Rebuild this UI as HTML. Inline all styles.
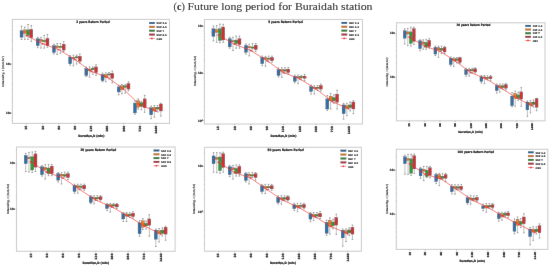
<!DOCTYPE html>
<html><head><meta charset="utf-8"><title>Future long period for Buraidah station</title>
<style>html,body{margin:0;padding:0;background:#fff;}svg{display:block;}.t{font-family:'DejaVu Sans','Liberation Sans',sans-serif;font-weight:bold;fill:#000;stroke:#000;stroke-width:0.2;}.h{font-family:"Liberation Serif","DejaVu Serif",serif;fill:#111;}</style></head><body>
<svg width="550" height="266" viewBox="0 0 550 266">
<defs><filter id="b" x="0" y="0" width="550" height="266" filterUnits="userSpaceOnUse"><feConvolveMatrix order="3" kernelMatrix="0.0035 0.0587 0.0035 0.0587 1.0000 0.0587 0.0035 0.0587 0.0035" edgeMode="duplicate" preserveAlpha="true"/></filter></defs>
<g filter="url(#b)">
<rect width="550" height="266" fill="#fff"/>
<text class="h" x="173.6" y="10.1" font-size="10.6" textLength="11.2" lengthAdjust="spacingAndGlyphs" stroke="#111" stroke-width="0.06">(<tspan font-weight="bold">c</tspan>)</text>
<text class="h" x="187.5" y="10.1" font-size="10.6" textLength="185" lengthAdjust="spacingAndGlyphs" stroke="#111" stroke-width="0.06">Future long period for Buraidah station</text>
<rect x="12.4" y="19.4" width="157.1" height="104" fill="none" stroke="#cecece" stroke-width="1.1"/>
<line x1="26.4" y1="123.4" x2="26.4" y2="124.6" stroke="#777" stroke-width="0.4"/>
<line x1="42.6" y1="123.4" x2="42.6" y2="124.6" stroke="#777" stroke-width="0.4"/>
<line x1="58.8" y1="123.4" x2="58.8" y2="124.6" stroke="#777" stroke-width="0.4"/>
<line x1="75" y1="123.4" x2="75" y2="124.6" stroke="#777" stroke-width="0.4"/>
<line x1="91.2" y1="123.4" x2="91.2" y2="124.6" stroke="#777" stroke-width="0.4"/>
<line x1="107.4" y1="123.4" x2="107.4" y2="124.6" stroke="#777" stroke-width="0.4"/>
<line x1="123.6" y1="123.4" x2="123.6" y2="124.6" stroke="#777" stroke-width="0.4"/>
<line x1="139.8" y1="123.4" x2="139.8" y2="124.6" stroke="#777" stroke-width="0.4"/>
<line x1="156" y1="123.4" x2="156" y2="124.6" stroke="#777" stroke-width="0.4"/>
<line x1="21.54" y1="26.1" x2="21.54" y2="30.7" stroke="#707070" stroke-width="0.45"/>
<line x1="21.54" y1="37.3" x2="21.54" y2="39.5" stroke="#707070" stroke-width="0.45"/>
<line x1="20.73" y1="26.1" x2="22.35" y2="26.1" stroke="#555" stroke-width="0.55"/>
<line x1="20.73" y1="39.5" x2="22.35" y2="39.5" stroke="#555" stroke-width="0.55"/>
<rect x="20.02" y="30.7" width="3.04" height="6.6" fill="#2771ad" stroke="#4a4a4a" stroke-width="0.3"/>
<line x1="20.02" y1="34" x2="23.06" y2="34" stroke="#b8402c" stroke-opacity="0.75" stroke-width="0.45"/>
<line x1="24.78" y1="27.1" x2="24.78" y2="29.9" stroke="#707070" stroke-width="0.45"/>
<line x1="24.78" y1="33.6" x2="24.78" y2="39.4" stroke="#707070" stroke-width="0.45"/>
<line x1="23.97" y1="27.1" x2="25.59" y2="27.1" stroke="#555" stroke-width="0.55"/>
<line x1="23.97" y1="39.4" x2="25.59" y2="39.4" stroke="#555" stroke-width="0.55"/>
<rect x="23.26" y="29.9" width="3.04" height="3.7" fill="#ef7d1c" stroke="#4a4a4a" stroke-width="0.3"/>
<line x1="23.26" y1="31.75" x2="26.3" y2="31.75" stroke="#b8402c" stroke-opacity="0.75" stroke-width="0.45"/>
<line x1="28.02" y1="24.5" x2="28.02" y2="29.9" stroke="#707070" stroke-width="0.45"/>
<line x1="28.02" y1="35.6" x2="28.02" y2="39.4" stroke="#707070" stroke-width="0.45"/>
<line x1="27.21" y1="24.5" x2="28.83" y2="24.5" stroke="#555" stroke-width="0.55"/>
<line x1="27.21" y1="39.4" x2="28.83" y2="39.4" stroke="#555" stroke-width="0.55"/>
<rect x="26.5" y="29.9" width="3.04" height="5.7" fill="#2b9b35" stroke="#4a4a4a" stroke-width="0.3"/>
<line x1="26.5" y1="32.75" x2="29.54" y2="32.75" stroke="#b8402c" stroke-opacity="0.75" stroke-width="0.45"/>
<line x1="31.26" y1="25.5" x2="31.26" y2="29.4" stroke="#707070" stroke-width="0.45"/>
<line x1="31.26" y1="37.7" x2="31.26" y2="41.4" stroke="#707070" stroke-width="0.45"/>
<line x1="30.45" y1="25.5" x2="32.07" y2="25.5" stroke="#555" stroke-width="0.55"/>
<line x1="30.45" y1="41.4" x2="32.07" y2="41.4" stroke="#555" stroke-width="0.55"/>
<rect x="29.74" y="29.4" width="3.04" height="8.3" fill="#cf2f34" stroke="#4a4a4a" stroke-width="0.3"/>
<line x1="29.74" y1="33.55" x2="32.78" y2="33.55" stroke="#b8402c" stroke-opacity="0.75" stroke-width="0.45"/>
<line x1="37.74" y1="37.4" x2="37.74" y2="38.8" stroke="#707070" stroke-width="0.45"/>
<line x1="37.74" y1="45.7" x2="37.74" y2="47.7" stroke="#707070" stroke-width="0.45"/>
<line x1="36.93" y1="37.4" x2="38.55" y2="37.4" stroke="#555" stroke-width="0.55"/>
<line x1="36.93" y1="47.7" x2="38.55" y2="47.7" stroke="#555" stroke-width="0.55"/>
<rect x="36.22" y="38.8" width="3.04" height="6.9" fill="#2771ad" stroke="#4a4a4a" stroke-width="0.3"/>
<line x1="36.22" y1="42.25" x2="39.26" y2="42.25" stroke="#b8402c" stroke-opacity="0.75" stroke-width="0.45"/>
<line x1="40.98" y1="37.4" x2="40.98" y2="39.3" stroke="#707070" stroke-width="0.45"/>
<line x1="40.98" y1="41.3" x2="40.98" y2="48.1" stroke="#707070" stroke-width="0.45"/>
<line x1="40.17" y1="37.4" x2="41.79" y2="37.4" stroke="#555" stroke-width="0.55"/>
<line x1="40.17" y1="48.1" x2="41.79" y2="48.1" stroke="#555" stroke-width="0.55"/>
<rect x="39.46" y="39.3" width="3.04" height="2" fill="#ef7d1c" stroke="#4a4a4a" stroke-width="0.3"/>
<line x1="39.46" y1="40.3" x2="42.5" y2="40.3" stroke="#b8402c" stroke-opacity="0.75" stroke-width="0.45"/>
<line x1="44.22" y1="35.4" x2="44.22" y2="40.3" stroke="#707070" stroke-width="0.45"/>
<line x1="44.22" y1="41.8" x2="44.22" y2="48.1" stroke="#707070" stroke-width="0.45"/>
<line x1="43.41" y1="35.4" x2="45.03" y2="35.4" stroke="#555" stroke-width="0.55"/>
<line x1="43.41" y1="48.1" x2="45.03" y2="48.1" stroke="#555" stroke-width="0.55"/>
<rect x="42.7" y="40.3" width="3.04" height="1.5" fill="#2b9b35" stroke="#4a4a4a" stroke-width="0.3"/>
<line x1="42.7" y1="41.05" x2="45.74" y2="41.05" stroke="#b8402c" stroke-opacity="0.75" stroke-width="0.45"/>
<line x1="47.46" y1="34.4" x2="47.46" y2="38.4" stroke="#707070" stroke-width="0.45"/>
<line x1="47.46" y1="45.7" x2="47.46" y2="47.2" stroke="#707070" stroke-width="0.45"/>
<line x1="46.65" y1="34.4" x2="48.27" y2="34.4" stroke="#555" stroke-width="0.55"/>
<line x1="46.65" y1="47.2" x2="48.27" y2="47.2" stroke="#555" stroke-width="0.55"/>
<rect x="45.94" y="38.4" width="3.04" height="7.3" fill="#cf2f34" stroke="#4a4a4a" stroke-width="0.3"/>
<line x1="45.94" y1="42.05" x2="48.98" y2="42.05" stroke="#b8402c" stroke-opacity="0.75" stroke-width="0.45"/>
<line x1="53.94" y1="44.2" x2="53.94" y2="45.7" stroke="#707070" stroke-width="0.45"/>
<line x1="53.94" y1="52.5" x2="53.94" y2="54" stroke="#707070" stroke-width="0.45"/>
<line x1="53.13" y1="44.2" x2="54.75" y2="44.2" stroke="#555" stroke-width="0.55"/>
<line x1="53.13" y1="54" x2="54.75" y2="54" stroke="#555" stroke-width="0.55"/>
<rect x="52.42" y="45.7" width="3.04" height="6.8" fill="#2771ad" stroke="#4a4a4a" stroke-width="0.3"/>
<line x1="52.42" y1="49.1" x2="55.46" y2="49.1" stroke="#b8402c" stroke-opacity="0.75" stroke-width="0.45"/>
<line x1="57.18" y1="43.5" x2="57.18" y2="45.9" stroke="#707070" stroke-width="0.45"/>
<line x1="57.18" y1="47.7" x2="57.18" y2="54.5" stroke="#707070" stroke-width="0.45"/>
<line x1="56.37" y1="43.5" x2="57.99" y2="43.5" stroke="#555" stroke-width="0.55"/>
<line x1="56.37" y1="54.5" x2="57.99" y2="54.5" stroke="#555" stroke-width="0.55"/>
<rect x="55.66" y="45.9" width="3.04" height="1.8" fill="#ef7d1c" stroke="#4a4a4a" stroke-width="0.3"/>
<line x1="55.66" y1="46.8" x2="58.7" y2="46.8" stroke="#b8402c" stroke-opacity="0.75" stroke-width="0.45"/>
<line x1="60.42" y1="43.5" x2="60.42" y2="46.2" stroke="#707070" stroke-width="0.45"/>
<line x1="60.42" y1="47.5" x2="60.42" y2="53.3" stroke="#707070" stroke-width="0.45"/>
<line x1="59.61" y1="43.5" x2="61.23" y2="43.5" stroke="#555" stroke-width="0.55"/>
<line x1="59.61" y1="53.3" x2="61.23" y2="53.3" stroke="#555" stroke-width="0.55"/>
<rect x="58.9" y="46.2" width="3.04" height="1.3" fill="#2b9b35" stroke="#4a4a4a" stroke-width="0.3"/>
<line x1="58.9" y1="46.85" x2="61.94" y2="46.85" stroke="#b8402c" stroke-opacity="0.75" stroke-width="0.45"/>
<line x1="63.66" y1="41.6" x2="63.66" y2="44.2" stroke="#707070" stroke-width="0.45"/>
<line x1="63.66" y1="50.1" x2="63.66" y2="51.6" stroke="#707070" stroke-width="0.45"/>
<line x1="62.85" y1="41.6" x2="64.47" y2="41.6" stroke="#555" stroke-width="0.55"/>
<line x1="62.85" y1="51.6" x2="64.47" y2="51.6" stroke="#555" stroke-width="0.55"/>
<rect x="62.14" y="44.2" width="3.04" height="5.9" fill="#cf2f34" stroke="#4a4a4a" stroke-width="0.3"/>
<line x1="62.14" y1="47.15" x2="65.18" y2="47.15" stroke="#b8402c" stroke-opacity="0.75" stroke-width="0.45"/>
<line x1="70.14" y1="55.6" x2="70.14" y2="57" stroke="#707070" stroke-width="0.45"/>
<line x1="70.14" y1="63.8" x2="70.14" y2="65.2" stroke="#707070" stroke-width="0.45"/>
<line x1="69.33" y1="55.6" x2="70.95" y2="55.6" stroke="#555" stroke-width="0.55"/>
<line x1="69.33" y1="65.2" x2="70.95" y2="65.2" stroke="#555" stroke-width="0.55"/>
<rect x="68.62" y="57" width="3.04" height="6.8" fill="#2771ad" stroke="#4a4a4a" stroke-width="0.3"/>
<line x1="68.62" y1="60.4" x2="71.66" y2="60.4" stroke="#b8402c" stroke-opacity="0.75" stroke-width="0.45"/>
<line x1="73.38" y1="55.1" x2="73.38" y2="57.3" stroke="#707070" stroke-width="0.45"/>
<line x1="73.38" y1="59" x2="73.38" y2="65.8" stroke="#707070" stroke-width="0.45"/>
<line x1="72.57" y1="55.1" x2="74.19" y2="55.1" stroke="#555" stroke-width="0.55"/>
<line x1="72.57" y1="65.8" x2="74.19" y2="65.8" stroke="#555" stroke-width="0.55"/>
<rect x="71.86" y="57.3" width="3.04" height="1.7" fill="#ef7d1c" stroke="#4a4a4a" stroke-width="0.3"/>
<line x1="71.86" y1="58.15" x2="74.9" y2="58.15" stroke="#b8402c" stroke-opacity="0.75" stroke-width="0.45"/>
<line x1="76.62" y1="55.1" x2="76.62" y2="56.8" stroke="#707070" stroke-width="0.45"/>
<line x1="76.62" y1="57.9" x2="76.62" y2="64.1" stroke="#707070" stroke-width="0.45"/>
<line x1="75.81" y1="55.1" x2="77.43" y2="55.1" stroke="#555" stroke-width="0.55"/>
<line x1="75.81" y1="64.1" x2="77.43" y2="64.1" stroke="#555" stroke-width="0.55"/>
<rect x="75.1" y="56.8" width="3.04" height="1.1" fill="#2b9b35" stroke="#4a4a4a" stroke-width="0.3"/>
<line x1="75.1" y1="57.35" x2="78.14" y2="57.35" stroke="#b8402c" stroke-opacity="0.75" stroke-width="0.45"/>
<line x1="79.86" y1="54" x2="79.86" y2="56.2" stroke="#707070" stroke-width="0.45"/>
<line x1="79.86" y1="61.3" x2="79.86" y2="63" stroke="#707070" stroke-width="0.45"/>
<line x1="79.05" y1="54" x2="80.67" y2="54" stroke="#555" stroke-width="0.55"/>
<line x1="79.05" y1="63" x2="80.67" y2="63" stroke="#555" stroke-width="0.55"/>
<rect x="78.34" y="56.2" width="3.04" height="5.1" fill="#cf2f34" stroke="#4a4a4a" stroke-width="0.3"/>
<line x1="78.34" y1="58.75" x2="81.38" y2="58.75" stroke="#b8402c" stroke-opacity="0.75" stroke-width="0.45"/>
<line x1="86.34" y1="67" x2="86.34" y2="68.6" stroke="#707070" stroke-width="0.45"/>
<line x1="86.34" y1="75.4" x2="86.34" y2="76.5" stroke="#707070" stroke-width="0.45"/>
<line x1="85.53" y1="67" x2="87.15" y2="67" stroke="#555" stroke-width="0.55"/>
<line x1="85.53" y1="76.5" x2="87.15" y2="76.5" stroke="#555" stroke-width="0.55"/>
<rect x="84.82" y="68.6" width="3.04" height="6.8" fill="#2771ad" stroke="#4a4a4a" stroke-width="0.3"/>
<line x1="84.82" y1="72" x2="87.86" y2="72" stroke="#b8402c" stroke-opacity="0.75" stroke-width="0.45"/>
<line x1="89.58" y1="66.9" x2="89.58" y2="69" stroke="#707070" stroke-width="0.45"/>
<line x1="89.58" y1="70.9" x2="89.58" y2="77.1" stroke="#707070" stroke-width="0.45"/>
<line x1="88.77" y1="66.9" x2="90.39" y2="66.9" stroke="#555" stroke-width="0.55"/>
<line x1="88.77" y1="77.1" x2="90.39" y2="77.1" stroke="#555" stroke-width="0.55"/>
<rect x="88.06" y="69" width="3.04" height="1.9" fill="#ef7d1c" stroke="#4a4a4a" stroke-width="0.3"/>
<line x1="88.06" y1="69.95" x2="91.1" y2="69.95" stroke="#b8402c" stroke-opacity="0.75" stroke-width="0.45"/>
<line x1="92.82" y1="66.9" x2="92.82" y2="68.1" stroke="#707070" stroke-width="0.45"/>
<line x1="92.82" y1="69.8" x2="92.82" y2="74.3" stroke="#707070" stroke-width="0.45"/>
<line x1="92.01" y1="66.9" x2="93.63" y2="66.9" stroke="#555" stroke-width="0.55"/>
<line x1="92.01" y1="74.3" x2="93.63" y2="74.3" stroke="#555" stroke-width="0.55"/>
<rect x="91.3" y="68.1" width="3.04" height="1.7" fill="#2b9b35" stroke="#4a4a4a" stroke-width="0.3"/>
<line x1="91.3" y1="68.95" x2="94.34" y2="68.95" stroke="#b8402c" stroke-opacity="0.75" stroke-width="0.45"/>
<line x1="96.06" y1="64.7" x2="96.06" y2="66.9" stroke="#707070" stroke-width="0.45"/>
<line x1="96.06" y1="72.6" x2="96.06" y2="75.4" stroke="#707070" stroke-width="0.45"/>
<line x1="95.25" y1="64.7" x2="96.87" y2="64.7" stroke="#555" stroke-width="0.55"/>
<line x1="95.25" y1="75.4" x2="96.87" y2="75.4" stroke="#555" stroke-width="0.55"/>
<rect x="94.54" y="66.9" width="3.04" height="5.7" fill="#cf2f34" stroke="#4a4a4a" stroke-width="0.3"/>
<line x1="94.54" y1="69.75" x2="97.58" y2="69.75" stroke="#b8402c" stroke-opacity="0.75" stroke-width="0.45"/>
<line x1="102.54" y1="73" x2="102.54" y2="74.5" stroke="#707070" stroke-width="0.45"/>
<line x1="102.54" y1="80.7" x2="102.54" y2="81.8" stroke="#707070" stroke-width="0.45"/>
<line x1="101.73" y1="73" x2="103.35" y2="73" stroke="#555" stroke-width="0.55"/>
<line x1="101.73" y1="81.8" x2="103.35" y2="81.8" stroke="#555" stroke-width="0.55"/>
<rect x="101.02" y="74.5" width="3.04" height="6.2" fill="#2771ad" stroke="#4a4a4a" stroke-width="0.3"/>
<line x1="101.02" y1="77.6" x2="104.06" y2="77.6" stroke="#b8402c" stroke-opacity="0.75" stroke-width="0.45"/>
<line x1="105.78" y1="72.8" x2="105.78" y2="74.5" stroke="#707070" stroke-width="0.45"/>
<line x1="105.78" y1="77.5" x2="105.78" y2="81.8" stroke="#707070" stroke-width="0.45"/>
<line x1="104.97" y1="72.8" x2="106.59" y2="72.8" stroke="#555" stroke-width="0.55"/>
<line x1="104.97" y1="81.8" x2="106.59" y2="81.8" stroke="#555" stroke-width="0.55"/>
<rect x="104.26" y="74.5" width="3.04" height="3" fill="#ef7d1c" stroke="#4a4a4a" stroke-width="0.3"/>
<line x1="104.26" y1="76" x2="107.3" y2="76" stroke="#b8402c" stroke-opacity="0.75" stroke-width="0.45"/>
<line x1="109.02" y1="72.5" x2="109.02" y2="73.9" stroke="#707070" stroke-width="0.45"/>
<line x1="109.02" y1="75" x2="109.02" y2="79" stroke="#707070" stroke-width="0.45"/>
<line x1="108.21" y1="72.5" x2="109.83" y2="72.5" stroke="#555" stroke-width="0.55"/>
<line x1="108.21" y1="79" x2="109.83" y2="79" stroke="#555" stroke-width="0.55"/>
<rect x="107.5" y="73.9" width="3.04" height="1.1" fill="#2b9b35" stroke="#4a4a4a" stroke-width="0.3"/>
<line x1="107.5" y1="74.45" x2="110.54" y2="74.45" stroke="#b8402c" stroke-opacity="0.75" stroke-width="0.45"/>
<line x1="112.26" y1="71.1" x2="112.26" y2="73.3" stroke="#707070" stroke-width="0.45"/>
<line x1="112.26" y1="78.4" x2="112.26" y2="82.9" stroke="#707070" stroke-width="0.45"/>
<line x1="111.45" y1="71.1" x2="113.07" y2="71.1" stroke="#555" stroke-width="0.55"/>
<line x1="111.45" y1="82.9" x2="113.07" y2="82.9" stroke="#555" stroke-width="0.55"/>
<rect x="110.74" y="73.3" width="3.04" height="5.1" fill="#cf2f34" stroke="#4a4a4a" stroke-width="0.3"/>
<line x1="110.74" y1="75.85" x2="113.78" y2="75.85" stroke="#b8402c" stroke-opacity="0.75" stroke-width="0.45"/>
<line x1="118.74" y1="85.3" x2="118.74" y2="86.9" stroke="#707070" stroke-width="0.45"/>
<line x1="118.74" y1="92" x2="118.74" y2="94.8" stroke="#707070" stroke-width="0.45"/>
<line x1="117.93" y1="85.3" x2="119.55" y2="85.3" stroke="#555" stroke-width="0.55"/>
<line x1="117.93" y1="94.8" x2="119.55" y2="94.8" stroke="#555" stroke-width="0.55"/>
<rect x="117.22" y="86.9" width="3.04" height="5.1" fill="#2771ad" stroke="#4a4a4a" stroke-width="0.3"/>
<line x1="117.22" y1="89.45" x2="120.26" y2="89.45" stroke="#b8402c" stroke-opacity="0.75" stroke-width="0.45"/>
<line x1="121.98" y1="84.6" x2="121.98" y2="85.8" stroke="#707070" stroke-width="0.45"/>
<line x1="121.98" y1="89.7" x2="121.98" y2="93.7" stroke="#707070" stroke-width="0.45"/>
<line x1="121.17" y1="84.6" x2="122.79" y2="84.6" stroke="#555" stroke-width="0.55"/>
<line x1="121.17" y1="93.7" x2="122.79" y2="93.7" stroke="#555" stroke-width="0.55"/>
<rect x="120.46" y="85.8" width="3.04" height="3.9" fill="#ef7d1c" stroke="#4a4a4a" stroke-width="0.3"/>
<line x1="120.46" y1="87.75" x2="123.5" y2="87.75" stroke="#b8402c" stroke-opacity="0.75" stroke-width="0.45"/>
<line x1="125.22" y1="84.6" x2="125.22" y2="85.8" stroke="#707070" stroke-width="0.45"/>
<line x1="125.22" y1="87.4" x2="125.22" y2="93.1" stroke="#707070" stroke-width="0.45"/>
<line x1="124.41" y1="84.6" x2="126.03" y2="84.6" stroke="#555" stroke-width="0.55"/>
<line x1="124.41" y1="93.1" x2="126.03" y2="93.1" stroke="#555" stroke-width="0.55"/>
<rect x="123.7" y="85.8" width="3.04" height="1.6" fill="#2b9b35" stroke="#4a4a4a" stroke-width="0.3"/>
<line x1="123.7" y1="86.6" x2="126.74" y2="86.6" stroke="#b8402c" stroke-opacity="0.75" stroke-width="0.45"/>
<line x1="128.46" y1="81.8" x2="128.46" y2="83.5" stroke="#707070" stroke-width="0.45"/>
<line x1="128.46" y1="89.1" x2="128.46" y2="90.8" stroke="#707070" stroke-width="0.45"/>
<line x1="127.65" y1="81.8" x2="129.27" y2="81.8" stroke="#555" stroke-width="0.55"/>
<line x1="127.65" y1="90.8" x2="129.27" y2="90.8" stroke="#555" stroke-width="0.55"/>
<rect x="126.94" y="83.5" width="3.04" height="5.6" fill="#cf2f34" stroke="#4a4a4a" stroke-width="0.3"/>
<line x1="126.94" y1="86.3" x2="129.98" y2="86.3" stroke="#b8402c" stroke-opacity="0.75" stroke-width="0.45"/>
<line x1="134.94" y1="101" x2="134.94" y2="103.1" stroke="#707070" stroke-width="0.45"/>
<line x1="134.94" y1="112.9" x2="134.94" y2="114.2" stroke="#707070" stroke-width="0.45"/>
<line x1="134.13" y1="101" x2="135.75" y2="101" stroke="#555" stroke-width="0.55"/>
<line x1="134.13" y1="114.2" x2="135.75" y2="114.2" stroke="#555" stroke-width="0.55"/>
<rect x="133.42" y="103.1" width="3.04" height="9.8" fill="#2771ad" stroke="#4a4a4a" stroke-width="0.3"/>
<line x1="133.42" y1="108" x2="136.46" y2="108" stroke="#b8402c" stroke-opacity="0.75" stroke-width="0.45"/>
<line x1="138.18" y1="98.9" x2="138.18" y2="100.8" stroke="#707070" stroke-width="0.45"/>
<line x1="138.18" y1="107.2" x2="138.18" y2="109.1" stroke="#707070" stroke-width="0.45"/>
<line x1="137.37" y1="98.9" x2="138.99" y2="98.9" stroke="#555" stroke-width="0.55"/>
<line x1="137.37" y1="109.1" x2="138.99" y2="109.1" stroke="#555" stroke-width="0.55"/>
<rect x="136.66" y="100.8" width="3.04" height="6.4" fill="#ef7d1c" stroke="#4a4a4a" stroke-width="0.3"/>
<line x1="136.66" y1="104" x2="139.7" y2="104" stroke="#b8402c" stroke-opacity="0.75" stroke-width="0.45"/>
<line x1="141.42" y1="101.4" x2="141.42" y2="102.7" stroke="#707070" stroke-width="0.45"/>
<line x1="141.42" y1="106.5" x2="141.42" y2="109.7" stroke="#707070" stroke-width="0.45"/>
<line x1="140.61" y1="101.4" x2="142.23" y2="101.4" stroke="#555" stroke-width="0.55"/>
<line x1="140.61" y1="109.7" x2="142.23" y2="109.7" stroke="#555" stroke-width="0.55"/>
<rect x="139.9" y="102.7" width="3.04" height="3.8" fill="#2b9b35" stroke="#4a4a4a" stroke-width="0.3"/>
<line x1="139.9" y1="104.6" x2="142.94" y2="104.6" stroke="#b8402c" stroke-opacity="0.75" stroke-width="0.45"/>
<line x1="144.66" y1="95.4" x2="144.66" y2="98.9" stroke="#707070" stroke-width="0.45"/>
<line x1="144.66" y1="107.8" x2="144.66" y2="112.3" stroke="#707070" stroke-width="0.45"/>
<line x1="143.85" y1="95.4" x2="145.47" y2="95.4" stroke="#555" stroke-width="0.55"/>
<line x1="143.85" y1="112.3" x2="145.47" y2="112.3" stroke="#555" stroke-width="0.55"/>
<rect x="143.14" y="98.9" width="3.04" height="8.9" fill="#cf2f34" stroke="#4a4a4a" stroke-width="0.3"/>
<line x1="143.14" y1="103.35" x2="146.18" y2="103.35" stroke="#b8402c" stroke-opacity="0.75" stroke-width="0.45"/>
<line x1="151.14" y1="106" x2="151.14" y2="107.8" stroke="#707070" stroke-width="0.45"/>
<line x1="151.14" y1="114.8" x2="151.14" y2="118.7" stroke="#707070" stroke-width="0.45"/>
<line x1="150.33" y1="106" x2="151.95" y2="106" stroke="#555" stroke-width="0.55"/>
<line x1="150.33" y1="118.7" x2="151.95" y2="118.7" stroke="#555" stroke-width="0.55"/>
<rect x="149.62" y="107.8" width="3.04" height="7" fill="#2771ad" stroke="#4a4a4a" stroke-width="0.3"/>
<line x1="149.62" y1="111.3" x2="152.66" y2="111.3" stroke="#b8402c" stroke-opacity="0.75" stroke-width="0.45"/>
<line x1="154.38" y1="105.5" x2="154.38" y2="107.2" stroke="#707070" stroke-width="0.45"/>
<line x1="154.38" y1="111" x2="154.38" y2="117.1" stroke="#707070" stroke-width="0.45"/>
<line x1="153.57" y1="105.5" x2="155.19" y2="105.5" stroke="#555" stroke-width="0.55"/>
<line x1="153.57" y1="117.1" x2="155.19" y2="117.1" stroke="#555" stroke-width="0.55"/>
<rect x="152.86" y="107.2" width="3.04" height="3.8" fill="#ef7d1c" stroke="#4a4a4a" stroke-width="0.3"/>
<line x1="152.86" y1="109.1" x2="155.9" y2="109.1" stroke="#b8402c" stroke-opacity="0.75" stroke-width="0.45"/>
<line x1="157.62" y1="105.5" x2="157.62" y2="107.2" stroke="#707070" stroke-width="0.45"/>
<line x1="157.62" y1="109.1" x2="157.62" y2="112" stroke="#707070" stroke-width="0.45"/>
<line x1="156.81" y1="105.5" x2="158.43" y2="105.5" stroke="#555" stroke-width="0.55"/>
<line x1="156.81" y1="112" x2="158.43" y2="112" stroke="#555" stroke-width="0.55"/>
<rect x="156.1" y="107.2" width="3.04" height="1.9" fill="#2b9b35" stroke="#4a4a4a" stroke-width="0.3"/>
<line x1="156.1" y1="108.15" x2="159.14" y2="108.15" stroke="#b8402c" stroke-opacity="0.75" stroke-width="0.45"/>
<line x1="160.86" y1="103.3" x2="160.86" y2="104" stroke="#707070" stroke-width="0.45"/>
<line x1="160.86" y1="111" x2="160.86" y2="116.1" stroke="#707070" stroke-width="0.45"/>
<line x1="160.05" y1="103.3" x2="161.67" y2="103.3" stroke="#555" stroke-width="0.55"/>
<line x1="160.05" y1="116.1" x2="161.67" y2="116.1" stroke="#555" stroke-width="0.55"/>
<rect x="159.34" y="104" width="3.04" height="7" fill="#cf2f34" stroke="#4a4a4a" stroke-width="0.3"/>
<line x1="159.34" y1="107.5" x2="162.38" y2="107.5" stroke="#b8402c" stroke-opacity="0.75" stroke-width="0.45"/>
<polyline points="26.4,35.6 42.6,43.7 58.8,49.6 75,59.6 91.2,71.4 107.4,77.3 123.6,89.1 139.8,105 156,111.2" fill="none" stroke="#f02a2a" stroke-width="0.7" stroke-opacity="0.9"/>
<circle cx="26.4" cy="35.6" r="0.9" fill="#f02a2a"/>
<circle cx="42.6" cy="43.7" r="0.9" fill="#f02a2a"/>
<circle cx="58.8" cy="49.6" r="0.9" fill="#f02a2a"/>
<circle cx="75" cy="59.6" r="0.9" fill="#f02a2a"/>
<circle cx="91.2" cy="71.4" r="0.9" fill="#f02a2a"/>
<circle cx="107.4" cy="77.3" r="0.9" fill="#f02a2a"/>
<circle cx="123.6" cy="89.1" r="0.9" fill="#f02a2a"/>
<circle cx="139.8" cy="105" r="0.9" fill="#f02a2a"/>
<circle cx="156" cy="111.2" r="0.9" fill="#f02a2a"/>
<text class="t" x="92.9" y="21.8" font-size="3.15" text-anchor="middle" dominant-baseline="middle" textLength="33.4" lengthAdjust="spacingAndGlyphs">2 years Return Period</text>
<line x1="11.2" y1="64.2" x2="12.4" y2="64.2" stroke="#777" stroke-width="0.4"/>
<text class="t" x="11" y="64.25" font-size="2.9" text-anchor="end" dominant-baseline="middle" style="stroke-width:0.16;fill:#111;stroke:#111">10<tspan font-size="1.9" dy="-0.55">1</tspan></text>
<line x1="11.2" y1="113" x2="12.4" y2="113" stroke="#777" stroke-width="0.4"/>
<text class="t" x="11" y="113.05" font-size="2.9" text-anchor="end" dominant-baseline="middle" style="stroke-width:0.16;fill:#111;stroke:#111">10<tspan font-size="1.9" dy="-0.55">0</tspan></text>
<line x1="11.6" y1="120.56" x2="12.4" y2="120.56" stroke="#999" stroke-width="0.3"/>
<line x1="11.6" y1="117.73" x2="12.4" y2="117.73" stroke="#999" stroke-width="0.3"/>
<line x1="11.6" y1="115.23" x2="12.4" y2="115.23" stroke="#999" stroke-width="0.3"/>
<line x1="11.6" y1="98.31" x2="12.4" y2="98.31" stroke="#999" stroke-width="0.3"/>
<line x1="11.6" y1="89.72" x2="12.4" y2="89.72" stroke="#999" stroke-width="0.3"/>
<line x1="11.6" y1="83.62" x2="12.4" y2="83.62" stroke="#999" stroke-width="0.3"/>
<line x1="11.6" y1="78.89" x2="12.4" y2="78.89" stroke="#999" stroke-width="0.3"/>
<line x1="11.6" y1="75.03" x2="12.4" y2="75.03" stroke="#999" stroke-width="0.3"/>
<line x1="11.6" y1="71.76" x2="12.4" y2="71.76" stroke="#999" stroke-width="0.3"/>
<line x1="11.6" y1="68.93" x2="12.4" y2="68.93" stroke="#999" stroke-width="0.3"/>
<line x1="11.6" y1="66.43" x2="12.4" y2="66.43" stroke="#999" stroke-width="0.3"/>
<line x1="11.6" y1="49.51" x2="12.4" y2="49.51" stroke="#999" stroke-width="0.3"/>
<line x1="11.6" y1="40.92" x2="12.4" y2="40.92" stroke="#999" stroke-width="0.3"/>
<line x1="11.6" y1="34.82" x2="12.4" y2="34.82" stroke="#999" stroke-width="0.3"/>
<line x1="11.6" y1="30.09" x2="12.4" y2="30.09" stroke="#999" stroke-width="0.3"/>
<line x1="11.6" y1="26.23" x2="12.4" y2="26.23" stroke="#999" stroke-width="0.3"/>
<line x1="11.6" y1="22.96" x2="12.4" y2="22.96" stroke="#999" stroke-width="0.3"/>
<line x1="11.6" y1="20.13" x2="12.4" y2="20.13" stroke="#999" stroke-width="0.3"/>
<text class="t" font-size="2.8" text-anchor="middle" dominant-baseline="middle" style="stroke-width:0.1;fill:#1a1a1a;stroke:#1a1a1a" transform="translate(2.9,71.5) rotate(-90)">Intensity, I (mm/hr)</text>
<text class="t" x="91.4" y="135.9" font-size="3" text-anchor="middle" dominant-baseline="middle" textLength="26.2" lengthAdjust="spacingAndGlyphs">Duration,D (min)</text>
<text class="t" font-size="2.9" text-anchor="end" dominant-baseline="middle" style="stroke-width:0.2" transform="translate(26.65,125.7) rotate(-90)">15</text>
<text class="t" font-size="2.9" text-anchor="end" dominant-baseline="middle" style="stroke-width:0.2" transform="translate(42.85,125.7) rotate(-90)">30</text>
<text class="t" font-size="2.9" text-anchor="end" dominant-baseline="middle" style="stroke-width:0.2" transform="translate(59.05,125.7) rotate(-90)">60</text>
<text class="t" font-size="2.9" text-anchor="end" dominant-baseline="middle" style="stroke-width:0.2" transform="translate(75.25,125.7) rotate(-90)">90</text>
<text class="t" font-size="2.9" text-anchor="end" dominant-baseline="middle" style="stroke-width:0.2" transform="translate(91.45,125.7) rotate(-90)">120</text>
<text class="t" font-size="2.9" text-anchor="end" dominant-baseline="middle" style="stroke-width:0.2" transform="translate(107.65,125.7) rotate(-90)">180</text>
<text class="t" font-size="2.9" text-anchor="end" dominant-baseline="middle" style="stroke-width:0.2" transform="translate(123.85,125.7) rotate(-90)">360</text>
<text class="t" font-size="2.9" text-anchor="end" dominant-baseline="middle" style="stroke-width:0.2" transform="translate(140.05,125.7) rotate(-90)">720</text>
<text class="t" font-size="2.9" text-anchor="end" dominant-baseline="middle" style="stroke-width:0.2" transform="translate(156.25,125.7) rotate(-90)">1440</text>
<rect x="149.2" y="22.1" width="5.6" height="1.8" fill="#1f5e98" stroke="#333" stroke-opacity="0.5" stroke-width="0.25"/>
<text class="t" x="156.6" y="23.6" font-size="2.4" dominant-baseline="middle" style="stroke-width:0.12;fill:#111;stroke:#111">SSP 2.6</text>
<rect x="149.2" y="25.97" width="5.6" height="1.8" fill="#cf711b" stroke="#333" stroke-opacity="0.5" stroke-width="0.25"/>
<text class="t" x="156.6" y="27.47" font-size="2.4" dominant-baseline="middle" style="stroke-width:0.12;fill:#111;stroke:#111">SSP 4.5</text>
<rect x="149.2" y="29.84" width="5.6" height="1.8" fill="#207d2b" stroke="#333" stroke-opacity="0.5" stroke-width="0.25"/>
<text class="t" x="156.6" y="31.34" font-size="2.4" dominant-baseline="middle" style="stroke-width:0.12;fill:#111;stroke:#111">SSP 7</text>
<rect x="149.2" y="33.71" width="5.6" height="1.8" fill="#a92a30" stroke="#333" stroke-opacity="0.5" stroke-width="0.25"/>
<text class="t" x="156.6" y="35.21" font-size="2.4" dominant-baseline="middle" style="stroke-width:0.12;fill:#111;stroke:#111">SSP 8.5</text>
<line x1="149.1" y1="38.48" x2="154.7" y2="38.48" stroke="#f02a2a" stroke-width="0.6"/>
<circle cx="151.9" cy="38.48" r="0.9" fill="#f02a2a"/>
<text class="t" x="156.6" y="39.08" font-size="2.4" dominant-baseline="middle" style="stroke-width:0.12;fill:#111;stroke:#111">OBS</text>
<rect x="204.4" y="19.5" width="158.1" height="104.5" fill="none" stroke="#cecece" stroke-width="1.1"/>
<line x1="218.3" y1="124" x2="218.3" y2="125.2" stroke="#777" stroke-width="0.4"/>
<line x1="234.58" y1="124" x2="234.58" y2="125.2" stroke="#777" stroke-width="0.4"/>
<line x1="250.85" y1="124" x2="250.85" y2="125.2" stroke="#777" stroke-width="0.4"/>
<line x1="267.12" y1="124" x2="267.12" y2="125.2" stroke="#777" stroke-width="0.4"/>
<line x1="283.4" y1="124" x2="283.4" y2="125.2" stroke="#777" stroke-width="0.4"/>
<line x1="299.68" y1="124" x2="299.68" y2="125.2" stroke="#777" stroke-width="0.4"/>
<line x1="315.95" y1="124" x2="315.95" y2="125.2" stroke="#777" stroke-width="0.4"/>
<line x1="332.23" y1="124" x2="332.23" y2="125.2" stroke="#777" stroke-width="0.4"/>
<line x1="348.5" y1="124" x2="348.5" y2="125.2" stroke="#777" stroke-width="0.4"/>
<line x1="213.42" y1="26.1" x2="213.42" y2="28.8" stroke="#707070" stroke-width="0.45"/>
<line x1="213.42" y1="36.4" x2="213.42" y2="40.9" stroke="#707070" stroke-width="0.45"/>
<line x1="212.6" y1="26.1" x2="214.23" y2="26.1" stroke="#555" stroke-width="0.55"/>
<line x1="212.6" y1="40.9" x2="214.23" y2="40.9" stroke="#555" stroke-width="0.55"/>
<rect x="211.89" y="28.8" width="3.06" height="7.6" fill="#2771ad" stroke="#4a4a4a" stroke-width="0.3"/>
<line x1="211.89" y1="32.6" x2="214.95" y2="32.6" stroke="#b8402c" stroke-opacity="0.75" stroke-width="0.45"/>
<line x1="216.67" y1="25.6" x2="216.67" y2="29.7" stroke="#707070" stroke-width="0.45"/>
<line x1="216.67" y1="32.4" x2="216.67" y2="42.3" stroke="#707070" stroke-width="0.45"/>
<line x1="215.86" y1="25.6" x2="217.49" y2="25.6" stroke="#555" stroke-width="0.55"/>
<line x1="215.86" y1="42.3" x2="217.49" y2="42.3" stroke="#555" stroke-width="0.55"/>
<rect x="215.15" y="29.7" width="3.06" height="2.7" fill="#ef7d1c" stroke="#4a4a4a" stroke-width="0.3"/>
<line x1="215.15" y1="31.05" x2="218.2" y2="31.05" stroke="#b8402c" stroke-opacity="0.75" stroke-width="0.45"/>
<line x1="219.93" y1="24.1" x2="219.93" y2="28.8" stroke="#707070" stroke-width="0.45"/>
<line x1="219.93" y1="40.5" x2="219.93" y2="42.7" stroke="#707070" stroke-width="0.45"/>
<line x1="219.11" y1="24.1" x2="220.74" y2="24.1" stroke="#555" stroke-width="0.55"/>
<line x1="219.11" y1="42.7" x2="220.74" y2="42.7" stroke="#555" stroke-width="0.55"/>
<rect x="218.4" y="28.8" width="3.06" height="11.7" fill="#2b9b35" stroke="#4a4a4a" stroke-width="0.3"/>
<line x1="218.4" y1="34.65" x2="221.46" y2="34.65" stroke="#b8402c" stroke-opacity="0.75" stroke-width="0.45"/>
<line x1="223.18" y1="24.3" x2="223.18" y2="27" stroke="#707070" stroke-width="0.45"/>
<line x1="223.18" y1="40" x2="223.18" y2="42.3" stroke="#707070" stroke-width="0.45"/>
<line x1="222.37" y1="24.3" x2="224" y2="24.3" stroke="#555" stroke-width="0.55"/>
<line x1="222.37" y1="42.3" x2="224" y2="42.3" stroke="#555" stroke-width="0.55"/>
<rect x="221.66" y="27" width="3.06" height="13" fill="#cf2f34" stroke="#4a4a4a" stroke-width="0.3"/>
<line x1="221.66" y1="33.5" x2="224.71" y2="33.5" stroke="#b8402c" stroke-opacity="0.75" stroke-width="0.45"/>
<line x1="229.7" y1="37.2" x2="229.7" y2="38.8" stroke="#707070" stroke-width="0.45"/>
<line x1="229.7" y1="46.9" x2="229.7" y2="48.2" stroke="#707070" stroke-width="0.45"/>
<line x1="228.88" y1="37.2" x2="230.51" y2="37.2" stroke="#555" stroke-width="0.55"/>
<line x1="228.88" y1="48.2" x2="230.51" y2="48.2" stroke="#555" stroke-width="0.55"/>
<rect x="228.17" y="38.8" width="3.06" height="8.1" fill="#2771ad" stroke="#4a4a4a" stroke-width="0.3"/>
<line x1="228.17" y1="42.85" x2="231.23" y2="42.85" stroke="#b8402c" stroke-opacity="0.75" stroke-width="0.45"/>
<line x1="232.95" y1="37.2" x2="232.95" y2="40.6" stroke="#707070" stroke-width="0.45"/>
<line x1="232.95" y1="41.9" x2="232.95" y2="50.5" stroke="#707070" stroke-width="0.45"/>
<line x1="232.14" y1="37.2" x2="233.77" y2="37.2" stroke="#555" stroke-width="0.55"/>
<line x1="232.14" y1="50.5" x2="233.77" y2="50.5" stroke="#555" stroke-width="0.55"/>
<rect x="231.43" y="40.6" width="3.06" height="1.3" fill="#ef7d1c" stroke="#4a4a4a" stroke-width="0.3"/>
<line x1="231.43" y1="41.25" x2="234.48" y2="41.25" stroke="#b8402c" stroke-opacity="0.75" stroke-width="0.45"/>
<line x1="236.21" y1="36.1" x2="236.21" y2="40.1" stroke="#707070" stroke-width="0.45"/>
<line x1="236.21" y1="43.7" x2="236.21" y2="48.2" stroke="#707070" stroke-width="0.45"/>
<line x1="235.39" y1="36.1" x2="237.02" y2="36.1" stroke="#555" stroke-width="0.55"/>
<line x1="235.39" y1="48.2" x2="237.02" y2="48.2" stroke="#555" stroke-width="0.55"/>
<rect x="234.68" y="40.1" width="3.06" height="3.6" fill="#2b9b35" stroke="#4a4a4a" stroke-width="0.3"/>
<line x1="234.68" y1="41.9" x2="237.74" y2="41.9" stroke="#b8402c" stroke-opacity="0.75" stroke-width="0.45"/>
<line x1="239.46" y1="36.1" x2="239.46" y2="38.8" stroke="#707070" stroke-width="0.45"/>
<line x1="239.46" y1="44.6" x2="239.46" y2="48.2" stroke="#707070" stroke-width="0.45"/>
<line x1="238.65" y1="36.1" x2="240.28" y2="36.1" stroke="#555" stroke-width="0.55"/>
<line x1="238.65" y1="48.2" x2="240.28" y2="48.2" stroke="#555" stroke-width="0.55"/>
<rect x="237.94" y="38.8" width="3.06" height="5.8" fill="#cf2f34" stroke="#4a4a4a" stroke-width="0.3"/>
<line x1="237.94" y1="41.7" x2="240.99" y2="41.7" stroke="#b8402c" stroke-opacity="0.75" stroke-width="0.45"/>
<line x1="245.97" y1="44" x2="245.97" y2="45.5" stroke="#707070" stroke-width="0.45"/>
<line x1="245.97" y1="52.3" x2="245.97" y2="54.1" stroke="#707070" stroke-width="0.45"/>
<line x1="245.15" y1="44" x2="246.78" y2="44" stroke="#555" stroke-width="0.55"/>
<line x1="245.15" y1="54.1" x2="246.78" y2="54.1" stroke="#555" stroke-width="0.55"/>
<rect x="244.44" y="45.5" width="3.06" height="6.8" fill="#2771ad" stroke="#4a4a4a" stroke-width="0.3"/>
<line x1="244.44" y1="48.9" x2="247.5" y2="48.9" stroke="#b8402c" stroke-opacity="0.75" stroke-width="0.45"/>
<line x1="249.22" y1="44.2" x2="249.22" y2="46.4" stroke="#707070" stroke-width="0.45"/>
<line x1="249.22" y1="47.8" x2="249.22" y2="55.9" stroke="#707070" stroke-width="0.45"/>
<line x1="248.41" y1="44.2" x2="250.04" y2="44.2" stroke="#555" stroke-width="0.55"/>
<line x1="248.41" y1="55.9" x2="250.04" y2="55.9" stroke="#555" stroke-width="0.55"/>
<rect x="247.69" y="46.4" width="3.06" height="1.4" fill="#ef7d1c" stroke="#4a4a4a" stroke-width="0.3"/>
<line x1="247.69" y1="47.1" x2="250.75" y2="47.1" stroke="#b8402c" stroke-opacity="0.75" stroke-width="0.45"/>
<line x1="252.48" y1="43.6" x2="252.48" y2="46.9" stroke="#707070" stroke-width="0.45"/>
<line x1="252.48" y1="48.2" x2="252.48" y2="51.5" stroke="#707070" stroke-width="0.45"/>
<line x1="251.66" y1="43.6" x2="253.29" y2="43.6" stroke="#555" stroke-width="0.55"/>
<line x1="251.66" y1="51.5" x2="253.29" y2="51.5" stroke="#555" stroke-width="0.55"/>
<rect x="250.95" y="46.9" width="3.06" height="1.3" fill="#2b9b35" stroke="#4a4a4a" stroke-width="0.3"/>
<line x1="250.95" y1="47.55" x2="254" y2="47.55" stroke="#b8402c" stroke-opacity="0.75" stroke-width="0.45"/>
<line x1="255.73" y1="43.6" x2="255.73" y2="45.1" stroke="#707070" stroke-width="0.45"/>
<line x1="255.73" y1="49.6" x2="255.73" y2="51.4" stroke="#707070" stroke-width="0.45"/>
<line x1="254.92" y1="43.6" x2="256.55" y2="43.6" stroke="#555" stroke-width="0.55"/>
<line x1="254.92" y1="51.4" x2="256.55" y2="51.4" stroke="#555" stroke-width="0.55"/>
<rect x="254.21" y="45.1" width="3.06" height="4.5" fill="#cf2f34" stroke="#4a4a4a" stroke-width="0.3"/>
<line x1="254.21" y1="47.35" x2="257.26" y2="47.35" stroke="#b8402c" stroke-opacity="0.75" stroke-width="0.45"/>
<line x1="262.24" y1="56" x2="262.24" y2="57.4" stroke="#707070" stroke-width="0.45"/>
<line x1="262.24" y1="63.7" x2="262.24" y2="65.7" stroke="#707070" stroke-width="0.45"/>
<line x1="261.42" y1="56" x2="263.05" y2="56" stroke="#555" stroke-width="0.55"/>
<line x1="261.42" y1="65.7" x2="263.05" y2="65.7" stroke="#555" stroke-width="0.55"/>
<rect x="260.71" y="57.4" width="3.06" height="6.3" fill="#2771ad" stroke="#4a4a4a" stroke-width="0.3"/>
<line x1="260.71" y1="60.55" x2="263.77" y2="60.55" stroke="#b8402c" stroke-opacity="0.75" stroke-width="0.45"/>
<line x1="265.49" y1="56.4" x2="265.49" y2="57.7" stroke="#707070" stroke-width="0.45"/>
<line x1="265.49" y1="59.3" x2="265.49" y2="66.2" stroke="#707070" stroke-width="0.45"/>
<line x1="264.68" y1="56.4" x2="266.31" y2="56.4" stroke="#555" stroke-width="0.55"/>
<line x1="264.68" y1="66.2" x2="266.31" y2="66.2" stroke="#555" stroke-width="0.55"/>
<rect x="263.97" y="57.7" width="3.06" height="1.6" fill="#ef7d1c" stroke="#4a4a4a" stroke-width="0.3"/>
<line x1="263.97" y1="58.5" x2="267.02" y2="58.5" stroke="#b8402c" stroke-opacity="0.75" stroke-width="0.45"/>
<line x1="268.75" y1="56.1" x2="268.75" y2="58.1" stroke="#707070" stroke-width="0.45"/>
<line x1="268.75" y1="59.3" x2="268.75" y2="62" stroke="#707070" stroke-width="0.45"/>
<line x1="267.93" y1="56.1" x2="269.56" y2="56.1" stroke="#555" stroke-width="0.55"/>
<line x1="267.93" y1="62" x2="269.56" y2="62" stroke="#555" stroke-width="0.55"/>
<rect x="267.22" y="58.1" width="3.06" height="1.2" fill="#2b9b35" stroke="#4a4a4a" stroke-width="0.3"/>
<line x1="267.22" y1="58.7" x2="270.28" y2="58.7" stroke="#b8402c" stroke-opacity="0.75" stroke-width="0.45"/>
<line x1="272" y1="56.1" x2="272" y2="57.4" stroke="#707070" stroke-width="0.45"/>
<line x1="272" y1="60.8" x2="272" y2="62.3" stroke="#707070" stroke-width="0.45"/>
<line x1="271.19" y1="56.1" x2="272.82" y2="56.1" stroke="#555" stroke-width="0.55"/>
<line x1="271.19" y1="62.3" x2="272.82" y2="62.3" stroke="#555" stroke-width="0.55"/>
<rect x="270.48" y="57.4" width="3.06" height="3.4" fill="#cf2f34" stroke="#4a4a4a" stroke-width="0.3"/>
<line x1="270.48" y1="59.1" x2="273.53" y2="59.1" stroke="#b8402c" stroke-opacity="0.75" stroke-width="0.45"/>
<line x1="278.52" y1="68" x2="278.52" y2="69.6" stroke="#707070" stroke-width="0.45"/>
<line x1="278.52" y1="75.5" x2="278.52" y2="77" stroke="#707070" stroke-width="0.45"/>
<line x1="277.7" y1="68" x2="279.33" y2="68" stroke="#555" stroke-width="0.55"/>
<line x1="277.7" y1="77" x2="279.33" y2="77" stroke="#555" stroke-width="0.55"/>
<rect x="276.99" y="69.6" width="3.06" height="5.9" fill="#2771ad" stroke="#4a4a4a" stroke-width="0.3"/>
<line x1="276.99" y1="72.55" x2="280.05" y2="72.55" stroke="#b8402c" stroke-opacity="0.75" stroke-width="0.45"/>
<line x1="281.77" y1="67.7" x2="281.77" y2="69.6" stroke="#707070" stroke-width="0.45"/>
<line x1="281.77" y1="71.1" x2="281.77" y2="77.4" stroke="#707070" stroke-width="0.45"/>
<line x1="280.96" y1="67.7" x2="282.59" y2="67.7" stroke="#555" stroke-width="0.55"/>
<line x1="280.96" y1="77.4" x2="282.59" y2="77.4" stroke="#555" stroke-width="0.55"/>
<rect x="280.25" y="69.6" width="3.06" height="1.5" fill="#ef7d1c" stroke="#4a4a4a" stroke-width="0.3"/>
<line x1="280.25" y1="70.35" x2="283.3" y2="70.35" stroke="#b8402c" stroke-opacity="0.75" stroke-width="0.45"/>
<line x1="285.03" y1="67.7" x2="285.03" y2="69.8" stroke="#707070" stroke-width="0.45"/>
<line x1="285.03" y1="71.1" x2="285.03" y2="73.5" stroke="#707070" stroke-width="0.45"/>
<line x1="284.21" y1="67.7" x2="285.84" y2="67.7" stroke="#555" stroke-width="0.55"/>
<line x1="284.21" y1="73.5" x2="285.84" y2="73.5" stroke="#555" stroke-width="0.55"/>
<rect x="283.5" y="69.8" width="3.06" height="1.3" fill="#2b9b35" stroke="#4a4a4a" stroke-width="0.3"/>
<line x1="283.5" y1="70.45" x2="286.56" y2="70.45" stroke="#b8402c" stroke-opacity="0.75" stroke-width="0.45"/>
<line x1="288.28" y1="67.5" x2="288.28" y2="69.1" stroke="#707070" stroke-width="0.45"/>
<line x1="288.28" y1="72.5" x2="288.28" y2="74" stroke="#707070" stroke-width="0.45"/>
<line x1="287.47" y1="67.5" x2="289.1" y2="67.5" stroke="#555" stroke-width="0.55"/>
<line x1="287.47" y1="74" x2="289.1" y2="74" stroke="#555" stroke-width="0.55"/>
<rect x="286.75" y="69.1" width="3.06" height="3.4" fill="#cf2f34" stroke="#4a4a4a" stroke-width="0.3"/>
<line x1="286.75" y1="70.8" x2="289.81" y2="70.8" stroke="#b8402c" stroke-opacity="0.75" stroke-width="0.45"/>
<line x1="294.8" y1="75" x2="294.8" y2="76.4" stroke="#707070" stroke-width="0.45"/>
<line x1="294.8" y1="81.3" x2="294.8" y2="82.7" stroke="#707070" stroke-width="0.45"/>
<line x1="293.98" y1="75" x2="295.61" y2="75" stroke="#555" stroke-width="0.55"/>
<line x1="293.98" y1="82.7" x2="295.61" y2="82.7" stroke="#555" stroke-width="0.55"/>
<rect x="293.27" y="76.4" width="3.06" height="4.9" fill="#2771ad" stroke="#4a4a4a" stroke-width="0.3"/>
<line x1="293.27" y1="78.85" x2="296.33" y2="78.85" stroke="#b8402c" stroke-opacity="0.75" stroke-width="0.45"/>
<line x1="298.05" y1="75" x2="298.05" y2="76.7" stroke="#707070" stroke-width="0.45"/>
<line x1="298.05" y1="77.8" x2="298.05" y2="83.7" stroke="#707070" stroke-width="0.45"/>
<line x1="297.24" y1="75" x2="298.87" y2="75" stroke="#555" stroke-width="0.55"/>
<line x1="297.24" y1="83.7" x2="298.87" y2="83.7" stroke="#555" stroke-width="0.55"/>
<rect x="296.53" y="76.7" width="3.06" height="1.1" fill="#ef7d1c" stroke="#4a4a4a" stroke-width="0.3"/>
<line x1="296.53" y1="77.25" x2="299.58" y2="77.25" stroke="#b8402c" stroke-opacity="0.75" stroke-width="0.45"/>
<line x1="301.31" y1="75.4" x2="301.31" y2="76.4" stroke="#707070" stroke-width="0.45"/>
<line x1="301.31" y1="77.8" x2="301.31" y2="80" stroke="#707070" stroke-width="0.45"/>
<line x1="300.49" y1="75.4" x2="302.12" y2="75.4" stroke="#555" stroke-width="0.55"/>
<line x1="300.49" y1="80" x2="302.12" y2="80" stroke="#555" stroke-width="0.55"/>
<rect x="299.78" y="76.4" width="3.06" height="1.4" fill="#2b9b35" stroke="#4a4a4a" stroke-width="0.3"/>
<line x1="299.78" y1="77.1" x2="302.84" y2="77.1" stroke="#b8402c" stroke-opacity="0.75" stroke-width="0.45"/>
<line x1="304.56" y1="74.4" x2="304.56" y2="76.1" stroke="#707070" stroke-width="0.45"/>
<line x1="304.56" y1="78.3" x2="304.56" y2="80.8" stroke="#707070" stroke-width="0.45"/>
<line x1="303.75" y1="74.4" x2="305.38" y2="74.4" stroke="#555" stroke-width="0.55"/>
<line x1="303.75" y1="80.8" x2="305.38" y2="80.8" stroke="#555" stroke-width="0.55"/>
<rect x="303.04" y="76.1" width="3.06" height="2.2" fill="#cf2f34" stroke="#4a4a4a" stroke-width="0.3"/>
<line x1="303.04" y1="77.2" x2="306.09" y2="77.2" stroke="#b8402c" stroke-opacity="0.75" stroke-width="0.45"/>
<line x1="311.07" y1="85" x2="311.07" y2="86.6" stroke="#707070" stroke-width="0.45"/>
<line x1="311.07" y1="91.5" x2="311.07" y2="94" stroke="#707070" stroke-width="0.45"/>
<line x1="310.25" y1="85" x2="311.88" y2="85" stroke="#555" stroke-width="0.55"/>
<line x1="310.25" y1="94" x2="311.88" y2="94" stroke="#555" stroke-width="0.55"/>
<rect x="309.54" y="86.6" width="3.06" height="4.9" fill="#2771ad" stroke="#4a4a4a" stroke-width="0.3"/>
<line x1="309.54" y1="89.05" x2="312.6" y2="89.05" stroke="#b8402c" stroke-opacity="0.75" stroke-width="0.45"/>
<line x1="314.32" y1="85.7" x2="314.32" y2="87.1" stroke="#707070" stroke-width="0.45"/>
<line x1="314.32" y1="88.6" x2="314.32" y2="94" stroke="#707070" stroke-width="0.45"/>
<line x1="313.51" y1="85.7" x2="315.14" y2="85.7" stroke="#555" stroke-width="0.55"/>
<line x1="313.51" y1="94" x2="315.14" y2="94" stroke="#555" stroke-width="0.55"/>
<rect x="312.8" y="87.1" width="3.06" height="1.5" fill="#ef7d1c" stroke="#4a4a4a" stroke-width="0.3"/>
<line x1="312.8" y1="87.85" x2="315.85" y2="87.85" stroke="#b8402c" stroke-opacity="0.75" stroke-width="0.45"/>
<line x1="317.58" y1="85.5" x2="317.58" y2="87.1" stroke="#707070" stroke-width="0.45"/>
<line x1="317.58" y1="88.4" x2="317.58" y2="90.5" stroke="#707070" stroke-width="0.45"/>
<line x1="316.76" y1="85.5" x2="318.39" y2="85.5" stroke="#555" stroke-width="0.55"/>
<line x1="316.76" y1="90.5" x2="318.39" y2="90.5" stroke="#555" stroke-width="0.55"/>
<rect x="316.05" y="87.1" width="3.06" height="1.3" fill="#2b9b35" stroke="#4a4a4a" stroke-width="0.3"/>
<line x1="316.05" y1="87.75" x2="319.11" y2="87.75" stroke="#b8402c" stroke-opacity="0.75" stroke-width="0.45"/>
<line x1="320.83" y1="84" x2="320.83" y2="85.5" stroke="#707070" stroke-width="0.45"/>
<line x1="320.83" y1="89.1" x2="320.83" y2="91" stroke="#707070" stroke-width="0.45"/>
<line x1="320.02" y1="84" x2="321.65" y2="84" stroke="#555" stroke-width="0.55"/>
<line x1="320.02" y1="91" x2="321.65" y2="91" stroke="#555" stroke-width="0.55"/>
<rect x="319.31" y="85.5" width="3.06" height="3.6" fill="#cf2f34" stroke="#4a4a4a" stroke-width="0.3"/>
<line x1="319.31" y1="87.3" x2="322.36" y2="87.3" stroke="#b8402c" stroke-opacity="0.75" stroke-width="0.45"/>
<line x1="327.35" y1="95.5" x2="327.35" y2="98.9" stroke="#707070" stroke-width="0.45"/>
<line x1="327.35" y1="109" x2="327.35" y2="110.4" stroke="#707070" stroke-width="0.45"/>
<line x1="326.53" y1="95.5" x2="328.16" y2="95.5" stroke="#555" stroke-width="0.55"/>
<line x1="326.53" y1="110.4" x2="328.16" y2="110.4" stroke="#555" stroke-width="0.55"/>
<rect x="325.82" y="98.9" width="3.06" height="10.1" fill="#2771ad" stroke="#4a4a4a" stroke-width="0.3"/>
<line x1="325.82" y1="103.95" x2="328.88" y2="103.95" stroke="#b8402c" stroke-opacity="0.75" stroke-width="0.45"/>
<line x1="330.6" y1="93.4" x2="330.6" y2="96.1" stroke="#707070" stroke-width="0.45"/>
<line x1="330.6" y1="100.9" x2="330.6" y2="109" stroke="#707070" stroke-width="0.45"/>
<line x1="329.79" y1="93.4" x2="331.42" y2="93.4" stroke="#555" stroke-width="0.55"/>
<line x1="329.79" y1="109" x2="331.42" y2="109" stroke="#555" stroke-width="0.55"/>
<rect x="329.08" y="96.1" width="3.06" height="4.8" fill="#ef7d1c" stroke="#4a4a4a" stroke-width="0.3"/>
<line x1="329.08" y1="98.5" x2="332.13" y2="98.5" stroke="#b8402c" stroke-opacity="0.75" stroke-width="0.45"/>
<line x1="333.86" y1="94.8" x2="333.86" y2="97.5" stroke="#707070" stroke-width="0.45"/>
<line x1="333.86" y1="100.9" x2="333.86" y2="103.3" stroke="#707070" stroke-width="0.45"/>
<line x1="333.04" y1="94.8" x2="334.67" y2="94.8" stroke="#555" stroke-width="0.55"/>
<line x1="333.04" y1="103.3" x2="334.67" y2="103.3" stroke="#555" stroke-width="0.55"/>
<rect x="332.33" y="97.5" width="3.06" height="3.4" fill="#2b9b35" stroke="#4a4a4a" stroke-width="0.3"/>
<line x1="332.33" y1="99.2" x2="335.39" y2="99.2" stroke="#b8402c" stroke-opacity="0.75" stroke-width="0.45"/>
<line x1="337.11" y1="90.3" x2="337.11" y2="94.1" stroke="#707070" stroke-width="0.45"/>
<line x1="337.11" y1="102.2" x2="337.11" y2="109" stroke="#707070" stroke-width="0.45"/>
<line x1="336.3" y1="90.3" x2="337.93" y2="90.3" stroke="#555" stroke-width="0.55"/>
<line x1="336.3" y1="109" x2="337.93" y2="109" stroke="#555" stroke-width="0.55"/>
<rect x="335.59" y="94.1" width="3.06" height="8.1" fill="#cf2f34" stroke="#4a4a4a" stroke-width="0.3"/>
<line x1="335.59" y1="98.15" x2="338.64" y2="98.15" stroke="#b8402c" stroke-opacity="0.75" stroke-width="0.45"/>
<line x1="343.62" y1="103.3" x2="343.62" y2="104.9" stroke="#707070" stroke-width="0.45"/>
<line x1="343.62" y1="113.7" x2="343.62" y2="119.2" stroke="#707070" stroke-width="0.45"/>
<line x1="342.8" y1="103.3" x2="344.43" y2="103.3" stroke="#555" stroke-width="0.55"/>
<line x1="342.8" y1="119.2" x2="344.43" y2="119.2" stroke="#555" stroke-width="0.55"/>
<rect x="342.09" y="104.9" width="3.06" height="8.8" fill="#2771ad" stroke="#4a4a4a" stroke-width="0.3"/>
<line x1="342.09" y1="109.3" x2="345.15" y2="109.3" stroke="#b8402c" stroke-opacity="0.75" stroke-width="0.45"/>
<line x1="346.87" y1="103.3" x2="346.87" y2="105.6" stroke="#707070" stroke-width="0.45"/>
<line x1="346.87" y1="108.3" x2="346.87" y2="115.8" stroke="#707070" stroke-width="0.45"/>
<line x1="346.06" y1="103.3" x2="347.69" y2="103.3" stroke="#555" stroke-width="0.55"/>
<line x1="346.06" y1="115.8" x2="347.69" y2="115.8" stroke="#555" stroke-width="0.55"/>
<rect x="345.35" y="105.6" width="3.06" height="2.7" fill="#ef7d1c" stroke="#4a4a4a" stroke-width="0.3"/>
<line x1="345.35" y1="106.95" x2="348.4" y2="106.95" stroke="#b8402c" stroke-opacity="0.75" stroke-width="0.45"/>
<line x1="350.13" y1="102" x2="350.13" y2="104.9" stroke="#707070" stroke-width="0.45"/>
<line x1="350.13" y1="107.6" x2="350.13" y2="111" stroke="#707070" stroke-width="0.45"/>
<line x1="349.31" y1="102" x2="350.94" y2="102" stroke="#555" stroke-width="0.55"/>
<line x1="349.31" y1="111" x2="350.94" y2="111" stroke="#555" stroke-width="0.55"/>
<rect x="348.6" y="104.9" width="3.06" height="2.7" fill="#2b9b35" stroke="#4a4a4a" stroke-width="0.3"/>
<line x1="348.6" y1="106.25" x2="351.66" y2="106.25" stroke="#b8402c" stroke-opacity="0.75" stroke-width="0.45"/>
<line x1="353.38" y1="100.6" x2="353.38" y2="102" stroke="#707070" stroke-width="0.45"/>
<line x1="353.38" y1="109" x2="353.38" y2="113.7" stroke="#707070" stroke-width="0.45"/>
<line x1="352.57" y1="100.6" x2="354.2" y2="100.6" stroke="#555" stroke-width="0.55"/>
<line x1="352.57" y1="113.7" x2="354.2" y2="113.7" stroke="#555" stroke-width="0.55"/>
<rect x="351.86" y="102" width="3.06" height="7" fill="#cf2f34" stroke="#4a4a4a" stroke-width="0.3"/>
<line x1="351.86" y1="105.5" x2="354.91" y2="105.5" stroke="#b8402c" stroke-opacity="0.75" stroke-width="0.45"/>
<polyline points="218.3,35.1 234.58,44.2 250.85,50.5 267.12,60.8 283.4,72.5 299.68,78.8 315.95,88.8 332.23,101.6 348.5,108.7" fill="none" stroke="#f02a2a" stroke-width="0.7" stroke-opacity="0.9"/>
<circle cx="218.3" cy="35.1" r="0.9" fill="#f02a2a"/>
<circle cx="234.58" cy="44.2" r="0.9" fill="#f02a2a"/>
<circle cx="250.85" cy="50.5" r="0.9" fill="#f02a2a"/>
<circle cx="267.12" cy="60.8" r="0.9" fill="#f02a2a"/>
<circle cx="283.4" cy="72.5" r="0.9" fill="#f02a2a"/>
<circle cx="299.68" cy="78.8" r="0.9" fill="#f02a2a"/>
<circle cx="315.95" cy="88.8" r="0.9" fill="#f02a2a"/>
<circle cx="332.23" cy="101.6" r="0.9" fill="#f02a2a"/>
<circle cx="348.5" cy="108.7" r="0.9" fill="#f02a2a"/>
<text class="t" x="285.4" y="22" font-size="3.15" text-anchor="middle" dominant-baseline="middle" textLength="34.5" lengthAdjust="spacingAndGlyphs">5 years Return Period</text>
<line x1="203.2" y1="26.3" x2="204.4" y2="26.3" stroke="#777" stroke-width="0.4"/>
<text class="t" x="203" y="26.35" font-size="2.9" text-anchor="end" dominant-baseline="middle" style="stroke-width:0.16;fill:#111;stroke:#111">10<tspan font-size="1.9" dy="-0.55">2</tspan></text>
<line x1="203.2" y1="73.5" x2="204.4" y2="73.5" stroke="#777" stroke-width="0.4"/>
<text class="t" x="203" y="73.55" font-size="2.9" text-anchor="end" dominant-baseline="middle" style="stroke-width:0.16;fill:#111;stroke:#111">10<tspan font-size="1.9" dy="-0.55">1</tspan></text>
<line x1="203.2" y1="120.8" x2="204.4" y2="120.8" stroke="#777" stroke-width="0.4"/>
<text class="t" x="203" y="120.85" font-size="2.9" text-anchor="end" dominant-baseline="middle" style="stroke-width:0.16;fill:#111;stroke:#111">10<tspan font-size="1.9" dy="-0.55">0</tspan></text>
<line x1="203.6" y1="122.86" x2="204.4" y2="122.86" stroke="#999" stroke-width="0.3"/>
<line x1="203.6" y1="106.49" x2="204.4" y2="106.49" stroke="#999" stroke-width="0.3"/>
<line x1="203.6" y1="98.18" x2="204.4" y2="98.18" stroke="#999" stroke-width="0.3"/>
<line x1="203.6" y1="92.28" x2="204.4" y2="92.28" stroke="#999" stroke-width="0.3"/>
<line x1="203.6" y1="87.71" x2="204.4" y2="87.71" stroke="#999" stroke-width="0.3"/>
<line x1="203.6" y1="83.97" x2="204.4" y2="83.97" stroke="#999" stroke-width="0.3"/>
<line x1="203.6" y1="80.81" x2="204.4" y2="80.81" stroke="#999" stroke-width="0.3"/>
<line x1="203.6" y1="78.07" x2="204.4" y2="78.07" stroke="#999" stroke-width="0.3"/>
<line x1="203.6" y1="75.66" x2="204.4" y2="75.66" stroke="#999" stroke-width="0.3"/>
<line x1="203.6" y1="59.29" x2="204.4" y2="59.29" stroke="#999" stroke-width="0.3"/>
<line x1="203.6" y1="50.98" x2="204.4" y2="50.98" stroke="#999" stroke-width="0.3"/>
<line x1="203.6" y1="45.08" x2="204.4" y2="45.08" stroke="#999" stroke-width="0.3"/>
<line x1="203.6" y1="40.51" x2="204.4" y2="40.51" stroke="#999" stroke-width="0.3"/>
<line x1="203.6" y1="36.77" x2="204.4" y2="36.77" stroke="#999" stroke-width="0.3"/>
<line x1="203.6" y1="33.61" x2="204.4" y2="33.61" stroke="#999" stroke-width="0.3"/>
<line x1="203.6" y1="30.87" x2="204.4" y2="30.87" stroke="#999" stroke-width="0.3"/>
<line x1="203.6" y1="28.46" x2="204.4" y2="28.46" stroke="#999" stroke-width="0.3"/>
<text class="t" font-size="2.8" text-anchor="middle" dominant-baseline="middle" style="stroke-width:0.1;fill:#1a1a1a;stroke:#1a1a1a" transform="translate(195,71) rotate(-90)">Intensity, I (mm/hr)</text>
<text class="t" x="283.5" y="135.7" font-size="3" text-anchor="middle" dominant-baseline="middle" textLength="26.1" lengthAdjust="spacingAndGlyphs">Duration,D (min)</text>
<text class="t" font-size="2.9" text-anchor="end" dominant-baseline="middle" style="stroke-width:0.2" transform="translate(218.55,126.3) rotate(-90)">15</text>
<text class="t" font-size="2.9" text-anchor="end" dominant-baseline="middle" style="stroke-width:0.2" transform="translate(234.83,126.3) rotate(-90)">30</text>
<text class="t" font-size="2.9" text-anchor="end" dominant-baseline="middle" style="stroke-width:0.2" transform="translate(251.1,126.3) rotate(-90)">60</text>
<text class="t" font-size="2.9" text-anchor="end" dominant-baseline="middle" style="stroke-width:0.2" transform="translate(267.37,126.3) rotate(-90)">90</text>
<text class="t" font-size="2.9" text-anchor="end" dominant-baseline="middle" style="stroke-width:0.2" transform="translate(283.65,126.3) rotate(-90)">120</text>
<text class="t" font-size="2.9" text-anchor="end" dominant-baseline="middle" style="stroke-width:0.2" transform="translate(299.93,126.3) rotate(-90)">180</text>
<text class="t" font-size="2.9" text-anchor="end" dominant-baseline="middle" style="stroke-width:0.2" transform="translate(316.2,126.3) rotate(-90)">360</text>
<text class="t" font-size="2.9" text-anchor="end" dominant-baseline="middle" style="stroke-width:0.2" transform="translate(332.48,126.3) rotate(-90)">720</text>
<text class="t" font-size="2.9" text-anchor="end" dominant-baseline="middle" style="stroke-width:0.2" transform="translate(348.75,126.3) rotate(-90)">1440</text>
<rect x="341.5" y="22" width="5.6" height="1.8" fill="#1f5e98" stroke="#333" stroke-opacity="0.5" stroke-width="0.25"/>
<text class="t" x="348.9" y="23.5" font-size="2.4" dominant-baseline="middle" style="stroke-width:0.12;fill:#111;stroke:#111">SSP 2.6</text>
<rect x="341.5" y="25.88" width="5.6" height="1.8" fill="#cf711b" stroke="#333" stroke-opacity="0.5" stroke-width="0.25"/>
<text class="t" x="348.9" y="27.38" font-size="2.4" dominant-baseline="middle" style="stroke-width:0.12;fill:#111;stroke:#111">SSP 4.5</text>
<rect x="341.5" y="29.76" width="5.6" height="1.8" fill="#207d2b" stroke="#333" stroke-opacity="0.5" stroke-width="0.25"/>
<text class="t" x="348.9" y="31.26" font-size="2.4" dominant-baseline="middle" style="stroke-width:0.12;fill:#111;stroke:#111">SSP 7</text>
<rect x="341.5" y="33.64" width="5.6" height="1.8" fill="#a92a30" stroke="#333" stroke-opacity="0.5" stroke-width="0.25"/>
<text class="t" x="348.9" y="35.14" font-size="2.4" dominant-baseline="middle" style="stroke-width:0.12;fill:#111;stroke:#111">SSP 8.5</text>
<line x1="341.4" y1="38.42" x2="347" y2="38.42" stroke="#f02a2a" stroke-width="0.6"/>
<circle cx="344.2" cy="38.42" r="0.9" fill="#f02a2a"/>
<text class="t" x="348.9" y="39.02" font-size="2.4" dominant-baseline="middle" style="stroke-width:0.12;fill:#111;stroke:#111">OBS</text>
<rect x="396.5" y="22.8" width="148.5" height="98" fill="none" stroke="#cecece" stroke-width="1.1"/>
<line x1="409.3" y1="120.8" x2="409.3" y2="122" stroke="#777" stroke-width="0.4"/>
<line x1="424.64" y1="120.8" x2="424.64" y2="122" stroke="#777" stroke-width="0.4"/>
<line x1="439.98" y1="120.8" x2="439.98" y2="122" stroke="#777" stroke-width="0.4"/>
<line x1="455.31" y1="120.8" x2="455.31" y2="122" stroke="#777" stroke-width="0.4"/>
<line x1="470.65" y1="120.8" x2="470.65" y2="122" stroke="#777" stroke-width="0.4"/>
<line x1="485.99" y1="120.8" x2="485.99" y2="122" stroke="#777" stroke-width="0.4"/>
<line x1="501.32" y1="120.8" x2="501.32" y2="122" stroke="#777" stroke-width="0.4"/>
<line x1="516.66" y1="120.8" x2="516.66" y2="122" stroke="#777" stroke-width="0.4"/>
<line x1="532" y1="120.8" x2="532" y2="122" stroke="#777" stroke-width="0.4"/>
<line x1="404.7" y1="28.7" x2="404.7" y2="30.8" stroke="#707070" stroke-width="0.45"/>
<line x1="404.7" y1="38.2" x2="404.7" y2="44" stroke="#707070" stroke-width="0.45"/>
<line x1="403.93" y1="28.7" x2="405.47" y2="28.7" stroke="#555" stroke-width="0.55"/>
<line x1="403.93" y1="44" x2="405.47" y2="44" stroke="#555" stroke-width="0.55"/>
<rect x="403.27" y="30.8" width="2.87" height="7.4" fill="#2771ad" stroke="#4a4a4a" stroke-width="0.3"/>
<line x1="403.27" y1="34.5" x2="406.13" y2="34.5" stroke="#b8402c" stroke-opacity="0.75" stroke-width="0.45"/>
<line x1="407.77" y1="28.4" x2="407.77" y2="31.9" stroke="#707070" stroke-width="0.45"/>
<line x1="407.77" y1="34" x2="407.77" y2="45.6" stroke="#707070" stroke-width="0.45"/>
<line x1="407" y1="28.4" x2="408.53" y2="28.4" stroke="#555" stroke-width="0.55"/>
<line x1="407" y1="45.6" x2="408.53" y2="45.6" stroke="#555" stroke-width="0.55"/>
<rect x="406.33" y="31.9" width="2.87" height="2.1" fill="#ef7d1c" stroke="#4a4a4a" stroke-width="0.3"/>
<line x1="406.33" y1="32.95" x2="409.2" y2="32.95" stroke="#b8402c" stroke-opacity="0.75" stroke-width="0.45"/>
<line x1="410.83" y1="27.2" x2="410.83" y2="31.9" stroke="#707070" stroke-width="0.45"/>
<line x1="410.83" y1="43.5" x2="410.83" y2="46.1" stroke="#707070" stroke-width="0.45"/>
<line x1="410.07" y1="27.2" x2="411.6" y2="27.2" stroke="#555" stroke-width="0.55"/>
<line x1="410.07" y1="46.1" x2="411.6" y2="46.1" stroke="#555" stroke-width="0.55"/>
<rect x="409.4" y="31.9" width="2.87" height="11.6" fill="#2b9b35" stroke="#4a4a4a" stroke-width="0.3"/>
<line x1="409.4" y1="37.7" x2="412.27" y2="37.7" stroke="#b8402c" stroke-opacity="0.75" stroke-width="0.45"/>
<line x1="413.9" y1="27.2" x2="413.9" y2="28.7" stroke="#707070" stroke-width="0.45"/>
<line x1="413.9" y1="41.4" x2="413.9" y2="44.5" stroke="#707070" stroke-width="0.45"/>
<line x1="413.13" y1="27.2" x2="414.67" y2="27.2" stroke="#555" stroke-width="0.55"/>
<line x1="413.13" y1="44.5" x2="414.67" y2="44.5" stroke="#555" stroke-width="0.55"/>
<rect x="412.47" y="28.7" width="2.87" height="12.7" fill="#cf2f34" stroke="#4a4a4a" stroke-width="0.3"/>
<line x1="412.47" y1="35.05" x2="415.34" y2="35.05" stroke="#b8402c" stroke-opacity="0.75" stroke-width="0.45"/>
<line x1="420.04" y1="39.8" x2="420.04" y2="40.8" stroke="#707070" stroke-width="0.45"/>
<line x1="420.04" y1="48.7" x2="420.04" y2="50.8" stroke="#707070" stroke-width="0.45"/>
<line x1="419.27" y1="39.8" x2="420.81" y2="39.8" stroke="#555" stroke-width="0.55"/>
<line x1="419.27" y1="50.8" x2="420.81" y2="50.8" stroke="#555" stroke-width="0.55"/>
<rect x="418.61" y="40.8" width="2.87" height="7.9" fill="#2771ad" stroke="#4a4a4a" stroke-width="0.3"/>
<line x1="418.61" y1="44.75" x2="421.47" y2="44.75" stroke="#b8402c" stroke-opacity="0.75" stroke-width="0.45"/>
<line x1="423.11" y1="39.8" x2="423.11" y2="41.9" stroke="#707070" stroke-width="0.45"/>
<line x1="423.11" y1="44" x2="423.11" y2="49.3" stroke="#707070" stroke-width="0.45"/>
<line x1="422.34" y1="39.8" x2="423.87" y2="39.8" stroke="#555" stroke-width="0.55"/>
<line x1="422.34" y1="49.3" x2="423.87" y2="49.3" stroke="#555" stroke-width="0.55"/>
<rect x="421.67" y="41.9" width="2.87" height="2.1" fill="#ef7d1c" stroke="#4a4a4a" stroke-width="0.3"/>
<line x1="421.67" y1="42.95" x2="424.54" y2="42.95" stroke="#b8402c" stroke-opacity="0.75" stroke-width="0.45"/>
<line x1="426.17" y1="39.3" x2="426.17" y2="42.4" stroke="#707070" stroke-width="0.45"/>
<line x1="426.17" y1="47.2" x2="426.17" y2="49.3" stroke="#707070" stroke-width="0.45"/>
<line x1="425.41" y1="39.3" x2="426.94" y2="39.3" stroke="#555" stroke-width="0.55"/>
<line x1="425.41" y1="49.3" x2="426.94" y2="49.3" stroke="#555" stroke-width="0.55"/>
<rect x="424.74" y="42.4" width="2.87" height="4.8" fill="#2b9b35" stroke="#4a4a4a" stroke-width="0.3"/>
<line x1="424.74" y1="44.8" x2="427.61" y2="44.8" stroke="#b8402c" stroke-opacity="0.75" stroke-width="0.45"/>
<line x1="429.24" y1="38.7" x2="429.24" y2="40.3" stroke="#707070" stroke-width="0.45"/>
<line x1="429.24" y1="46.6" x2="429.24" y2="48.2" stroke="#707070" stroke-width="0.45"/>
<line x1="428.47" y1="38.7" x2="430.01" y2="38.7" stroke="#555" stroke-width="0.55"/>
<line x1="428.47" y1="48.2" x2="430.01" y2="48.2" stroke="#555" stroke-width="0.55"/>
<rect x="427.81" y="40.3" width="2.87" height="6.3" fill="#cf2f34" stroke="#4a4a4a" stroke-width="0.3"/>
<line x1="427.81" y1="43.45" x2="430.68" y2="43.45" stroke="#b8402c" stroke-opacity="0.75" stroke-width="0.45"/>
<line x1="435.38" y1="46" x2="435.38" y2="47.3" stroke="#707070" stroke-width="0.45"/>
<line x1="435.38" y1="54.1" x2="435.38" y2="55.5" stroke="#707070" stroke-width="0.45"/>
<line x1="434.61" y1="46" x2="436.15" y2="46" stroke="#555" stroke-width="0.55"/>
<line x1="434.61" y1="55.5" x2="436.15" y2="55.5" stroke="#555" stroke-width="0.55"/>
<rect x="433.95" y="47.3" width="2.87" height="6.8" fill="#2771ad" stroke="#4a4a4a" stroke-width="0.3"/>
<line x1="433.95" y1="50.7" x2="436.81" y2="50.7" stroke="#b8402c" stroke-opacity="0.75" stroke-width="0.45"/>
<line x1="438.45" y1="46.2" x2="438.45" y2="47.8" stroke="#707070" stroke-width="0.45"/>
<line x1="438.45" y1="49.9" x2="438.45" y2="57.3" stroke="#707070" stroke-width="0.45"/>
<line x1="437.68" y1="46.2" x2="439.21" y2="46.2" stroke="#555" stroke-width="0.55"/>
<line x1="437.68" y1="57.3" x2="439.21" y2="57.3" stroke="#555" stroke-width="0.55"/>
<rect x="437.01" y="47.8" width="2.87" height="2.1" fill="#ef7d1c" stroke="#4a4a4a" stroke-width="0.3"/>
<line x1="437.01" y1="48.85" x2="439.88" y2="48.85" stroke="#b8402c" stroke-opacity="0.75" stroke-width="0.45"/>
<line x1="441.51" y1="46.2" x2="441.51" y2="48.3" stroke="#707070" stroke-width="0.45"/>
<line x1="441.51" y1="50.4" x2="441.51" y2="53.6" stroke="#707070" stroke-width="0.45"/>
<line x1="440.75" y1="46.2" x2="442.28" y2="46.2" stroke="#555" stroke-width="0.55"/>
<line x1="440.75" y1="53.6" x2="442.28" y2="53.6" stroke="#555" stroke-width="0.55"/>
<rect x="440.08" y="48.3" width="2.87" height="2.1" fill="#2b9b35" stroke="#4a4a4a" stroke-width="0.3"/>
<line x1="440.08" y1="49.35" x2="442.95" y2="49.35" stroke="#b8402c" stroke-opacity="0.75" stroke-width="0.45"/>
<line x1="444.58" y1="46.2" x2="444.58" y2="47.3" stroke="#707070" stroke-width="0.45"/>
<line x1="444.58" y1="52" x2="444.58" y2="53.6" stroke="#707070" stroke-width="0.45"/>
<line x1="443.81" y1="46.2" x2="445.35" y2="46.2" stroke="#555" stroke-width="0.55"/>
<line x1="443.81" y1="53.6" x2="445.35" y2="53.6" stroke="#555" stroke-width="0.55"/>
<rect x="443.15" y="47.3" width="2.87" height="4.7" fill="#cf2f34" stroke="#4a4a4a" stroke-width="0.3"/>
<line x1="443.15" y1="49.65" x2="446.02" y2="49.65" stroke="#b8402c" stroke-opacity="0.75" stroke-width="0.45"/>
<line x1="450.71" y1="57" x2="450.71" y2="58.3" stroke="#707070" stroke-width="0.45"/>
<line x1="450.71" y1="64.6" x2="450.71" y2="66" stroke="#707070" stroke-width="0.45"/>
<line x1="449.94" y1="57" x2="451.48" y2="57" stroke="#555" stroke-width="0.55"/>
<line x1="449.94" y1="66" x2="451.48" y2="66" stroke="#555" stroke-width="0.55"/>
<rect x="449.28" y="58.3" width="2.87" height="6.3" fill="#2771ad" stroke="#4a4a4a" stroke-width="0.3"/>
<line x1="449.28" y1="61.45" x2="452.14" y2="61.45" stroke="#b8402c" stroke-opacity="0.75" stroke-width="0.45"/>
<line x1="453.78" y1="57.6" x2="453.78" y2="58.8" stroke="#707070" stroke-width="0.45"/>
<line x1="453.78" y1="60.7" x2="453.78" y2="66.4" stroke="#707070" stroke-width="0.45"/>
<line x1="453.01" y1="57.6" x2="454.54" y2="57.6" stroke="#555" stroke-width="0.55"/>
<line x1="453.01" y1="66.4" x2="454.54" y2="66.4" stroke="#555" stroke-width="0.55"/>
<rect x="452.34" y="58.8" width="2.87" height="1.9" fill="#ef7d1c" stroke="#4a4a4a" stroke-width="0.3"/>
<line x1="452.34" y1="59.75" x2="455.21" y2="59.75" stroke="#b8402c" stroke-opacity="0.75" stroke-width="0.45"/>
<line x1="456.84" y1="57.6" x2="456.84" y2="58.8" stroke="#707070" stroke-width="0.45"/>
<line x1="456.84" y1="60.4" x2="456.84" y2="63" stroke="#707070" stroke-width="0.45"/>
<line x1="456.08" y1="57.6" x2="457.61" y2="57.6" stroke="#555" stroke-width="0.55"/>
<line x1="456.08" y1="63" x2="457.61" y2="63" stroke="#555" stroke-width="0.55"/>
<rect x="455.41" y="58.8" width="2.87" height="1.6" fill="#2b9b35" stroke="#4a4a4a" stroke-width="0.3"/>
<line x1="455.41" y1="59.6" x2="458.28" y2="59.6" stroke="#b8402c" stroke-opacity="0.75" stroke-width="0.45"/>
<line x1="459.91" y1="57.3" x2="459.91" y2="57.8" stroke="#707070" stroke-width="0.45"/>
<line x1="459.91" y1="62.5" x2="459.91" y2="63.6" stroke="#707070" stroke-width="0.45"/>
<line x1="459.14" y1="57.3" x2="460.68" y2="57.3" stroke="#555" stroke-width="0.55"/>
<line x1="459.14" y1="63.6" x2="460.68" y2="63.6" stroke="#555" stroke-width="0.55"/>
<rect x="458.48" y="57.8" width="2.87" height="4.7" fill="#cf2f34" stroke="#4a4a4a" stroke-width="0.3"/>
<line x1="458.48" y1="60.15" x2="461.35" y2="60.15" stroke="#b8402c" stroke-opacity="0.75" stroke-width="0.45"/>
<line x1="466.05" y1="68.3" x2="466.05" y2="69.6" stroke="#707070" stroke-width="0.45"/>
<line x1="466.05" y1="74.6" x2="466.05" y2="76.2" stroke="#707070" stroke-width="0.45"/>
<line x1="465.28" y1="68.3" x2="466.82" y2="68.3" stroke="#555" stroke-width="0.55"/>
<line x1="465.28" y1="76.2" x2="466.82" y2="76.2" stroke="#555" stroke-width="0.55"/>
<rect x="464.62" y="69.6" width="2.87" height="5" fill="#2771ad" stroke="#4a4a4a" stroke-width="0.3"/>
<line x1="464.62" y1="72.1" x2="467.48" y2="72.1" stroke="#b8402c" stroke-opacity="0.75" stroke-width="0.45"/>
<line x1="469.12" y1="68.3" x2="469.12" y2="69.6" stroke="#707070" stroke-width="0.45"/>
<line x1="469.12" y1="70.9" x2="469.12" y2="76.2" stroke="#707070" stroke-width="0.45"/>
<line x1="468.35" y1="68.3" x2="469.88" y2="68.3" stroke="#555" stroke-width="0.55"/>
<line x1="468.35" y1="76.2" x2="469.88" y2="76.2" stroke="#555" stroke-width="0.55"/>
<rect x="467.68" y="69.6" width="2.87" height="1.3" fill="#ef7d1c" stroke="#4a4a4a" stroke-width="0.3"/>
<line x1="467.68" y1="70.25" x2="470.55" y2="70.25" stroke="#b8402c" stroke-opacity="0.75" stroke-width="0.45"/>
<line x1="472.18" y1="68.3" x2="472.18" y2="69.6" stroke="#707070" stroke-width="0.45"/>
<line x1="472.18" y1="70.9" x2="472.18" y2="73" stroke="#707070" stroke-width="0.45"/>
<line x1="471.42" y1="68.3" x2="472.95" y2="68.3" stroke="#555" stroke-width="0.55"/>
<line x1="471.42" y1="73" x2="472.95" y2="73" stroke="#555" stroke-width="0.55"/>
<rect x="470.75" y="69.6" width="2.87" height="1.3" fill="#2b9b35" stroke="#4a4a4a" stroke-width="0.3"/>
<line x1="470.75" y1="70.25" x2="473.62" y2="70.25" stroke="#b8402c" stroke-opacity="0.75" stroke-width="0.45"/>
<line x1="475.25" y1="67.8" x2="475.25" y2="68.8" stroke="#707070" stroke-width="0.45"/>
<line x1="475.25" y1="72" x2="475.25" y2="73" stroke="#707070" stroke-width="0.45"/>
<line x1="474.48" y1="67.8" x2="476.02" y2="67.8" stroke="#555" stroke-width="0.55"/>
<line x1="474.48" y1="73" x2="476.02" y2="73" stroke="#555" stroke-width="0.55"/>
<rect x="473.82" y="68.8" width="2.87" height="3.2" fill="#cf2f34" stroke="#4a4a4a" stroke-width="0.3"/>
<line x1="473.82" y1="70.4" x2="476.69" y2="70.4" stroke="#b8402c" stroke-opacity="0.75" stroke-width="0.45"/>
<line x1="481.39" y1="75.5" x2="481.39" y2="76.7" stroke="#707070" stroke-width="0.45"/>
<line x1="481.39" y1="81.5" x2="481.39" y2="83.1" stroke="#707070" stroke-width="0.45"/>
<line x1="480.62" y1="75.5" x2="482.16" y2="75.5" stroke="#555" stroke-width="0.55"/>
<line x1="480.62" y1="83.1" x2="482.16" y2="83.1" stroke="#555" stroke-width="0.55"/>
<rect x="479.96" y="76.7" width="2.87" height="4.8" fill="#2771ad" stroke="#4a4a4a" stroke-width="0.3"/>
<line x1="479.96" y1="79.1" x2="482.82" y2="79.1" stroke="#b8402c" stroke-opacity="0.75" stroke-width="0.45"/>
<line x1="484.46" y1="75.5" x2="484.46" y2="76.9" stroke="#707070" stroke-width="0.45"/>
<line x1="484.46" y1="78.3" x2="484.46" y2="83.6" stroke="#707070" stroke-width="0.45"/>
<line x1="483.69" y1="75.5" x2="485.22" y2="75.5" stroke="#555" stroke-width="0.55"/>
<line x1="483.69" y1="83.6" x2="485.22" y2="83.6" stroke="#555" stroke-width="0.55"/>
<rect x="483.02" y="76.9" width="2.87" height="1.4" fill="#ef7d1c" stroke="#4a4a4a" stroke-width="0.3"/>
<line x1="483.02" y1="77.6" x2="485.89" y2="77.6" stroke="#b8402c" stroke-opacity="0.75" stroke-width="0.45"/>
<line x1="487.52" y1="75.7" x2="487.52" y2="77.3" stroke="#707070" stroke-width="0.45"/>
<line x1="487.52" y1="78.3" x2="487.52" y2="80" stroke="#707070" stroke-width="0.45"/>
<line x1="486.76" y1="75.7" x2="488.29" y2="75.7" stroke="#555" stroke-width="0.55"/>
<line x1="486.76" y1="80" x2="488.29" y2="80" stroke="#555" stroke-width="0.55"/>
<rect x="486.09" y="77.3" width="2.87" height="1" fill="#2b9b35" stroke="#4a4a4a" stroke-width="0.3"/>
<line x1="486.09" y1="77.8" x2="488.96" y2="77.8" stroke="#b8402c" stroke-opacity="0.75" stroke-width="0.45"/>
<line x1="490.59" y1="75.5" x2="490.59" y2="76.7" stroke="#707070" stroke-width="0.45"/>
<line x1="490.59" y1="78.8" x2="490.59" y2="80.4" stroke="#707070" stroke-width="0.45"/>
<line x1="489.82" y1="75.5" x2="491.36" y2="75.5" stroke="#555" stroke-width="0.55"/>
<line x1="489.82" y1="80.4" x2="491.36" y2="80.4" stroke="#555" stroke-width="0.55"/>
<rect x="489.16" y="76.7" width="2.87" height="2.1" fill="#cf2f34" stroke="#4a4a4a" stroke-width="0.3"/>
<line x1="489.16" y1="77.75" x2="492.03" y2="77.75" stroke="#b8402c" stroke-opacity="0.75" stroke-width="0.45"/>
<line x1="496.72" y1="84" x2="496.72" y2="85.5" stroke="#707070" stroke-width="0.45"/>
<line x1="496.72" y1="90.7" x2="496.72" y2="93.1" stroke="#707070" stroke-width="0.45"/>
<line x1="495.95" y1="84" x2="497.49" y2="84" stroke="#555" stroke-width="0.55"/>
<line x1="495.95" y1="93.1" x2="497.49" y2="93.1" stroke="#555" stroke-width="0.55"/>
<rect x="495.29" y="85.5" width="2.87" height="5.2" fill="#2771ad" stroke="#4a4a4a" stroke-width="0.3"/>
<line x1="495.29" y1="88.1" x2="498.15" y2="88.1" stroke="#b8402c" stroke-opacity="0.75" stroke-width="0.45"/>
<line x1="499.79" y1="84" x2="499.79" y2="85.8" stroke="#707070" stroke-width="0.45"/>
<line x1="499.79" y1="87.6" x2="499.79" y2="92.2" stroke="#707070" stroke-width="0.45"/>
<line x1="499.02" y1="84" x2="500.55" y2="84" stroke="#555" stroke-width="0.55"/>
<line x1="499.02" y1="92.2" x2="500.55" y2="92.2" stroke="#555" stroke-width="0.55"/>
<rect x="498.35" y="85.8" width="2.87" height="1.8" fill="#ef7d1c" stroke="#4a4a4a" stroke-width="0.3"/>
<line x1="498.35" y1="86.7" x2="501.22" y2="86.7" stroke="#b8402c" stroke-opacity="0.75" stroke-width="0.45"/>
<line x1="502.85" y1="84" x2="502.85" y2="85.8" stroke="#707070" stroke-width="0.45"/>
<line x1="502.85" y1="87.6" x2="502.85" y2="89.5" stroke="#707070" stroke-width="0.45"/>
<line x1="502.09" y1="84" x2="503.62" y2="84" stroke="#555" stroke-width="0.55"/>
<line x1="502.09" y1="89.5" x2="503.62" y2="89.5" stroke="#555" stroke-width="0.55"/>
<rect x="501.42" y="85.8" width="2.87" height="1.8" fill="#2b9b35" stroke="#4a4a4a" stroke-width="0.3"/>
<line x1="501.42" y1="86.7" x2="504.29" y2="86.7" stroke="#b8402c" stroke-opacity="0.75" stroke-width="0.45"/>
<line x1="505.92" y1="83.4" x2="505.92" y2="84.6" stroke="#707070" stroke-width="0.45"/>
<line x1="505.92" y1="88.2" x2="505.92" y2="90" stroke="#707070" stroke-width="0.45"/>
<line x1="505.15" y1="83.4" x2="506.69" y2="83.4" stroke="#555" stroke-width="0.55"/>
<line x1="505.15" y1="90" x2="506.69" y2="90" stroke="#555" stroke-width="0.55"/>
<rect x="504.49" y="84.6" width="2.87" height="3.6" fill="#cf2f34" stroke="#4a4a4a" stroke-width="0.3"/>
<line x1="504.49" y1="86.4" x2="507.36" y2="86.4" stroke="#b8402c" stroke-opacity="0.75" stroke-width="0.45"/>
<line x1="512.06" y1="92.5" x2="512.06" y2="96.1" stroke="#707070" stroke-width="0.45"/>
<line x1="512.06" y1="105.7" x2="512.06" y2="106.9" stroke="#707070" stroke-width="0.45"/>
<line x1="511.29" y1="92.5" x2="512.83" y2="92.5" stroke="#555" stroke-width="0.55"/>
<line x1="511.29" y1="106.9" x2="512.83" y2="106.9" stroke="#555" stroke-width="0.55"/>
<rect x="510.62" y="96.1" width="2.87" height="9.6" fill="#2771ad" stroke="#4a4a4a" stroke-width="0.3"/>
<line x1="510.62" y1="100.9" x2="513.49" y2="100.9" stroke="#b8402c" stroke-opacity="0.75" stroke-width="0.45"/>
<line x1="515.13" y1="91" x2="515.13" y2="93.4" stroke="#707070" stroke-width="0.45"/>
<line x1="515.13" y1="98.5" x2="515.13" y2="106.3" stroke="#707070" stroke-width="0.45"/>
<line x1="514.36" y1="91" x2="515.89" y2="91" stroke="#555" stroke-width="0.55"/>
<line x1="514.36" y1="106.3" x2="515.89" y2="106.3" stroke="#555" stroke-width="0.55"/>
<rect x="513.69" y="93.4" width="2.87" height="5.1" fill="#ef7d1c" stroke="#4a4a4a" stroke-width="0.3"/>
<line x1="513.69" y1="95.95" x2="516.56" y2="95.95" stroke="#b8402c" stroke-opacity="0.75" stroke-width="0.45"/>
<line x1="518.19" y1="92.2" x2="518.19" y2="94.9" stroke="#707070" stroke-width="0.45"/>
<line x1="518.19" y1="98.5" x2="518.19" y2="100.3" stroke="#707070" stroke-width="0.45"/>
<line x1="517.43" y1="92.2" x2="518.96" y2="92.2" stroke="#555" stroke-width="0.55"/>
<line x1="517.43" y1="100.3" x2="518.96" y2="100.3" stroke="#555" stroke-width="0.55"/>
<rect x="516.76" y="94.9" width="2.87" height="3.6" fill="#2b9b35" stroke="#4a4a4a" stroke-width="0.3"/>
<line x1="516.76" y1="96.7" x2="519.63" y2="96.7" stroke="#b8402c" stroke-opacity="0.75" stroke-width="0.45"/>
<line x1="521.26" y1="87.6" x2="521.26" y2="91.9" stroke="#707070" stroke-width="0.45"/>
<line x1="521.26" y1="99.1" x2="521.26" y2="106.3" stroke="#707070" stroke-width="0.45"/>
<line x1="520.49" y1="87.6" x2="522.03" y2="87.6" stroke="#555" stroke-width="0.55"/>
<line x1="520.49" y1="106.3" x2="522.03" y2="106.3" stroke="#555" stroke-width="0.55"/>
<rect x="519.83" y="91.9" width="2.87" height="7.2" fill="#cf2f34" stroke="#4a4a4a" stroke-width="0.3"/>
<line x1="519.83" y1="95.5" x2="522.69" y2="95.5" stroke="#b8402c" stroke-opacity="0.75" stroke-width="0.45"/>
<line x1="527.4" y1="101" x2="527.4" y2="102" stroke="#707070" stroke-width="0.45"/>
<line x1="527.4" y1="109.9" x2="527.4" y2="116.4" stroke="#707070" stroke-width="0.45"/>
<line x1="526.63" y1="101" x2="528.17" y2="101" stroke="#555" stroke-width="0.55"/>
<line x1="526.63" y1="116.4" x2="528.17" y2="116.4" stroke="#555" stroke-width="0.55"/>
<rect x="525.97" y="102" width="2.87" height="7.9" fill="#2771ad" stroke="#4a4a4a" stroke-width="0.3"/>
<line x1="525.97" y1="105.95" x2="528.83" y2="105.95" stroke="#b8402c" stroke-opacity="0.75" stroke-width="0.45"/>
<line x1="530.47" y1="100.4" x2="530.47" y2="102.5" stroke="#707070" stroke-width="0.45"/>
<line x1="530.47" y1="105.2" x2="530.47" y2="113" stroke="#707070" stroke-width="0.45"/>
<line x1="529.7" y1="100.4" x2="531.23" y2="100.4" stroke="#555" stroke-width="0.55"/>
<line x1="529.7" y1="113" x2="531.23" y2="113" stroke="#555" stroke-width="0.55"/>
<rect x="529.03" y="102.5" width="2.87" height="2.7" fill="#ef7d1c" stroke="#4a4a4a" stroke-width="0.3"/>
<line x1="529.03" y1="103.85" x2="531.9" y2="103.85" stroke="#b8402c" stroke-opacity="0.75" stroke-width="0.45"/>
<line x1="533.53" y1="99.9" x2="533.53" y2="102" stroke="#707070" stroke-width="0.45"/>
<line x1="533.53" y1="104.6" x2="533.53" y2="107" stroke="#707070" stroke-width="0.45"/>
<line x1="532.77" y1="99.9" x2="534.3" y2="99.9" stroke="#555" stroke-width="0.55"/>
<line x1="532.77" y1="107" x2="534.3" y2="107" stroke="#555" stroke-width="0.55"/>
<rect x="532.1" y="102" width="2.87" height="2.6" fill="#2b9b35" stroke="#4a4a4a" stroke-width="0.3"/>
<line x1="532.1" y1="103.3" x2="534.97" y2="103.3" stroke="#b8402c" stroke-opacity="0.75" stroke-width="0.45"/>
<line x1="536.6" y1="98.3" x2="536.6" y2="98.8" stroke="#707070" stroke-width="0.45"/>
<line x1="536.6" y1="107.3" x2="536.6" y2="110.7" stroke="#707070" stroke-width="0.45"/>
<line x1="535.83" y1="98.3" x2="537.37" y2="98.3" stroke="#555" stroke-width="0.55"/>
<line x1="535.83" y1="110.7" x2="537.37" y2="110.7" stroke="#555" stroke-width="0.55"/>
<rect x="535.17" y="98.8" width="2.87" height="8.5" fill="#cf2f34" stroke="#4a4a4a" stroke-width="0.3"/>
<line x1="535.17" y1="103.05" x2="538.03" y2="103.05" stroke="#b8402c" stroke-opacity="0.75" stroke-width="0.45"/>
<polyline points="409.3,37.2 424.64,46.1 439.98,51.3 455.31,61 470.65,72.5 485.99,78.8 501.32,88.2 516.66,97.9 532,105.7" fill="none" stroke="#f02a2a" stroke-width="0.7" stroke-opacity="0.9"/>
<circle cx="409.3" cy="37.2" r="0.9" fill="#f02a2a"/>
<circle cx="424.64" cy="46.1" r="0.9" fill="#f02a2a"/>
<circle cx="439.98" cy="51.3" r="0.9" fill="#f02a2a"/>
<circle cx="455.31" cy="61" r="0.9" fill="#f02a2a"/>
<circle cx="470.65" cy="72.5" r="0.9" fill="#f02a2a"/>
<circle cx="485.99" cy="78.8" r="0.9" fill="#f02a2a"/>
<circle cx="501.32" cy="88.2" r="0.9" fill="#f02a2a"/>
<circle cx="516.66" cy="97.9" r="0.9" fill="#f02a2a"/>
<circle cx="532" cy="105.7" r="0.9" fill="#f02a2a"/>
<text class="t" x="473.4" y="24.9" font-size="2.99" text-anchor="middle" dominant-baseline="middle" textLength="34" lengthAdjust="spacingAndGlyphs">10 years Return Period</text>
<line x1="395.3" y1="33.5" x2="396.5" y2="33.5" stroke="#777" stroke-width="0.4"/>
<text class="t" x="395.1" y="33.55" font-size="2.9" text-anchor="end" dominant-baseline="middle" style="stroke-width:0.16;fill:#111;stroke:#111">10<tspan font-size="1.9" dy="-0.55">2</tspan></text>
<line x1="395.3" y1="77" x2="396.5" y2="77" stroke="#777" stroke-width="0.4"/>
<text class="t" x="395.1" y="77.05" font-size="2.9" text-anchor="end" dominant-baseline="middle" style="stroke-width:0.16;fill:#111;stroke:#111">10<tspan font-size="1.9" dy="-0.55">1</tspan></text>
<line x1="395.7" y1="107.41" x2="396.5" y2="107.41" stroke="#999" stroke-width="0.3"/>
<line x1="395.7" y1="99.75" x2="396.5" y2="99.75" stroke="#999" stroke-width="0.3"/>
<line x1="395.7" y1="94.31" x2="396.5" y2="94.31" stroke="#999" stroke-width="0.3"/>
<line x1="395.7" y1="90.09" x2="396.5" y2="90.09" stroke="#999" stroke-width="0.3"/>
<line x1="395.7" y1="86.65" x2="396.5" y2="86.65" stroke="#999" stroke-width="0.3"/>
<line x1="395.7" y1="83.74" x2="396.5" y2="83.74" stroke="#999" stroke-width="0.3"/>
<line x1="395.7" y1="81.22" x2="396.5" y2="81.22" stroke="#999" stroke-width="0.3"/>
<line x1="395.7" y1="78.99" x2="396.5" y2="78.99" stroke="#999" stroke-width="0.3"/>
<line x1="395.7" y1="63.91" x2="396.5" y2="63.91" stroke="#999" stroke-width="0.3"/>
<line x1="395.7" y1="56.25" x2="396.5" y2="56.25" stroke="#999" stroke-width="0.3"/>
<line x1="395.7" y1="50.81" x2="396.5" y2="50.81" stroke="#999" stroke-width="0.3"/>
<line x1="395.7" y1="46.59" x2="396.5" y2="46.59" stroke="#999" stroke-width="0.3"/>
<line x1="395.7" y1="43.15" x2="396.5" y2="43.15" stroke="#999" stroke-width="0.3"/>
<line x1="395.7" y1="40.24" x2="396.5" y2="40.24" stroke="#999" stroke-width="0.3"/>
<line x1="395.7" y1="37.72" x2="396.5" y2="37.72" stroke="#999" stroke-width="0.3"/>
<line x1="395.7" y1="35.49" x2="396.5" y2="35.49" stroke="#999" stroke-width="0.3"/>
<text class="t" font-size="2.66" text-anchor="middle" dominant-baseline="middle" style="stroke-width:0.1;fill:#1a1a1a;stroke:#1a1a1a" transform="translate(387,72) rotate(-90)">Intensity, I (mm/hr)</text>
<text class="t" x="470.5" y="132.2" font-size="2.85" text-anchor="middle" dominant-baseline="middle" textLength="24.6" lengthAdjust="spacingAndGlyphs">Duration,D (min)</text>
<text class="t" font-size="2.61" text-anchor="end" dominant-baseline="middle" style="stroke-width:0.2" transform="translate(409.55,123.1) rotate(-90)">15</text>
<text class="t" font-size="2.61" text-anchor="end" dominant-baseline="middle" style="stroke-width:0.2" transform="translate(424.89,123.1) rotate(-90)">30</text>
<text class="t" font-size="2.61" text-anchor="end" dominant-baseline="middle" style="stroke-width:0.2" transform="translate(440.23,123.1) rotate(-90)">60</text>
<text class="t" font-size="2.61" text-anchor="end" dominant-baseline="middle" style="stroke-width:0.2" transform="translate(455.56,123.1) rotate(-90)">90</text>
<text class="t" font-size="2.61" text-anchor="end" dominant-baseline="middle" style="stroke-width:0.2" transform="translate(470.9,123.1) rotate(-90)">120</text>
<text class="t" font-size="2.61" text-anchor="end" dominant-baseline="middle" style="stroke-width:0.2" transform="translate(486.24,123.1) rotate(-90)">180</text>
<text class="t" font-size="2.61" text-anchor="end" dominant-baseline="middle" style="stroke-width:0.2" transform="translate(501.57,123.1) rotate(-90)">360</text>
<text class="t" font-size="2.61" text-anchor="end" dominant-baseline="middle" style="stroke-width:0.2" transform="translate(516.91,123.1) rotate(-90)">720</text>
<text class="t" font-size="2.61" text-anchor="end" dominant-baseline="middle" style="stroke-width:0.2" transform="translate(532.25,123.1) rotate(-90)">1440</text>
<rect x="525.3" y="25" width="5.6" height="1.8" fill="#1f5e98" stroke="#333" stroke-opacity="0.5" stroke-width="0.25"/>
<text class="t" x="532.7" y="26.5" font-size="2.28" dominant-baseline="middle" style="stroke-width:0.1;fill:#111;stroke:#111">SSP 2.6</text>
<rect x="525.3" y="28.65" width="5.6" height="1.8" fill="#cf711b" stroke="#333" stroke-opacity="0.5" stroke-width="0.25"/>
<text class="t" x="532.7" y="30.15" font-size="2.28" dominant-baseline="middle" style="stroke-width:0.1;fill:#111;stroke:#111">SSP 4.5</text>
<rect x="525.3" y="32.3" width="5.6" height="1.8" fill="#207d2b" stroke="#333" stroke-opacity="0.5" stroke-width="0.25"/>
<text class="t" x="532.7" y="33.8" font-size="2.28" dominant-baseline="middle" style="stroke-width:0.1;fill:#111;stroke:#111">SSP 7</text>
<rect x="525.3" y="35.95" width="5.6" height="1.8" fill="#a92a30" stroke="#333" stroke-opacity="0.5" stroke-width="0.25"/>
<text class="t" x="532.7" y="37.45" font-size="2.28" dominant-baseline="middle" style="stroke-width:0.1;fill:#111;stroke:#111">SSP 8.5</text>
<line x1="525.2" y1="40.5" x2="530.8" y2="40.5" stroke="#f02a2a" stroke-width="0.6"/>
<circle cx="528" cy="40.5" r="0.9" fill="#f02a2a"/>
<text class="t" x="532.7" y="41.1" font-size="2.28" dominant-baseline="middle" style="stroke-width:0.1;fill:#111;stroke:#111">OBS</text>
<rect x="16.5" y="147" width="158.6" height="104.3" fill="none" stroke="#cecece" stroke-width="1.1"/>
<line x1="30.6" y1="251.3" x2="30.6" y2="252.5" stroke="#777" stroke-width="0.4"/>
<line x1="46.86" y1="251.3" x2="46.86" y2="252.5" stroke="#777" stroke-width="0.4"/>
<line x1="63.12" y1="251.3" x2="63.12" y2="252.5" stroke="#777" stroke-width="0.4"/>
<line x1="79.39" y1="251.3" x2="79.39" y2="252.5" stroke="#777" stroke-width="0.4"/>
<line x1="95.65" y1="251.3" x2="95.65" y2="252.5" stroke="#777" stroke-width="0.4"/>
<line x1="111.91" y1="251.3" x2="111.91" y2="252.5" stroke="#777" stroke-width="0.4"/>
<line x1="128.17" y1="251.3" x2="128.17" y2="252.5" stroke="#777" stroke-width="0.4"/>
<line x1="144.44" y1="251.3" x2="144.44" y2="252.5" stroke="#777" stroke-width="0.4"/>
<line x1="160.7" y1="251.3" x2="160.7" y2="252.5" stroke="#777" stroke-width="0.4"/>
<line x1="25.72" y1="153.4" x2="25.72" y2="155.4" stroke="#707070" stroke-width="0.45"/>
<line x1="25.72" y1="163.7" x2="25.72" y2="171.5" stroke="#707070" stroke-width="0.45"/>
<line x1="24.91" y1="153.4" x2="26.53" y2="153.4" stroke="#555" stroke-width="0.55"/>
<line x1="24.91" y1="171.5" x2="26.53" y2="171.5" stroke="#555" stroke-width="0.55"/>
<rect x="24.2" y="155.4" width="3.05" height="8.3" fill="#2771ad" stroke="#4a4a4a" stroke-width="0.3"/>
<line x1="24.2" y1="159.55" x2="27.25" y2="159.55" stroke="#b8402c" stroke-opacity="0.75" stroke-width="0.45"/>
<line x1="28.97" y1="152.4" x2="28.97" y2="157.3" stroke="#707070" stroke-width="0.45"/>
<line x1="28.97" y1="158.8" x2="28.97" y2="172" stroke="#707070" stroke-width="0.45"/>
<line x1="28.16" y1="152.4" x2="29.79" y2="152.4" stroke="#555" stroke-width="0.55"/>
<line x1="28.16" y1="172" x2="29.79" y2="172" stroke="#555" stroke-width="0.55"/>
<rect x="27.45" y="157.3" width="3.05" height="1.5" fill="#ef7d1c" stroke="#4a4a4a" stroke-width="0.3"/>
<line x1="27.45" y1="158.05" x2="30.5" y2="158.05" stroke="#b8402c" stroke-opacity="0.75" stroke-width="0.45"/>
<line x1="32.23" y1="151.9" x2="32.23" y2="156.8" stroke="#707070" stroke-width="0.45"/>
<line x1="32.23" y1="170" x2="32.23" y2="172.5" stroke="#707070" stroke-width="0.45"/>
<line x1="31.41" y1="151.9" x2="33.04" y2="151.9" stroke="#555" stroke-width="0.55"/>
<line x1="31.41" y1="172.5" x2="33.04" y2="172.5" stroke="#555" stroke-width="0.55"/>
<rect x="30.7" y="156.8" width="3.05" height="13.2" fill="#2b9b35" stroke="#4a4a4a" stroke-width="0.3"/>
<line x1="30.7" y1="163.4" x2="33.75" y2="163.4" stroke="#b8402c" stroke-opacity="0.75" stroke-width="0.45"/>
<line x1="35.48" y1="151.4" x2="35.48" y2="153.9" stroke="#707070" stroke-width="0.45"/>
<line x1="35.48" y1="167.1" x2="35.48" y2="171.5" stroke="#707070" stroke-width="0.45"/>
<line x1="34.67" y1="151.4" x2="36.29" y2="151.4" stroke="#555" stroke-width="0.55"/>
<line x1="34.67" y1="171.5" x2="36.29" y2="171.5" stroke="#555" stroke-width="0.55"/>
<rect x="33.95" y="153.9" width="3.05" height="13.2" fill="#cf2f34" stroke="#4a4a4a" stroke-width="0.3"/>
<line x1="33.95" y1="160.5" x2="37.01" y2="160.5" stroke="#b8402c" stroke-opacity="0.75" stroke-width="0.45"/>
<line x1="41.98" y1="165.4" x2="41.98" y2="166.8" stroke="#707070" stroke-width="0.45"/>
<line x1="41.98" y1="174.7" x2="41.98" y2="176.1" stroke="#707070" stroke-width="0.45"/>
<line x1="41.17" y1="165.4" x2="42.79" y2="165.4" stroke="#555" stroke-width="0.55"/>
<line x1="41.17" y1="176.1" x2="42.79" y2="176.1" stroke="#555" stroke-width="0.55"/>
<rect x="40.45" y="166.8" width="3.05" height="7.9" fill="#2771ad" stroke="#4a4a4a" stroke-width="0.3"/>
<line x1="40.45" y1="170.75" x2="43.51" y2="170.75" stroke="#b8402c" stroke-opacity="0.75" stroke-width="0.45"/>
<line x1="45.23" y1="164.7" x2="45.23" y2="167.3" stroke="#707070" stroke-width="0.45"/>
<line x1="45.23" y1="169.8" x2="45.23" y2="179.1" stroke="#707070" stroke-width="0.45"/>
<line x1="44.42" y1="164.7" x2="46.05" y2="164.7" stroke="#555" stroke-width="0.55"/>
<line x1="44.42" y1="179.1" x2="46.05" y2="179.1" stroke="#555" stroke-width="0.55"/>
<rect x="43.71" y="167.3" width="3.05" height="2.5" fill="#ef7d1c" stroke="#4a4a4a" stroke-width="0.3"/>
<line x1="43.71" y1="168.55" x2="46.76" y2="168.55" stroke="#b8402c" stroke-opacity="0.75" stroke-width="0.45"/>
<line x1="48.49" y1="164.4" x2="48.49" y2="168" stroke="#707070" stroke-width="0.45"/>
<line x1="48.49" y1="173.7" x2="48.49" y2="175.7" stroke="#707070" stroke-width="0.45"/>
<line x1="47.67" y1="164.4" x2="49.3" y2="164.4" stroke="#555" stroke-width="0.55"/>
<line x1="47.67" y1="175.7" x2="49.3" y2="175.7" stroke="#555" stroke-width="0.55"/>
<rect x="46.96" y="168" width="3.05" height="5.7" fill="#2b9b35" stroke="#4a4a4a" stroke-width="0.3"/>
<line x1="46.96" y1="170.85" x2="50.01" y2="170.85" stroke="#b8402c" stroke-opacity="0.75" stroke-width="0.45"/>
<line x1="51.74" y1="164.4" x2="51.74" y2="166.1" stroke="#707070" stroke-width="0.45"/>
<line x1="51.74" y1="173.7" x2="51.74" y2="175.7" stroke="#707070" stroke-width="0.45"/>
<line x1="50.93" y1="164.4" x2="52.55" y2="164.4" stroke="#555" stroke-width="0.55"/>
<line x1="50.93" y1="175.7" x2="52.55" y2="175.7" stroke="#555" stroke-width="0.55"/>
<rect x="50.21" y="166.1" width="3.05" height="7.6" fill="#cf2f34" stroke="#4a4a4a" stroke-width="0.3"/>
<line x1="50.21" y1="169.9" x2="53.26" y2="169.9" stroke="#b8402c" stroke-opacity="0.75" stroke-width="0.45"/>
<line x1="58.24" y1="172.5" x2="58.24" y2="173.7" stroke="#707070" stroke-width="0.45"/>
<line x1="58.24" y1="180.1" x2="58.24" y2="182" stroke="#707070" stroke-width="0.45"/>
<line x1="57.43" y1="172.5" x2="59.05" y2="172.5" stroke="#555" stroke-width="0.55"/>
<line x1="57.43" y1="182" x2="59.05" y2="182" stroke="#555" stroke-width="0.55"/>
<rect x="56.71" y="173.7" width="3.05" height="6.4" fill="#2771ad" stroke="#4a4a4a" stroke-width="0.3"/>
<line x1="56.71" y1="176.9" x2="59.77" y2="176.9" stroke="#b8402c" stroke-opacity="0.75" stroke-width="0.45"/>
<line x1="61.49" y1="172.7" x2="61.49" y2="174.2" stroke="#707070" stroke-width="0.45"/>
<line x1="61.49" y1="176.1" x2="61.49" y2="184" stroke="#707070" stroke-width="0.45"/>
<line x1="60.68" y1="172.7" x2="62.31" y2="172.7" stroke="#555" stroke-width="0.55"/>
<line x1="60.68" y1="184" x2="62.31" y2="184" stroke="#555" stroke-width="0.55"/>
<rect x="59.97" y="174.2" width="3.05" height="1.9" fill="#ef7d1c" stroke="#4a4a4a" stroke-width="0.3"/>
<line x1="59.97" y1="175.15" x2="63.02" y2="175.15" stroke="#b8402c" stroke-opacity="0.75" stroke-width="0.45"/>
<line x1="64.75" y1="172.2" x2="64.75" y2="174.5" stroke="#707070" stroke-width="0.45"/>
<line x1="64.75" y1="176.1" x2="64.75" y2="177.1" stroke="#707070" stroke-width="0.45"/>
<line x1="63.93" y1="172.2" x2="65.56" y2="172.2" stroke="#555" stroke-width="0.55"/>
<line x1="63.93" y1="177.1" x2="65.56" y2="177.1" stroke="#555" stroke-width="0.55"/>
<rect x="63.22" y="174.5" width="3.05" height="1.6" fill="#2b9b35" stroke="#4a4a4a" stroke-width="0.3"/>
<line x1="63.22" y1="175.3" x2="66.27" y2="175.3" stroke="#b8402c" stroke-opacity="0.75" stroke-width="0.45"/>
<line x1="68" y1="172.2" x2="68" y2="173.7" stroke="#707070" stroke-width="0.45"/>
<line x1="68" y1="177.6" x2="68" y2="179.6" stroke="#707070" stroke-width="0.45"/>
<line x1="67.19" y1="172.2" x2="68.81" y2="172.2" stroke="#555" stroke-width="0.55"/>
<line x1="67.19" y1="179.6" x2="68.81" y2="179.6" stroke="#555" stroke-width="0.55"/>
<rect x="66.47" y="173.7" width="3.05" height="3.9" fill="#cf2f34" stroke="#4a4a4a" stroke-width="0.3"/>
<line x1="66.47" y1="175.65" x2="69.52" y2="175.65" stroke="#b8402c" stroke-opacity="0.75" stroke-width="0.45"/>
<line x1="74.51" y1="184.2" x2="74.51" y2="185.5" stroke="#707070" stroke-width="0.45"/>
<line x1="74.51" y1="191.6" x2="74.51" y2="193.2" stroke="#707070" stroke-width="0.45"/>
<line x1="73.7" y1="184.2" x2="75.32" y2="184.2" stroke="#555" stroke-width="0.55"/>
<line x1="73.7" y1="193.2" x2="75.32" y2="193.2" stroke="#555" stroke-width="0.55"/>
<rect x="72.98" y="185.5" width="3.05" height="6.1" fill="#2771ad" stroke="#4a4a4a" stroke-width="0.3"/>
<line x1="72.98" y1="188.55" x2="76.04" y2="188.55" stroke="#b8402c" stroke-opacity="0.75" stroke-width="0.45"/>
<line x1="77.76" y1="184.2" x2="77.76" y2="185.8" stroke="#707070" stroke-width="0.45"/>
<line x1="77.76" y1="187.6" x2="77.76" y2="193.2" stroke="#707070" stroke-width="0.45"/>
<line x1="76.95" y1="184.2" x2="78.58" y2="184.2" stroke="#555" stroke-width="0.55"/>
<line x1="76.95" y1="193.2" x2="78.58" y2="193.2" stroke="#555" stroke-width="0.55"/>
<rect x="76.24" y="185.8" width="3.05" height="1.8" fill="#ef7d1c" stroke="#4a4a4a" stroke-width="0.3"/>
<line x1="76.24" y1="186.7" x2="79.29" y2="186.7" stroke="#b8402c" stroke-opacity="0.75" stroke-width="0.45"/>
<line x1="81.02" y1="184.2" x2="81.02" y2="186.1" stroke="#707070" stroke-width="0.45"/>
<line x1="81.02" y1="187.4" x2="81.02" y2="189" stroke="#707070" stroke-width="0.45"/>
<line x1="80.2" y1="184.2" x2="81.83" y2="184.2" stroke="#555" stroke-width="0.55"/>
<line x1="80.2" y1="189" x2="81.83" y2="189" stroke="#555" stroke-width="0.55"/>
<rect x="79.49" y="186.1" width="3.05" height="1.3" fill="#2b9b35" stroke="#4a4a4a" stroke-width="0.3"/>
<line x1="79.49" y1="186.75" x2="82.54" y2="186.75" stroke="#b8402c" stroke-opacity="0.75" stroke-width="0.45"/>
<line x1="84.27" y1="184.2" x2="84.27" y2="185.3" stroke="#707070" stroke-width="0.45"/>
<line x1="84.27" y1="188.9" x2="84.27" y2="190.3" stroke="#707070" stroke-width="0.45"/>
<line x1="83.46" y1="184.2" x2="85.08" y2="184.2" stroke="#555" stroke-width="0.55"/>
<line x1="83.46" y1="190.3" x2="85.08" y2="190.3" stroke="#555" stroke-width="0.55"/>
<rect x="82.74" y="185.3" width="3.05" height="3.6" fill="#cf2f34" stroke="#4a4a4a" stroke-width="0.3"/>
<line x1="82.74" y1="187.1" x2="85.8" y2="187.1" stroke="#b8402c" stroke-opacity="0.75" stroke-width="0.45"/>
<line x1="90.77" y1="195.6" x2="90.77" y2="196.8" stroke="#707070" stroke-width="0.45"/>
<line x1="90.77" y1="202.6" x2="90.77" y2="203.7" stroke="#707070" stroke-width="0.45"/>
<line x1="89.96" y1="195.6" x2="91.58" y2="195.6" stroke="#555" stroke-width="0.55"/>
<line x1="89.96" y1="203.7" x2="91.58" y2="203.7" stroke="#555" stroke-width="0.55"/>
<rect x="89.25" y="196.8" width="3.05" height="5.8" fill="#2771ad" stroke="#4a4a4a" stroke-width="0.3"/>
<line x1="89.25" y1="199.7" x2="92.3" y2="199.7" stroke="#b8402c" stroke-opacity="0.75" stroke-width="0.45"/>
<line x1="94.02" y1="195.6" x2="94.02" y2="197.4" stroke="#707070" stroke-width="0.45"/>
<line x1="94.02" y1="198.9" x2="94.02" y2="204" stroke="#707070" stroke-width="0.45"/>
<line x1="93.21" y1="195.6" x2="94.84" y2="195.6" stroke="#555" stroke-width="0.55"/>
<line x1="93.21" y1="204" x2="94.84" y2="204" stroke="#555" stroke-width="0.55"/>
<rect x="92.5" y="197.4" width="3.05" height="1.5" fill="#ef7d1c" stroke="#4a4a4a" stroke-width="0.3"/>
<line x1="92.5" y1="198.15" x2="95.55" y2="198.15" stroke="#b8402c" stroke-opacity="0.75" stroke-width="0.45"/>
<line x1="97.28" y1="195.6" x2="97.28" y2="197.4" stroke="#707070" stroke-width="0.45"/>
<line x1="97.28" y1="198.9" x2="97.28" y2="200.5" stroke="#707070" stroke-width="0.45"/>
<line x1="96.46" y1="195.6" x2="98.09" y2="195.6" stroke="#555" stroke-width="0.55"/>
<line x1="96.46" y1="200.5" x2="98.09" y2="200.5" stroke="#555" stroke-width="0.55"/>
<rect x="95.75" y="197.4" width="3.05" height="1.5" fill="#2b9b35" stroke="#4a4a4a" stroke-width="0.3"/>
<line x1="95.75" y1="198.15" x2="98.8" y2="198.15" stroke="#b8402c" stroke-opacity="0.75" stroke-width="0.45"/>
<line x1="100.53" y1="195.6" x2="100.53" y2="196.8" stroke="#707070" stroke-width="0.45"/>
<line x1="100.53" y1="199.8" x2="100.53" y2="201" stroke="#707070" stroke-width="0.45"/>
<line x1="99.72" y1="195.6" x2="101.34" y2="195.6" stroke="#555" stroke-width="0.55"/>
<line x1="99.72" y1="201" x2="101.34" y2="201" stroke="#555" stroke-width="0.55"/>
<rect x="99" y="196.8" width="3.05" height="3" fill="#cf2f34" stroke="#4a4a4a" stroke-width="0.3"/>
<line x1="99" y1="198.3" x2="102.05" y2="198.3" stroke="#b8402c" stroke-opacity="0.75" stroke-width="0.45"/>
<line x1="107.03" y1="203.4" x2="107.03" y2="204.4" stroke="#707070" stroke-width="0.45"/>
<line x1="107.03" y1="208.6" x2="107.03" y2="210.5" stroke="#707070" stroke-width="0.45"/>
<line x1="106.22" y1="203.4" x2="107.84" y2="203.4" stroke="#555" stroke-width="0.55"/>
<line x1="106.22" y1="210.5" x2="107.84" y2="210.5" stroke="#555" stroke-width="0.55"/>
<rect x="105.5" y="204.4" width="3.05" height="4.2" fill="#2771ad" stroke="#4a4a4a" stroke-width="0.3"/>
<line x1="105.5" y1="206.5" x2="108.56" y2="206.5" stroke="#b8402c" stroke-opacity="0.75" stroke-width="0.45"/>
<line x1="110.28" y1="203.4" x2="110.28" y2="204.7" stroke="#707070" stroke-width="0.45"/>
<line x1="110.28" y1="206.3" x2="110.28" y2="212.2" stroke="#707070" stroke-width="0.45"/>
<line x1="109.47" y1="203.4" x2="111.1" y2="203.4" stroke="#555" stroke-width="0.55"/>
<line x1="109.47" y1="212.2" x2="111.1" y2="212.2" stroke="#555" stroke-width="0.55"/>
<rect x="108.76" y="204.7" width="3.05" height="1.6" fill="#ef7d1c" stroke="#4a4a4a" stroke-width="0.3"/>
<line x1="108.76" y1="205.5" x2="111.81" y2="205.5" stroke="#b8402c" stroke-opacity="0.75" stroke-width="0.45"/>
<line x1="113.54" y1="203.4" x2="113.54" y2="204.7" stroke="#707070" stroke-width="0.45"/>
<line x1="113.54" y1="206" x2="113.54" y2="207.5" stroke="#707070" stroke-width="0.45"/>
<line x1="112.72" y1="203.4" x2="114.35" y2="203.4" stroke="#555" stroke-width="0.55"/>
<line x1="112.72" y1="207.5" x2="114.35" y2="207.5" stroke="#555" stroke-width="0.55"/>
<rect x="112.01" y="204.7" width="3.05" height="1.3" fill="#2b9b35" stroke="#4a4a4a" stroke-width="0.3"/>
<line x1="112.01" y1="205.35" x2="115.06" y2="205.35" stroke="#b8402c" stroke-opacity="0.75" stroke-width="0.45"/>
<line x1="116.79" y1="203.4" x2="116.79" y2="204.1" stroke="#707070" stroke-width="0.45"/>
<line x1="116.79" y1="207" x2="116.79" y2="208.5" stroke="#707070" stroke-width="0.45"/>
<line x1="115.98" y1="203.4" x2="117.6" y2="203.4" stroke="#555" stroke-width="0.55"/>
<line x1="115.98" y1="208.5" x2="117.6" y2="208.5" stroke="#555" stroke-width="0.55"/>
<rect x="115.26" y="204.1" width="3.05" height="2.9" fill="#cf2f34" stroke="#4a4a4a" stroke-width="0.3"/>
<line x1="115.26" y1="205.55" x2="118.31" y2="205.55" stroke="#b8402c" stroke-opacity="0.75" stroke-width="0.45"/>
<line x1="123.29" y1="212.5" x2="123.29" y2="213.7" stroke="#707070" stroke-width="0.45"/>
<line x1="123.29" y1="219" x2="123.29" y2="221.5" stroke="#707070" stroke-width="0.45"/>
<line x1="122.48" y1="212.5" x2="124.1" y2="212.5" stroke="#555" stroke-width="0.55"/>
<line x1="122.48" y1="221.5" x2="124.1" y2="221.5" stroke="#555" stroke-width="0.55"/>
<rect x="121.76" y="213.7" width="3.05" height="5.3" fill="#2771ad" stroke="#4a4a4a" stroke-width="0.3"/>
<line x1="121.76" y1="216.35" x2="124.82" y2="216.35" stroke="#b8402c" stroke-opacity="0.75" stroke-width="0.45"/>
<line x1="126.54" y1="212.5" x2="126.54" y2="213.9" stroke="#707070" stroke-width="0.45"/>
<line x1="126.54" y1="216.1" x2="126.54" y2="221.5" stroke="#707070" stroke-width="0.45"/>
<line x1="125.73" y1="212.5" x2="127.36" y2="212.5" stroke="#555" stroke-width="0.55"/>
<line x1="125.73" y1="221.5" x2="127.36" y2="221.5" stroke="#555" stroke-width="0.55"/>
<rect x="125.02" y="213.9" width="3.05" height="2.2" fill="#ef7d1c" stroke="#4a4a4a" stroke-width="0.3"/>
<line x1="125.02" y1="215" x2="128.07" y2="215" stroke="#b8402c" stroke-opacity="0.75" stroke-width="0.45"/>
<line x1="129.8" y1="212.7" x2="129.8" y2="214.1" stroke="#707070" stroke-width="0.45"/>
<line x1="129.8" y1="215.8" x2="129.8" y2="217.5" stroke="#707070" stroke-width="0.45"/>
<line x1="128.98" y1="212.7" x2="130.61" y2="212.7" stroke="#555" stroke-width="0.55"/>
<line x1="128.98" y1="217.5" x2="130.61" y2="217.5" stroke="#555" stroke-width="0.55"/>
<rect x="128.27" y="214.1" width="3.05" height="1.7" fill="#2b9b35" stroke="#4a4a4a" stroke-width="0.3"/>
<line x1="128.27" y1="214.95" x2="131.32" y2="214.95" stroke="#b8402c" stroke-opacity="0.75" stroke-width="0.45"/>
<line x1="133.05" y1="211.7" x2="133.05" y2="213.2" stroke="#707070" stroke-width="0.45"/>
<line x1="133.05" y1="216.6" x2="133.05" y2="218.1" stroke="#707070" stroke-width="0.45"/>
<line x1="132.24" y1="211.7" x2="133.86" y2="211.7" stroke="#555" stroke-width="0.55"/>
<line x1="132.24" y1="218.1" x2="133.86" y2="218.1" stroke="#555" stroke-width="0.55"/>
<rect x="131.52" y="213.2" width="3.05" height="3.4" fill="#cf2f34" stroke="#4a4a4a" stroke-width="0.3"/>
<line x1="131.52" y1="214.9" x2="134.57" y2="214.9" stroke="#b8402c" stroke-opacity="0.75" stroke-width="0.45"/>
<line x1="139.56" y1="220.6" x2="139.56" y2="222.8" stroke="#707070" stroke-width="0.45"/>
<line x1="139.56" y1="233.8" x2="139.56" y2="236.2" stroke="#707070" stroke-width="0.45"/>
<line x1="138.75" y1="220.6" x2="140.37" y2="220.6" stroke="#555" stroke-width="0.55"/>
<line x1="138.75" y1="236.2" x2="140.37" y2="236.2" stroke="#555" stroke-width="0.55"/>
<rect x="138.03" y="222.8" width="3.05" height="11" fill="#2771ad" stroke="#4a4a4a" stroke-width="0.3"/>
<line x1="138.03" y1="228.3" x2="141.09" y2="228.3" stroke="#b8402c" stroke-opacity="0.75" stroke-width="0.45"/>
<line x1="142.81" y1="218.6" x2="142.81" y2="220.8" stroke="#707070" stroke-width="0.45"/>
<line x1="142.81" y1="227.2" x2="142.81" y2="229.5" stroke="#707070" stroke-width="0.45"/>
<line x1="142" y1="218.6" x2="143.63" y2="218.6" stroke="#555" stroke-width="0.55"/>
<line x1="142" y1="229.5" x2="143.63" y2="229.5" stroke="#555" stroke-width="0.55"/>
<rect x="141.29" y="220.8" width="3.05" height="6.4" fill="#ef7d1c" stroke="#4a4a4a" stroke-width="0.3"/>
<line x1="141.29" y1="224" x2="144.34" y2="224" stroke="#b8402c" stroke-opacity="0.75" stroke-width="0.45"/>
<line x1="146.07" y1="221" x2="146.07" y2="223.3" stroke="#707070" stroke-width="0.45"/>
<line x1="146.07" y1="225.9" x2="146.07" y2="229" stroke="#707070" stroke-width="0.45"/>
<line x1="145.25" y1="221" x2="146.88" y2="221" stroke="#555" stroke-width="0.55"/>
<line x1="145.25" y1="229" x2="146.88" y2="229" stroke="#555" stroke-width="0.55"/>
<rect x="144.54" y="223.3" width="3.05" height="2.6" fill="#2b9b35" stroke="#4a4a4a" stroke-width="0.3"/>
<line x1="144.54" y1="224.6" x2="147.59" y2="224.6" stroke="#b8402c" stroke-opacity="0.75" stroke-width="0.45"/>
<line x1="149.32" y1="214.7" x2="149.32" y2="218.9" stroke="#707070" stroke-width="0.45"/>
<line x1="149.32" y1="225.3" x2="149.32" y2="236.2" stroke="#707070" stroke-width="0.45"/>
<line x1="148.51" y1="214.7" x2="150.13" y2="214.7" stroke="#555" stroke-width="0.55"/>
<line x1="148.51" y1="236.2" x2="150.13" y2="236.2" stroke="#555" stroke-width="0.55"/>
<rect x="147.79" y="218.9" width="3.05" height="6.4" fill="#cf2f34" stroke="#4a4a4a" stroke-width="0.3"/>
<line x1="147.79" y1="222.1" x2="150.84" y2="222.1" stroke="#b8402c" stroke-opacity="0.75" stroke-width="0.45"/>
<line x1="155.82" y1="229" x2="155.82" y2="230.1" stroke="#707070" stroke-width="0.45"/>
<line x1="155.82" y1="239.2" x2="155.82" y2="246.5" stroke="#707070" stroke-width="0.45"/>
<line x1="155.01" y1="229" x2="156.63" y2="229" stroke="#555" stroke-width="0.55"/>
<line x1="155.01" y1="246.5" x2="156.63" y2="246.5" stroke="#555" stroke-width="0.55"/>
<rect x="154.29" y="230.1" width="3.05" height="9.1" fill="#2771ad" stroke="#4a4a4a" stroke-width="0.3"/>
<line x1="154.29" y1="234.65" x2="157.35" y2="234.65" stroke="#b8402c" stroke-opacity="0.75" stroke-width="0.45"/>
<line x1="159.07" y1="228.5" x2="159.07" y2="230.7" stroke="#707070" stroke-width="0.45"/>
<line x1="159.07" y1="233.5" x2="159.07" y2="242" stroke="#707070" stroke-width="0.45"/>
<line x1="158.26" y1="228.5" x2="159.89" y2="228.5" stroke="#555" stroke-width="0.55"/>
<line x1="158.26" y1="242" x2="159.89" y2="242" stroke="#555" stroke-width="0.55"/>
<rect x="157.55" y="230.7" width="3.05" height="2.8" fill="#ef7d1c" stroke="#4a4a4a" stroke-width="0.3"/>
<line x1="157.55" y1="232.1" x2="160.6" y2="232.1" stroke="#b8402c" stroke-opacity="0.75" stroke-width="0.45"/>
<line x1="162.33" y1="227.9" x2="162.33" y2="230.1" stroke="#707070" stroke-width="0.45"/>
<line x1="162.33" y1="233.5" x2="162.33" y2="236" stroke="#707070" stroke-width="0.45"/>
<line x1="161.51" y1="227.9" x2="163.14" y2="227.9" stroke="#555" stroke-width="0.55"/>
<line x1="161.51" y1="236" x2="163.14" y2="236" stroke="#555" stroke-width="0.55"/>
<rect x="160.8" y="230.1" width="3.05" height="3.4" fill="#2b9b35" stroke="#4a4a4a" stroke-width="0.3"/>
<line x1="160.8" y1="231.8" x2="163.85" y2="231.8" stroke="#b8402c" stroke-opacity="0.75" stroke-width="0.45"/>
<line x1="165.58" y1="226.2" x2="165.58" y2="227.3" stroke="#707070" stroke-width="0.45"/>
<line x1="165.58" y1="234.1" x2="165.58" y2="240.3" stroke="#707070" stroke-width="0.45"/>
<line x1="164.77" y1="226.2" x2="166.39" y2="226.2" stroke="#555" stroke-width="0.55"/>
<line x1="164.77" y1="240.3" x2="166.39" y2="240.3" stroke="#555" stroke-width="0.55"/>
<rect x="164.05" y="227.3" width="3.05" height="6.8" fill="#cf2f34" stroke="#4a4a4a" stroke-width="0.3"/>
<line x1="164.05" y1="230.7" x2="167.1" y2="230.7" stroke="#b8402c" stroke-opacity="0.75" stroke-width="0.45"/>
<polyline points="30.6,161.7 46.86,172.2 63.12,178.1 79.39,189.3 95.65,200 111.91,207 128.17,216.1 144.44,226 160.7,234.1" fill="none" stroke="#f02a2a" stroke-width="0.7" stroke-opacity="0.9"/>
<circle cx="30.6" cy="161.7" r="0.9" fill="#f02a2a"/>
<circle cx="46.86" cy="172.2" r="0.9" fill="#f02a2a"/>
<circle cx="63.12" cy="178.1" r="0.9" fill="#f02a2a"/>
<circle cx="79.39" cy="189.3" r="0.9" fill="#f02a2a"/>
<circle cx="95.65" cy="200" r="0.9" fill="#f02a2a"/>
<circle cx="111.91" cy="207" r="0.9" fill="#f02a2a"/>
<circle cx="128.17" cy="216.1" r="0.9" fill="#f02a2a"/>
<circle cx="144.44" cy="226" r="0.9" fill="#f02a2a"/>
<circle cx="160.7" cy="234.1" r="0.9" fill="#f02a2a"/>
<text class="t" x="98.4" y="150.3" font-size="3.15" text-anchor="middle" dominant-baseline="middle" textLength="35.9" lengthAdjust="spacingAndGlyphs">25 years Return Period</text>
<line x1="15.3" y1="163.3" x2="16.5" y2="163.3" stroke="#777" stroke-width="0.4"/>
<text class="t" x="15.1" y="163.35" font-size="2.9" text-anchor="end" dominant-baseline="middle" style="stroke-width:0.16;fill:#111;stroke:#111">10<tspan font-size="1.9" dy="-0.55">2</tspan></text>
<line x1="15.3" y1="209" x2="16.5" y2="209" stroke="#777" stroke-width="0.4"/>
<text class="t" x="15.1" y="209.05" font-size="2.9" text-anchor="end" dominant-baseline="middle" style="stroke-width:0.16;fill:#111;stroke:#111">10<tspan font-size="1.9" dy="-0.55">1</tspan></text>
<line x1="15.7" y1="240.94" x2="16.5" y2="240.94" stroke="#999" stroke-width="0.3"/>
<line x1="15.7" y1="232.9" x2="16.5" y2="232.9" stroke="#999" stroke-width="0.3"/>
<line x1="15.7" y1="227.19" x2="16.5" y2="227.19" stroke="#999" stroke-width="0.3"/>
<line x1="15.7" y1="222.76" x2="16.5" y2="222.76" stroke="#999" stroke-width="0.3"/>
<line x1="15.7" y1="219.14" x2="16.5" y2="219.14" stroke="#999" stroke-width="0.3"/>
<line x1="15.7" y1="216.08" x2="16.5" y2="216.08" stroke="#999" stroke-width="0.3"/>
<line x1="15.7" y1="213.43" x2="16.5" y2="213.43" stroke="#999" stroke-width="0.3"/>
<line x1="15.7" y1="211.09" x2="16.5" y2="211.09" stroke="#999" stroke-width="0.3"/>
<line x1="15.7" y1="195.24" x2="16.5" y2="195.24" stroke="#999" stroke-width="0.3"/>
<line x1="15.7" y1="187.2" x2="16.5" y2="187.2" stroke="#999" stroke-width="0.3"/>
<line x1="15.7" y1="181.49" x2="16.5" y2="181.49" stroke="#999" stroke-width="0.3"/>
<line x1="15.7" y1="177.06" x2="16.5" y2="177.06" stroke="#999" stroke-width="0.3"/>
<line x1="15.7" y1="173.44" x2="16.5" y2="173.44" stroke="#999" stroke-width="0.3"/>
<line x1="15.7" y1="170.38" x2="16.5" y2="170.38" stroke="#999" stroke-width="0.3"/>
<line x1="15.7" y1="167.73" x2="16.5" y2="167.73" stroke="#999" stroke-width="0.3"/>
<line x1="15.7" y1="165.39" x2="16.5" y2="165.39" stroke="#999" stroke-width="0.3"/>
<line x1="15.7" y1="149.54" x2="16.5" y2="149.54" stroke="#999" stroke-width="0.3"/>
<text class="t" font-size="2.8" text-anchor="middle" dominant-baseline="middle" style="stroke-width:0.1;fill:#1a1a1a;stroke:#1a1a1a" transform="translate(7.9,199) rotate(-90)">Intensity, I (mm/hr)</text>
<text class="t" x="95.8" y="263.5" font-size="3" text-anchor="middle" dominant-baseline="middle" textLength="26.4" lengthAdjust="spacingAndGlyphs">Duration,D (min)</text>
<text class="t" font-size="2.9" text-anchor="end" dominant-baseline="middle" style="stroke-width:0.2" transform="translate(30.85,253.6) rotate(-90)">15</text>
<text class="t" font-size="2.9" text-anchor="end" dominant-baseline="middle" style="stroke-width:0.2" transform="translate(47.11,253.6) rotate(-90)">30</text>
<text class="t" font-size="2.9" text-anchor="end" dominant-baseline="middle" style="stroke-width:0.2" transform="translate(63.37,253.6) rotate(-90)">60</text>
<text class="t" font-size="2.9" text-anchor="end" dominant-baseline="middle" style="stroke-width:0.2" transform="translate(79.64,253.6) rotate(-90)">90</text>
<text class="t" font-size="2.9" text-anchor="end" dominant-baseline="middle" style="stroke-width:0.2" transform="translate(95.9,253.6) rotate(-90)">120</text>
<text class="t" font-size="2.9" text-anchor="end" dominant-baseline="middle" style="stroke-width:0.2" transform="translate(112.16,253.6) rotate(-90)">180</text>
<text class="t" font-size="2.9" text-anchor="end" dominant-baseline="middle" style="stroke-width:0.2" transform="translate(128.42,253.6) rotate(-90)">360</text>
<text class="t" font-size="2.9" text-anchor="end" dominant-baseline="middle" style="stroke-width:0.2" transform="translate(144.69,253.6) rotate(-90)">720</text>
<text class="t" font-size="2.9" text-anchor="end" dominant-baseline="middle" style="stroke-width:0.2" transform="translate(160.95,253.6) rotate(-90)">1440</text>
<rect x="153.7" y="149.6" width="5.6" height="1.8" fill="#1f5e98" stroke="#333" stroke-opacity="0.5" stroke-width="0.25"/>
<text class="t" x="161.1" y="151.1" font-size="2.4" dominant-baseline="middle" style="stroke-width:0.12;fill:#111;stroke:#111">SSP 2.6</text>
<rect x="153.7" y="153.4" width="5.6" height="1.8" fill="#cf711b" stroke="#333" stroke-opacity="0.5" stroke-width="0.25"/>
<text class="t" x="161.1" y="154.9" font-size="2.4" dominant-baseline="middle" style="stroke-width:0.12;fill:#111;stroke:#111">SSP 4.5</text>
<rect x="153.7" y="157.2" width="5.6" height="1.8" fill="#207d2b" stroke="#333" stroke-opacity="0.5" stroke-width="0.25"/>
<text class="t" x="161.1" y="158.7" font-size="2.4" dominant-baseline="middle" style="stroke-width:0.12;fill:#111;stroke:#111">SSP 7</text>
<rect x="153.7" y="161" width="5.6" height="1.8" fill="#a92a30" stroke="#333" stroke-opacity="0.5" stroke-width="0.25"/>
<text class="t" x="161.1" y="162.5" font-size="2.4" dominant-baseline="middle" style="stroke-width:0.12;fill:#111;stroke:#111">SSP 8.5</text>
<line x1="153.6" y1="165.7" x2="159.2" y2="165.7" stroke="#f02a2a" stroke-width="0.6"/>
<circle cx="156.4" cy="165.7" r="0.9" fill="#f02a2a"/>
<text class="t" x="161.1" y="166.3" font-size="2.4" dominant-baseline="middle" style="stroke-width:0.12;fill:#111;stroke:#111">OBS</text>
<rect x="204.5" y="147.3" width="156.9" height="103.9" fill="none" stroke="#cecece" stroke-width="1.1"/>
<line x1="218.4" y1="251.2" x2="218.4" y2="252.4" stroke="#777" stroke-width="0.4"/>
<line x1="234.55" y1="251.2" x2="234.55" y2="252.4" stroke="#777" stroke-width="0.4"/>
<line x1="250.7" y1="251.2" x2="250.7" y2="252.4" stroke="#777" stroke-width="0.4"/>
<line x1="266.85" y1="251.2" x2="266.85" y2="252.4" stroke="#777" stroke-width="0.4"/>
<line x1="283" y1="251.2" x2="283" y2="252.4" stroke="#777" stroke-width="0.4"/>
<line x1="299.15" y1="251.2" x2="299.15" y2="252.4" stroke="#777" stroke-width="0.4"/>
<line x1="315.3" y1="251.2" x2="315.3" y2="252.4" stroke="#777" stroke-width="0.4"/>
<line x1="331.45" y1="251.2" x2="331.45" y2="252.4" stroke="#777" stroke-width="0.4"/>
<line x1="347.6" y1="251.2" x2="347.6" y2="252.4" stroke="#777" stroke-width="0.4"/>
<line x1="213.56" y1="152.7" x2="213.56" y2="155.9" stroke="#707070" stroke-width="0.45"/>
<line x1="213.56" y1="163.8" x2="213.56" y2="172.2" stroke="#707070" stroke-width="0.45"/>
<line x1="212.75" y1="152.7" x2="214.36" y2="152.7" stroke="#555" stroke-width="0.55"/>
<line x1="212.75" y1="172.2" x2="214.36" y2="172.2" stroke="#555" stroke-width="0.55"/>
<rect x="212.04" y="155.9" width="3.03" height="7.9" fill="#2771ad" stroke="#4a4a4a" stroke-width="0.3"/>
<line x1="212.04" y1="159.85" x2="215.07" y2="159.85" stroke="#b8402c" stroke-opacity="0.75" stroke-width="0.45"/>
<line x1="216.78" y1="152.7" x2="216.78" y2="157.3" stroke="#707070" stroke-width="0.45"/>
<line x1="216.78" y1="159.4" x2="216.78" y2="172.7" stroke="#707070" stroke-width="0.45"/>
<line x1="215.98" y1="152.7" x2="217.59" y2="152.7" stroke="#555" stroke-width="0.55"/>
<line x1="215.98" y1="172.7" x2="217.59" y2="172.7" stroke="#555" stroke-width="0.55"/>
<rect x="215.27" y="157.3" width="3.03" height="2.1" fill="#ef7d1c" stroke="#4a4a4a" stroke-width="0.3"/>
<line x1="215.27" y1="158.35" x2="218.3" y2="158.35" stroke="#b8402c" stroke-opacity="0.75" stroke-width="0.45"/>
<line x1="220.01" y1="152.7" x2="220.01" y2="157" stroke="#707070" stroke-width="0.45"/>
<line x1="220.01" y1="170.6" x2="220.01" y2="173.3" stroke="#707070" stroke-width="0.45"/>
<line x1="219.21" y1="152.7" x2="220.82" y2="152.7" stroke="#555" stroke-width="0.55"/>
<line x1="219.21" y1="173.3" x2="220.82" y2="173.3" stroke="#555" stroke-width="0.55"/>
<rect x="218.5" y="157" width="3.03" height="13.6" fill="#2b9b35" stroke="#4a4a4a" stroke-width="0.3"/>
<line x1="218.5" y1="163.8" x2="221.53" y2="163.8" stroke="#b8402c" stroke-opacity="0.75" stroke-width="0.45"/>
<line x1="223.25" y1="152.2" x2="223.25" y2="153.8" stroke="#707070" stroke-width="0.45"/>
<line x1="223.25" y1="167.5" x2="223.25" y2="172.2" stroke="#707070" stroke-width="0.45"/>
<line x1="222.44" y1="152.2" x2="224.05" y2="152.2" stroke="#555" stroke-width="0.55"/>
<line x1="222.44" y1="172.2" x2="224.05" y2="172.2" stroke="#555" stroke-width="0.55"/>
<rect x="221.73" y="153.8" width="3.03" height="13.7" fill="#cf2f34" stroke="#4a4a4a" stroke-width="0.3"/>
<line x1="221.73" y1="160.65" x2="224.76" y2="160.65" stroke="#b8402c" stroke-opacity="0.75" stroke-width="0.45"/>
<line x1="229.7" y1="165.4" x2="229.7" y2="166.8" stroke="#707070" stroke-width="0.45"/>
<line x1="229.7" y1="174.7" x2="229.7" y2="176.6" stroke="#707070" stroke-width="0.45"/>
<line x1="228.9" y1="165.4" x2="230.51" y2="165.4" stroke="#555" stroke-width="0.55"/>
<line x1="228.9" y1="176.6" x2="230.51" y2="176.6" stroke="#555" stroke-width="0.55"/>
<rect x="228.19" y="166.8" width="3.03" height="7.9" fill="#2771ad" stroke="#4a4a4a" stroke-width="0.3"/>
<line x1="228.19" y1="170.75" x2="231.22" y2="170.75" stroke="#b8402c" stroke-opacity="0.75" stroke-width="0.45"/>
<line x1="232.94" y1="165.4" x2="232.94" y2="167.8" stroke="#707070" stroke-width="0.45"/>
<line x1="232.94" y1="169.8" x2="232.94" y2="179.1" stroke="#707070" stroke-width="0.45"/>
<line x1="232.13" y1="165.4" x2="233.74" y2="165.4" stroke="#555" stroke-width="0.55"/>
<line x1="232.13" y1="179.1" x2="233.74" y2="179.1" stroke="#555" stroke-width="0.55"/>
<rect x="231.42" y="167.8" width="3.03" height="2" fill="#ef7d1c" stroke="#4a4a4a" stroke-width="0.3"/>
<line x1="231.42" y1="168.8" x2="234.45" y2="168.8" stroke="#b8402c" stroke-opacity="0.75" stroke-width="0.45"/>
<line x1="236.17" y1="164.9" x2="236.17" y2="168.3" stroke="#707070" stroke-width="0.45"/>
<line x1="236.17" y1="173.7" x2="236.17" y2="176.1" stroke="#707070" stroke-width="0.45"/>
<line x1="235.36" y1="164.9" x2="236.97" y2="164.9" stroke="#555" stroke-width="0.55"/>
<line x1="235.36" y1="176.1" x2="236.97" y2="176.1" stroke="#555" stroke-width="0.55"/>
<rect x="234.65" y="168.3" width="3.03" height="5.4" fill="#2b9b35" stroke="#4a4a4a" stroke-width="0.3"/>
<line x1="234.65" y1="171" x2="237.68" y2="171" stroke="#b8402c" stroke-opacity="0.75" stroke-width="0.45"/>
<line x1="239.39" y1="164.9" x2="239.39" y2="166.4" stroke="#707070" stroke-width="0.45"/>
<line x1="239.39" y1="173.2" x2="239.39" y2="176.1" stroke="#707070" stroke-width="0.45"/>
<line x1="238.59" y1="164.9" x2="240.2" y2="164.9" stroke="#555" stroke-width="0.55"/>
<line x1="238.59" y1="176.1" x2="240.2" y2="176.1" stroke="#555" stroke-width="0.55"/>
<rect x="237.88" y="166.4" width="3.03" height="6.8" fill="#cf2f34" stroke="#4a4a4a" stroke-width="0.3"/>
<line x1="237.88" y1="169.8" x2="240.91" y2="169.8" stroke="#b8402c" stroke-opacity="0.75" stroke-width="0.45"/>
<line x1="245.85" y1="172.5" x2="245.85" y2="173.7" stroke="#707070" stroke-width="0.45"/>
<line x1="245.85" y1="180.5" x2="245.85" y2="182" stroke="#707070" stroke-width="0.45"/>
<line x1="245.05" y1="172.5" x2="246.66" y2="172.5" stroke="#555" stroke-width="0.55"/>
<line x1="245.05" y1="182" x2="246.66" y2="182" stroke="#555" stroke-width="0.55"/>
<rect x="244.34" y="173.7" width="3.03" height="6.8" fill="#2771ad" stroke="#4a4a4a" stroke-width="0.3"/>
<line x1="244.34" y1="177.1" x2="247.37" y2="177.1" stroke="#b8402c" stroke-opacity="0.75" stroke-width="0.45"/>
<line x1="249.08" y1="172.7" x2="249.08" y2="174.2" stroke="#707070" stroke-width="0.45"/>
<line x1="249.08" y1="176.1" x2="249.08" y2="184" stroke="#707070" stroke-width="0.45"/>
<line x1="248.28" y1="172.7" x2="249.89" y2="172.7" stroke="#555" stroke-width="0.55"/>
<line x1="248.28" y1="184" x2="249.89" y2="184" stroke="#555" stroke-width="0.55"/>
<rect x="247.57" y="174.2" width="3.03" height="1.9" fill="#ef7d1c" stroke="#4a4a4a" stroke-width="0.3"/>
<line x1="247.57" y1="175.15" x2="250.6" y2="175.15" stroke="#b8402c" stroke-opacity="0.75" stroke-width="0.45"/>
<line x1="252.31" y1="172.5" x2="252.31" y2="174.7" stroke="#707070" stroke-width="0.45"/>
<line x1="252.31" y1="176.1" x2="252.31" y2="177.6" stroke="#707070" stroke-width="0.45"/>
<line x1="251.51" y1="172.5" x2="253.12" y2="172.5" stroke="#555" stroke-width="0.55"/>
<line x1="251.51" y1="177.6" x2="253.12" y2="177.6" stroke="#555" stroke-width="0.55"/>
<rect x="250.8" y="174.7" width="3.03" height="1.4" fill="#2b9b35" stroke="#4a4a4a" stroke-width="0.3"/>
<line x1="250.8" y1="175.4" x2="253.83" y2="175.4" stroke="#b8402c" stroke-opacity="0.75" stroke-width="0.45"/>
<line x1="255.54" y1="172.5" x2="255.54" y2="173.7" stroke="#707070" stroke-width="0.45"/>
<line x1="255.54" y1="177.6" x2="255.54" y2="180.1" stroke="#707070" stroke-width="0.45"/>
<line x1="254.74" y1="172.5" x2="256.35" y2="172.5" stroke="#555" stroke-width="0.55"/>
<line x1="254.74" y1="180.1" x2="256.35" y2="180.1" stroke="#555" stroke-width="0.55"/>
<rect x="254.03" y="173.7" width="3.03" height="3.9" fill="#cf2f34" stroke="#4a4a4a" stroke-width="0.3"/>
<line x1="254.03" y1="175.65" x2="257.06" y2="175.65" stroke="#b8402c" stroke-opacity="0.75" stroke-width="0.45"/>
<line x1="262.01" y1="184.4" x2="262.01" y2="185.8" stroke="#707070" stroke-width="0.45"/>
<line x1="262.01" y1="191.6" x2="262.01" y2="193.2" stroke="#707070" stroke-width="0.45"/>
<line x1="261.2" y1="184.4" x2="262.81" y2="184.4" stroke="#555" stroke-width="0.55"/>
<line x1="261.2" y1="193.2" x2="262.81" y2="193.2" stroke="#555" stroke-width="0.55"/>
<rect x="260.49" y="185.8" width="3.03" height="5.8" fill="#2771ad" stroke="#4a4a4a" stroke-width="0.3"/>
<line x1="260.49" y1="188.7" x2="263.52" y2="188.7" stroke="#b8402c" stroke-opacity="0.75" stroke-width="0.45"/>
<line x1="265.24" y1="184.4" x2="265.24" y2="186.3" stroke="#707070" stroke-width="0.45"/>
<line x1="265.24" y1="188.2" x2="265.24" y2="193.5" stroke="#707070" stroke-width="0.45"/>
<line x1="264.43" y1="184.4" x2="266.04" y2="184.4" stroke="#555" stroke-width="0.55"/>
<line x1="264.43" y1="193.5" x2="266.04" y2="193.5" stroke="#555" stroke-width="0.55"/>
<rect x="263.72" y="186.3" width="3.03" height="1.9" fill="#ef7d1c" stroke="#4a4a4a" stroke-width="0.3"/>
<line x1="263.72" y1="187.25" x2="266.75" y2="187.25" stroke="#b8402c" stroke-opacity="0.75" stroke-width="0.45"/>
<line x1="268.47" y1="184.4" x2="268.47" y2="186.5" stroke="#707070" stroke-width="0.45"/>
<line x1="268.47" y1="187.9" x2="268.47" y2="189.5" stroke="#707070" stroke-width="0.45"/>
<line x1="267.66" y1="184.4" x2="269.27" y2="184.4" stroke="#555" stroke-width="0.55"/>
<line x1="267.66" y1="189.5" x2="269.27" y2="189.5" stroke="#555" stroke-width="0.55"/>
<rect x="266.95" y="186.5" width="3.03" height="1.4" fill="#2b9b35" stroke="#4a4a4a" stroke-width="0.3"/>
<line x1="266.95" y1="187.2" x2="269.98" y2="187.2" stroke="#b8402c" stroke-opacity="0.75" stroke-width="0.45"/>
<line x1="271.7" y1="184.4" x2="271.7" y2="185.8" stroke="#707070" stroke-width="0.45"/>
<line x1="271.7" y1="188.9" x2="271.7" y2="190.3" stroke="#707070" stroke-width="0.45"/>
<line x1="270.89" y1="184.4" x2="272.5" y2="184.4" stroke="#555" stroke-width="0.55"/>
<line x1="270.89" y1="190.3" x2="272.5" y2="190.3" stroke="#555" stroke-width="0.55"/>
<rect x="270.18" y="185.8" width="3.03" height="3.1" fill="#cf2f34" stroke="#4a4a4a" stroke-width="0.3"/>
<line x1="270.18" y1="187.35" x2="273.21" y2="187.35" stroke="#b8402c" stroke-opacity="0.75" stroke-width="0.45"/>
<line x1="278.16" y1="195.8" x2="278.16" y2="197.4" stroke="#707070" stroke-width="0.45"/>
<line x1="278.16" y1="202.6" x2="278.16" y2="204" stroke="#707070" stroke-width="0.45"/>
<line x1="277.35" y1="195.8" x2="278.96" y2="195.8" stroke="#555" stroke-width="0.55"/>
<line x1="277.35" y1="204" x2="278.96" y2="204" stroke="#555" stroke-width="0.55"/>
<rect x="276.64" y="197.4" width="3.03" height="5.2" fill="#2771ad" stroke="#4a4a4a" stroke-width="0.3"/>
<line x1="276.64" y1="200" x2="279.67" y2="200" stroke="#b8402c" stroke-opacity="0.75" stroke-width="0.45"/>
<line x1="281.39" y1="195.6" x2="281.39" y2="197.7" stroke="#707070" stroke-width="0.45"/>
<line x1="281.39" y1="199.5" x2="281.39" y2="204.2" stroke="#707070" stroke-width="0.45"/>
<line x1="280.58" y1="195.6" x2="282.19" y2="195.6" stroke="#555" stroke-width="0.55"/>
<line x1="280.58" y1="204.2" x2="282.19" y2="204.2" stroke="#555" stroke-width="0.55"/>
<rect x="279.87" y="197.7" width="3.03" height="1.8" fill="#ef7d1c" stroke="#4a4a4a" stroke-width="0.3"/>
<line x1="279.87" y1="198.6" x2="282.9" y2="198.6" stroke="#b8402c" stroke-opacity="0.75" stroke-width="0.45"/>
<line x1="284.62" y1="195.8" x2="284.62" y2="197.7" stroke="#707070" stroke-width="0.45"/>
<line x1="284.62" y1="199.2" x2="284.62" y2="200.8" stroke="#707070" stroke-width="0.45"/>
<line x1="283.81" y1="195.8" x2="285.42" y2="195.8" stroke="#555" stroke-width="0.55"/>
<line x1="283.81" y1="200.8" x2="285.42" y2="200.8" stroke="#555" stroke-width="0.55"/>
<rect x="283.1" y="197.7" width="3.03" height="1.5" fill="#2b9b35" stroke="#4a4a4a" stroke-width="0.3"/>
<line x1="283.1" y1="198.45" x2="286.13" y2="198.45" stroke="#b8402c" stroke-opacity="0.75" stroke-width="0.45"/>
<line x1="287.85" y1="195.6" x2="287.85" y2="196.8" stroke="#707070" stroke-width="0.45"/>
<line x1="287.85" y1="200" x2="287.85" y2="201" stroke="#707070" stroke-width="0.45"/>
<line x1="287.04" y1="195.6" x2="288.65" y2="195.6" stroke="#555" stroke-width="0.55"/>
<line x1="287.04" y1="201" x2="288.65" y2="201" stroke="#555" stroke-width="0.55"/>
<rect x="286.33" y="196.8" width="3.03" height="3.2" fill="#cf2f34" stroke="#4a4a4a" stroke-width="0.3"/>
<line x1="286.33" y1="198.4" x2="289.36" y2="198.4" stroke="#b8402c" stroke-opacity="0.75" stroke-width="0.45"/>
<line x1="294.31" y1="203.3" x2="294.31" y2="204.8" stroke="#707070" stroke-width="0.45"/>
<line x1="294.31" y1="208.7" x2="294.31" y2="210.6" stroke="#707070" stroke-width="0.45"/>
<line x1="293.5" y1="203.3" x2="295.11" y2="203.3" stroke="#555" stroke-width="0.55"/>
<line x1="293.5" y1="210.6" x2="295.11" y2="210.6" stroke="#555" stroke-width="0.55"/>
<rect x="292.79" y="204.8" width="3.03" height="3.9" fill="#2771ad" stroke="#4a4a4a" stroke-width="0.3"/>
<line x1="292.79" y1="206.75" x2="295.82" y2="206.75" stroke="#b8402c" stroke-opacity="0.75" stroke-width="0.45"/>
<line x1="297.54" y1="203.3" x2="297.54" y2="205.2" stroke="#707070" stroke-width="0.45"/>
<line x1="297.54" y1="207.3" x2="297.54" y2="211.7" stroke="#707070" stroke-width="0.45"/>
<line x1="296.73" y1="203.3" x2="298.34" y2="203.3" stroke="#555" stroke-width="0.55"/>
<line x1="296.73" y1="211.7" x2="298.34" y2="211.7" stroke="#555" stroke-width="0.55"/>
<rect x="296.02" y="205.2" width="3.03" height="2.1" fill="#ef7d1c" stroke="#4a4a4a" stroke-width="0.3"/>
<line x1="296.02" y1="206.25" x2="299.05" y2="206.25" stroke="#b8402c" stroke-opacity="0.75" stroke-width="0.45"/>
<line x1="300.76" y1="203.3" x2="300.76" y2="205.2" stroke="#707070" stroke-width="0.45"/>
<line x1="300.76" y1="206.6" x2="300.76" y2="208" stroke="#707070" stroke-width="0.45"/>
<line x1="299.96" y1="203.3" x2="301.57" y2="203.3" stroke="#555" stroke-width="0.55"/>
<line x1="299.96" y1="208" x2="301.57" y2="208" stroke="#555" stroke-width="0.55"/>
<rect x="299.25" y="205.2" width="3.03" height="1.4" fill="#2b9b35" stroke="#4a4a4a" stroke-width="0.3"/>
<line x1="299.25" y1="205.9" x2="302.28" y2="205.9" stroke="#b8402c" stroke-opacity="0.75" stroke-width="0.45"/>
<line x1="304" y1="203.3" x2="304" y2="204.5" stroke="#707070" stroke-width="0.45"/>
<line x1="304" y1="207.7" x2="304" y2="208.8" stroke="#707070" stroke-width="0.45"/>
<line x1="303.19" y1="203.3" x2="304.8" y2="203.3" stroke="#555" stroke-width="0.55"/>
<line x1="303.19" y1="208.8" x2="304.8" y2="208.8" stroke="#555" stroke-width="0.55"/>
<rect x="302.48" y="204.5" width="3.03" height="3.2" fill="#cf2f34" stroke="#4a4a4a" stroke-width="0.3"/>
<line x1="302.48" y1="206.1" x2="305.51" y2="206.1" stroke="#b8402c" stroke-opacity="0.75" stroke-width="0.45"/>
<line x1="310.46" y1="212.5" x2="310.46" y2="213.8" stroke="#707070" stroke-width="0.45"/>
<line x1="310.46" y1="219.1" x2="310.46" y2="221.7" stroke="#707070" stroke-width="0.45"/>
<line x1="309.65" y1="212.5" x2="311.26" y2="212.5" stroke="#555" stroke-width="0.55"/>
<line x1="309.65" y1="221.7" x2="311.26" y2="221.7" stroke="#555" stroke-width="0.55"/>
<rect x="308.94" y="213.8" width="3.03" height="5.3" fill="#2771ad" stroke="#4a4a4a" stroke-width="0.3"/>
<line x1="308.94" y1="216.45" x2="311.97" y2="216.45" stroke="#b8402c" stroke-opacity="0.75" stroke-width="0.45"/>
<line x1="313.69" y1="212.5" x2="313.69" y2="214.3" stroke="#707070" stroke-width="0.45"/>
<line x1="313.69" y1="216.9" x2="313.69" y2="220.6" stroke="#707070" stroke-width="0.45"/>
<line x1="312.88" y1="212.5" x2="314.49" y2="212.5" stroke="#555" stroke-width="0.55"/>
<line x1="312.88" y1="220.6" x2="314.49" y2="220.6" stroke="#555" stroke-width="0.55"/>
<rect x="312.17" y="214.3" width="3.03" height="2.6" fill="#ef7d1c" stroke="#4a4a4a" stroke-width="0.3"/>
<line x1="312.17" y1="215.6" x2="315.2" y2="215.6" stroke="#b8402c" stroke-opacity="0.75" stroke-width="0.45"/>
<line x1="316.92" y1="212.5" x2="316.92" y2="214.3" stroke="#707070" stroke-width="0.45"/>
<line x1="316.92" y1="216.1" x2="316.92" y2="217.8" stroke="#707070" stroke-width="0.45"/>
<line x1="316.11" y1="212.5" x2="317.72" y2="212.5" stroke="#555" stroke-width="0.55"/>
<line x1="316.11" y1="217.8" x2="317.72" y2="217.8" stroke="#555" stroke-width="0.55"/>
<rect x="315.4" y="214.3" width="3.03" height="1.8" fill="#2b9b35" stroke="#4a4a4a" stroke-width="0.3"/>
<line x1="315.4" y1="215.2" x2="318.43" y2="215.2" stroke="#b8402c" stroke-opacity="0.75" stroke-width="0.45"/>
<line x1="320.15" y1="211.5" x2="320.15" y2="213.3" stroke="#707070" stroke-width="0.45"/>
<line x1="320.15" y1="216.9" x2="320.15" y2="218.5" stroke="#707070" stroke-width="0.45"/>
<line x1="319.34" y1="211.5" x2="320.95" y2="211.5" stroke="#555" stroke-width="0.55"/>
<line x1="319.34" y1="218.5" x2="320.95" y2="218.5" stroke="#555" stroke-width="0.55"/>
<rect x="318.63" y="213.3" width="3.03" height="3.6" fill="#cf2f34" stroke="#4a4a4a" stroke-width="0.3"/>
<line x1="318.63" y1="215.1" x2="321.66" y2="215.1" stroke="#b8402c" stroke-opacity="0.75" stroke-width="0.45"/>
<line x1="326.61" y1="220.2" x2="326.61" y2="222.3" stroke="#707070" stroke-width="0.45"/>
<line x1="326.61" y1="233.3" x2="326.61" y2="235.3" stroke="#707070" stroke-width="0.45"/>
<line x1="325.8" y1="220.2" x2="327.41" y2="220.2" stroke="#555" stroke-width="0.55"/>
<line x1="325.8" y1="235.3" x2="327.41" y2="235.3" stroke="#555" stroke-width="0.55"/>
<rect x="325.09" y="222.3" width="3.03" height="11" fill="#2771ad" stroke="#4a4a4a" stroke-width="0.3"/>
<line x1="325.09" y1="227.8" x2="328.12" y2="227.8" stroke="#b8402c" stroke-opacity="0.75" stroke-width="0.45"/>
<line x1="329.84" y1="217.8" x2="329.84" y2="220.2" stroke="#707070" stroke-width="0.45"/>
<line x1="329.84" y1="226.6" x2="329.84" y2="234.1" stroke="#707070" stroke-width="0.45"/>
<line x1="329.03" y1="217.8" x2="330.64" y2="217.8" stroke="#555" stroke-width="0.55"/>
<line x1="329.03" y1="234.1" x2="330.64" y2="234.1" stroke="#555" stroke-width="0.55"/>
<rect x="328.32" y="220.2" width="3.03" height="6.4" fill="#ef7d1c" stroke="#4a4a4a" stroke-width="0.3"/>
<line x1="328.32" y1="223.4" x2="331.35" y2="223.4" stroke="#b8402c" stroke-opacity="0.75" stroke-width="0.45"/>
<line x1="333.07" y1="219.3" x2="333.07" y2="222" stroke="#707070" stroke-width="0.45"/>
<line x1="333.07" y1="225.8" x2="333.07" y2="228.8" stroke="#707070" stroke-width="0.45"/>
<line x1="332.26" y1="219.3" x2="333.87" y2="219.3" stroke="#555" stroke-width="0.55"/>
<line x1="332.26" y1="228.8" x2="333.87" y2="228.8" stroke="#555" stroke-width="0.55"/>
<rect x="331.55" y="222" width="3.03" height="3.8" fill="#2b9b35" stroke="#4a4a4a" stroke-width="0.3"/>
<line x1="331.55" y1="223.9" x2="334.58" y2="223.9" stroke="#b8402c" stroke-opacity="0.75" stroke-width="0.45"/>
<line x1="336.3" y1="214.2" x2="336.3" y2="217.5" stroke="#707070" stroke-width="0.45"/>
<line x1="336.3" y1="225.1" x2="336.3" y2="234.4" stroke="#707070" stroke-width="0.45"/>
<line x1="335.49" y1="214.2" x2="337.1" y2="214.2" stroke="#555" stroke-width="0.55"/>
<line x1="335.49" y1="234.4" x2="337.1" y2="234.4" stroke="#555" stroke-width="0.55"/>
<rect x="334.78" y="217.5" width="3.03" height="7.6" fill="#cf2f34" stroke="#4a4a4a" stroke-width="0.3"/>
<line x1="334.78" y1="221.3" x2="337.81" y2="221.3" stroke="#b8402c" stroke-opacity="0.75" stroke-width="0.45"/>
<line x1="342.76" y1="229" x2="342.76" y2="230.3" stroke="#707070" stroke-width="0.45"/>
<line x1="342.76" y1="237.9" x2="342.76" y2="246.1" stroke="#707070" stroke-width="0.45"/>
<line x1="341.95" y1="229" x2="343.56" y2="229" stroke="#555" stroke-width="0.55"/>
<line x1="341.95" y1="246.1" x2="343.56" y2="246.1" stroke="#555" stroke-width="0.55"/>
<rect x="341.24" y="230.3" width="3.03" height="7.6" fill="#2771ad" stroke="#4a4a4a" stroke-width="0.3"/>
<line x1="341.24" y1="234.1" x2="344.27" y2="234.1" stroke="#b8402c" stroke-opacity="0.75" stroke-width="0.45"/>
<line x1="345.99" y1="228.8" x2="345.99" y2="230.8" stroke="#707070" stroke-width="0.45"/>
<line x1="345.99" y1="233.3" x2="345.99" y2="241.6" stroke="#707070" stroke-width="0.45"/>
<line x1="345.18" y1="228.8" x2="346.79" y2="228.8" stroke="#555" stroke-width="0.55"/>
<line x1="345.18" y1="241.6" x2="346.79" y2="241.6" stroke="#555" stroke-width="0.55"/>
<rect x="344.47" y="230.8" width="3.03" height="2.5" fill="#ef7d1c" stroke="#4a4a4a" stroke-width="0.3"/>
<line x1="344.47" y1="232.05" x2="347.5" y2="232.05" stroke="#b8402c" stroke-opacity="0.75" stroke-width="0.45"/>
<line x1="349.22" y1="227.8" x2="349.22" y2="229.9" stroke="#707070" stroke-width="0.45"/>
<line x1="349.22" y1="232.9" x2="349.22" y2="235.5" stroke="#707070" stroke-width="0.45"/>
<line x1="348.41" y1="227.8" x2="350.02" y2="227.8" stroke="#555" stroke-width="0.55"/>
<line x1="348.41" y1="235.5" x2="350.02" y2="235.5" stroke="#555" stroke-width="0.55"/>
<rect x="347.7" y="229.9" width="3.03" height="3" fill="#2b9b35" stroke="#4a4a4a" stroke-width="0.3"/>
<line x1="347.7" y1="231.4" x2="350.73" y2="231.4" stroke="#b8402c" stroke-opacity="0.75" stroke-width="0.45"/>
<line x1="352.45" y1="225.1" x2="352.45" y2="227.3" stroke="#707070" stroke-width="0.45"/>
<line x1="352.45" y1="234.1" x2="352.45" y2="239.4" stroke="#707070" stroke-width="0.45"/>
<line x1="351.64" y1="225.1" x2="353.25" y2="225.1" stroke="#555" stroke-width="0.55"/>
<line x1="351.64" y1="239.4" x2="353.25" y2="239.4" stroke="#555" stroke-width="0.55"/>
<rect x="350.93" y="227.3" width="3.03" height="6.8" fill="#cf2f34" stroke="#4a4a4a" stroke-width="0.3"/>
<line x1="350.93" y1="230.7" x2="353.96" y2="230.7" stroke="#b8402c" stroke-opacity="0.75" stroke-width="0.45"/>
<polyline points="218.4,162.2 234.55,172.5 250.7,178.1 266.85,189.5 283,200.2 299.15,207.7 315.3,216.9 331.45,226.6 347.6,233.8" fill="none" stroke="#f02a2a" stroke-width="0.7" stroke-opacity="0.9"/>
<circle cx="218.4" cy="162.2" r="0.9" fill="#f02a2a"/>
<circle cx="234.55" cy="172.5" r="0.9" fill="#f02a2a"/>
<circle cx="250.7" cy="178.1" r="0.9" fill="#f02a2a"/>
<circle cx="266.85" cy="189.5" r="0.9" fill="#f02a2a"/>
<circle cx="283" cy="200.2" r="0.9" fill="#f02a2a"/>
<circle cx="299.15" cy="207.7" r="0.9" fill="#f02a2a"/>
<circle cx="315.3" cy="216.9" r="0.9" fill="#f02a2a"/>
<circle cx="331.45" cy="226.6" r="0.9" fill="#f02a2a"/>
<circle cx="347.6" cy="233.8" r="0.9" fill="#f02a2a"/>
<text class="t" x="285.6" y="149.8" font-size="3.15" text-anchor="middle" dominant-baseline="middle" textLength="36.3" lengthAdjust="spacingAndGlyphs">50 years Return Period</text>
<line x1="203.3" y1="166.4" x2="204.5" y2="166.4" stroke="#777" stroke-width="0.4"/>
<text class="t" x="203.1" y="166.45" font-size="2.9" text-anchor="end" dominant-baseline="middle" style="stroke-width:0.16;fill:#111;stroke:#111">10<tspan font-size="1.9" dy="-0.55">2</tspan></text>
<line x1="203.3" y1="211.9" x2="204.5" y2="211.9" stroke="#777" stroke-width="0.4"/>
<text class="t" x="203.1" y="211.95" font-size="2.9" text-anchor="end" dominant-baseline="middle" style="stroke-width:0.16;fill:#111;stroke:#111">10<tspan font-size="1.9" dy="-0.55">1</tspan></text>
<line x1="203.7" y1="243.7" x2="204.5" y2="243.7" stroke="#999" stroke-width="0.3"/>
<line x1="203.7" y1="235.69" x2="204.5" y2="235.69" stroke="#999" stroke-width="0.3"/>
<line x1="203.7" y1="230.01" x2="204.5" y2="230.01" stroke="#999" stroke-width="0.3"/>
<line x1="203.7" y1="225.6" x2="204.5" y2="225.6" stroke="#999" stroke-width="0.3"/>
<line x1="203.7" y1="221.99" x2="204.5" y2="221.99" stroke="#999" stroke-width="0.3"/>
<line x1="203.7" y1="218.95" x2="204.5" y2="218.95" stroke="#999" stroke-width="0.3"/>
<line x1="203.7" y1="216.31" x2="204.5" y2="216.31" stroke="#999" stroke-width="0.3"/>
<line x1="203.7" y1="213.98" x2="204.5" y2="213.98" stroke="#999" stroke-width="0.3"/>
<line x1="203.7" y1="198.2" x2="204.5" y2="198.2" stroke="#999" stroke-width="0.3"/>
<line x1="203.7" y1="190.19" x2="204.5" y2="190.19" stroke="#999" stroke-width="0.3"/>
<line x1="203.7" y1="184.51" x2="204.5" y2="184.51" stroke="#999" stroke-width="0.3"/>
<line x1="203.7" y1="180.1" x2="204.5" y2="180.1" stroke="#999" stroke-width="0.3"/>
<line x1="203.7" y1="176.49" x2="204.5" y2="176.49" stroke="#999" stroke-width="0.3"/>
<line x1="203.7" y1="173.45" x2="204.5" y2="173.45" stroke="#999" stroke-width="0.3"/>
<line x1="203.7" y1="170.81" x2="204.5" y2="170.81" stroke="#999" stroke-width="0.3"/>
<line x1="203.7" y1="168.48" x2="204.5" y2="168.48" stroke="#999" stroke-width="0.3"/>
<line x1="203.7" y1="152.7" x2="204.5" y2="152.7" stroke="#999" stroke-width="0.3"/>
<text class="t" font-size="2.8" text-anchor="middle" dominant-baseline="middle" style="stroke-width:0.1;fill:#1a1a1a;stroke:#1a1a1a" transform="translate(194.5,199) rotate(-90)">Intensity, I (mm/hr)</text>
<text class="t" x="283" y="263" font-size="3" text-anchor="middle" dominant-baseline="middle" textLength="25.8" lengthAdjust="spacingAndGlyphs">Duration,D (min)</text>
<text class="t" font-size="2.9" text-anchor="end" dominant-baseline="middle" style="stroke-width:0.2" transform="translate(218.65,253.5) rotate(-90)">15</text>
<text class="t" font-size="2.9" text-anchor="end" dominant-baseline="middle" style="stroke-width:0.2" transform="translate(234.8,253.5) rotate(-90)">30</text>
<text class="t" font-size="2.9" text-anchor="end" dominant-baseline="middle" style="stroke-width:0.2" transform="translate(250.95,253.5) rotate(-90)">60</text>
<text class="t" font-size="2.9" text-anchor="end" dominant-baseline="middle" style="stroke-width:0.2" transform="translate(267.1,253.5) rotate(-90)">90</text>
<text class="t" font-size="2.9" text-anchor="end" dominant-baseline="middle" style="stroke-width:0.2" transform="translate(283.25,253.5) rotate(-90)">120</text>
<text class="t" font-size="2.9" text-anchor="end" dominant-baseline="middle" style="stroke-width:0.2" transform="translate(299.4,253.5) rotate(-90)">180</text>
<text class="t" font-size="2.9" text-anchor="end" dominant-baseline="middle" style="stroke-width:0.2" transform="translate(315.55,253.5) rotate(-90)">360</text>
<text class="t" font-size="2.9" text-anchor="end" dominant-baseline="middle" style="stroke-width:0.2" transform="translate(331.7,253.5) rotate(-90)">720</text>
<text class="t" font-size="2.9" text-anchor="end" dominant-baseline="middle" style="stroke-width:0.2" transform="translate(347.85,253.5) rotate(-90)">1440</text>
<rect x="340.6" y="149.8" width="5.6" height="1.8" fill="#1f5e98" stroke="#333" stroke-opacity="0.5" stroke-width="0.25"/>
<text class="t" x="348" y="151.3" font-size="2.4" dominant-baseline="middle" style="stroke-width:0.12;fill:#111;stroke:#111">SSP 2.6</text>
<rect x="340.6" y="153.7" width="5.6" height="1.8" fill="#cf711b" stroke="#333" stroke-opacity="0.5" stroke-width="0.25"/>
<text class="t" x="348" y="155.2" font-size="2.4" dominant-baseline="middle" style="stroke-width:0.12;fill:#111;stroke:#111">SSP 4.5</text>
<rect x="340.6" y="157.6" width="5.6" height="1.8" fill="#207d2b" stroke="#333" stroke-opacity="0.5" stroke-width="0.25"/>
<text class="t" x="348" y="159.1" font-size="2.4" dominant-baseline="middle" style="stroke-width:0.12;fill:#111;stroke:#111">SSP 7</text>
<rect x="340.6" y="161.5" width="5.6" height="1.8" fill="#a92a30" stroke="#333" stroke-opacity="0.5" stroke-width="0.25"/>
<text class="t" x="348" y="163" font-size="2.4" dominant-baseline="middle" style="stroke-width:0.12;fill:#111;stroke:#111">SSP 8.5</text>
<line x1="340.5" y1="166.3" x2="346.1" y2="166.3" stroke="#f02a2a" stroke-width="0.6"/>
<circle cx="343.3" cy="166.3" r="0.9" fill="#f02a2a"/>
<text class="t" x="348" y="166.9" font-size="2.4" dominant-baseline="middle" style="stroke-width:0.12;fill:#111;stroke:#111">OBS</text>
<rect x="396.3" y="149.3" width="151.5" height="100.1" fill="none" stroke="#cecece" stroke-width="1.1"/>
<line x1="409.6" y1="249.4" x2="409.6" y2="250.6" stroke="#777" stroke-width="0.4"/>
<line x1="425.25" y1="249.4" x2="425.25" y2="250.6" stroke="#777" stroke-width="0.4"/>
<line x1="440.9" y1="249.4" x2="440.9" y2="250.6" stroke="#777" stroke-width="0.4"/>
<line x1="456.55" y1="249.4" x2="456.55" y2="250.6" stroke="#777" stroke-width="0.4"/>
<line x1="472.2" y1="249.4" x2="472.2" y2="250.6" stroke="#777" stroke-width="0.4"/>
<line x1="487.85" y1="249.4" x2="487.85" y2="250.6" stroke="#777" stroke-width="0.4"/>
<line x1="503.5" y1="249.4" x2="503.5" y2="250.6" stroke="#777" stroke-width="0.4"/>
<line x1="519.15" y1="249.4" x2="519.15" y2="250.6" stroke="#777" stroke-width="0.4"/>
<line x1="534.8" y1="249.4" x2="534.8" y2="250.6" stroke="#777" stroke-width="0.4"/>
<line x1="404.91" y1="155.1" x2="404.91" y2="156.8" stroke="#707070" stroke-width="0.45"/>
<line x1="404.91" y1="163.7" x2="404.91" y2="174.2" stroke="#707070" stroke-width="0.45"/>
<line x1="404.12" y1="155.1" x2="405.69" y2="155.1" stroke="#555" stroke-width="0.55"/>
<line x1="404.12" y1="174.2" x2="405.69" y2="174.2" stroke="#555" stroke-width="0.55"/>
<rect x="403.44" y="156.8" width="2.93" height="6.9" fill="#2771ad" stroke="#4a4a4a" stroke-width="0.3"/>
<line x1="403.44" y1="160.25" x2="406.37" y2="160.25" stroke="#b8402c" stroke-opacity="0.75" stroke-width="0.45"/>
<line x1="408.04" y1="154.4" x2="408.04" y2="158.6" stroke="#707070" stroke-width="0.45"/>
<line x1="408.04" y1="160.3" x2="408.04" y2="174.4" stroke="#707070" stroke-width="0.45"/>
<line x1="407.25" y1="154.4" x2="408.82" y2="154.4" stroke="#555" stroke-width="0.55"/>
<line x1="407.25" y1="174.4" x2="408.82" y2="174.4" stroke="#555" stroke-width="0.55"/>
<rect x="406.57" y="158.6" width="2.93" height="1.7" fill="#ef7d1c" stroke="#4a4a4a" stroke-width="0.3"/>
<line x1="406.57" y1="159.45" x2="409.5" y2="159.45" stroke="#b8402c" stroke-opacity="0.75" stroke-width="0.45"/>
<line x1="411.17" y1="154.2" x2="411.17" y2="158.9" stroke="#707070" stroke-width="0.45"/>
<line x1="411.17" y1="173.2" x2="411.17" y2="175.3" stroke="#707070" stroke-width="0.45"/>
<line x1="410.38" y1="154.2" x2="411.95" y2="154.2" stroke="#555" stroke-width="0.55"/>
<line x1="410.38" y1="175.3" x2="411.95" y2="175.3" stroke="#555" stroke-width="0.55"/>
<rect x="409.7" y="158.9" width="2.93" height="14.3" fill="#2b9b35" stroke="#4a4a4a" stroke-width="0.3"/>
<line x1="409.7" y1="166.05" x2="412.63" y2="166.05" stroke="#b8402c" stroke-opacity="0.75" stroke-width="0.45"/>
<line x1="414.3" y1="154" x2="414.3" y2="155.8" stroke="#707070" stroke-width="0.45"/>
<line x1="414.3" y1="168.9" x2="414.3" y2="173.4" stroke="#707070" stroke-width="0.45"/>
<line x1="413.51" y1="154" x2="415.08" y2="154" stroke="#555" stroke-width="0.55"/>
<line x1="413.51" y1="173.4" x2="415.08" y2="173.4" stroke="#555" stroke-width="0.55"/>
<rect x="412.83" y="155.8" width="2.93" height="13.1" fill="#cf2f34" stroke="#4a4a4a" stroke-width="0.3"/>
<line x1="412.83" y1="162.35" x2="415.76" y2="162.35" stroke="#b8402c" stroke-opacity="0.75" stroke-width="0.45"/>
<line x1="420.56" y1="167.3" x2="420.56" y2="168.8" stroke="#707070" stroke-width="0.45"/>
<line x1="420.56" y1="175.9" x2="420.56" y2="178.3" stroke="#707070" stroke-width="0.45"/>
<line x1="419.77" y1="167.3" x2="421.34" y2="167.3" stroke="#555" stroke-width="0.55"/>
<line x1="419.77" y1="178.3" x2="421.34" y2="178.3" stroke="#555" stroke-width="0.55"/>
<rect x="419.09" y="168.8" width="2.93" height="7.1" fill="#2771ad" stroke="#4a4a4a" stroke-width="0.3"/>
<line x1="419.09" y1="172.35" x2="422.02" y2="172.35" stroke="#b8402c" stroke-opacity="0.75" stroke-width="0.45"/>
<line x1="423.69" y1="166.4" x2="423.69" y2="169.2" stroke="#707070" stroke-width="0.45"/>
<line x1="423.69" y1="171.5" x2="423.69" y2="180.7" stroke="#707070" stroke-width="0.45"/>
<line x1="422.9" y1="166.4" x2="424.47" y2="166.4" stroke="#555" stroke-width="0.55"/>
<line x1="422.9" y1="180.7" x2="424.47" y2="180.7" stroke="#555" stroke-width="0.55"/>
<rect x="422.22" y="169.2" width="2.93" height="2.3" fill="#ef7d1c" stroke="#4a4a4a" stroke-width="0.3"/>
<line x1="422.22" y1="170.35" x2="425.15" y2="170.35" stroke="#b8402c" stroke-opacity="0.75" stroke-width="0.45"/>
<line x1="426.82" y1="166.4" x2="426.82" y2="170.2" stroke="#707070" stroke-width="0.45"/>
<line x1="426.82" y1="176.7" x2="426.82" y2="177.6" stroke="#707070" stroke-width="0.45"/>
<line x1="426.03" y1="166.4" x2="427.6" y2="166.4" stroke="#555" stroke-width="0.55"/>
<line x1="426.03" y1="177.6" x2="427.6" y2="177.6" stroke="#555" stroke-width="0.55"/>
<rect x="425.35" y="170.2" width="2.93" height="6.5" fill="#2b9b35" stroke="#4a4a4a" stroke-width="0.3"/>
<line x1="425.35" y1="173.45" x2="428.28" y2="173.45" stroke="#b8402c" stroke-opacity="0.75" stroke-width="0.45"/>
<line x1="429.95" y1="166.4" x2="429.95" y2="167.8" stroke="#707070" stroke-width="0.45"/>
<line x1="429.95" y1="175.2" x2="429.95" y2="177.8" stroke="#707070" stroke-width="0.45"/>
<line x1="429.16" y1="166.4" x2="430.73" y2="166.4" stroke="#555" stroke-width="0.55"/>
<line x1="429.16" y1="177.8" x2="430.73" y2="177.8" stroke="#555" stroke-width="0.55"/>
<rect x="428.48" y="167.8" width="2.93" height="7.4" fill="#cf2f34" stroke="#4a4a4a" stroke-width="0.3"/>
<line x1="428.48" y1="171.5" x2="431.41" y2="171.5" stroke="#b8402c" stroke-opacity="0.75" stroke-width="0.45"/>
<line x1="436.21" y1="173.4" x2="436.21" y2="174.6" stroke="#707070" stroke-width="0.45"/>
<line x1="436.21" y1="181.5" x2="436.21" y2="183.6" stroke="#707070" stroke-width="0.45"/>
<line x1="435.42" y1="173.4" x2="436.99" y2="173.4" stroke="#555" stroke-width="0.55"/>
<line x1="435.42" y1="183.6" x2="436.99" y2="183.6" stroke="#555" stroke-width="0.55"/>
<rect x="434.74" y="174.6" width="2.93" height="6.9" fill="#2771ad" stroke="#4a4a4a" stroke-width="0.3"/>
<line x1="434.74" y1="178.05" x2="437.67" y2="178.05" stroke="#b8402c" stroke-opacity="0.75" stroke-width="0.45"/>
<line x1="439.34" y1="173.4" x2="439.34" y2="174.6" stroke="#707070" stroke-width="0.45"/>
<line x1="439.34" y1="178.8" x2="439.34" y2="185.7" stroke="#707070" stroke-width="0.45"/>
<line x1="438.55" y1="173.4" x2="440.12" y2="173.4" stroke="#555" stroke-width="0.55"/>
<line x1="438.55" y1="185.7" x2="440.12" y2="185.7" stroke="#555" stroke-width="0.55"/>
<rect x="437.87" y="174.6" width="2.93" height="4.2" fill="#ef7d1c" stroke="#4a4a4a" stroke-width="0.3"/>
<line x1="437.87" y1="176.7" x2="440.8" y2="176.7" stroke="#b8402c" stroke-opacity="0.75" stroke-width="0.45"/>
<line x1="442.47" y1="173.4" x2="442.47" y2="176.2" stroke="#707070" stroke-width="0.45"/>
<line x1="442.47" y1="178.3" x2="442.47" y2="179.5" stroke="#707070" stroke-width="0.45"/>
<line x1="441.68" y1="173.4" x2="443.25" y2="173.4" stroke="#555" stroke-width="0.55"/>
<line x1="441.68" y1="179.5" x2="443.25" y2="179.5" stroke="#555" stroke-width="0.55"/>
<rect x="441" y="176.2" width="2.93" height="2.1" fill="#2b9b35" stroke="#4a4a4a" stroke-width="0.3"/>
<line x1="441" y1="177.25" x2="443.93" y2="177.25" stroke="#b8402c" stroke-opacity="0.75" stroke-width="0.45"/>
<line x1="445.6" y1="173.4" x2="445.6" y2="174.6" stroke="#707070" stroke-width="0.45"/>
<line x1="445.6" y1="178.3" x2="445.6" y2="181.5" stroke="#707070" stroke-width="0.45"/>
<line x1="444.81" y1="173.4" x2="446.38" y2="173.4" stroke="#555" stroke-width="0.55"/>
<line x1="444.81" y1="181.5" x2="446.38" y2="181.5" stroke="#555" stroke-width="0.55"/>
<rect x="444.13" y="174.6" width="2.93" height="3.7" fill="#cf2f34" stroke="#4a4a4a" stroke-width="0.3"/>
<line x1="444.13" y1="176.45" x2="447.06" y2="176.45" stroke="#b8402c" stroke-opacity="0.75" stroke-width="0.45"/>
<line x1="451.86" y1="184.7" x2="451.86" y2="186.3" stroke="#707070" stroke-width="0.45"/>
<line x1="451.86" y1="191.8" x2="451.86" y2="193.9" stroke="#707070" stroke-width="0.45"/>
<line x1="451.07" y1="184.7" x2="452.64" y2="184.7" stroke="#555" stroke-width="0.55"/>
<line x1="451.07" y1="193.9" x2="452.64" y2="193.9" stroke="#555" stroke-width="0.55"/>
<rect x="450.39" y="186.3" width="2.93" height="5.5" fill="#2771ad" stroke="#4a4a4a" stroke-width="0.3"/>
<line x1="450.39" y1="189.05" x2="453.32" y2="189.05" stroke="#b8402c" stroke-opacity="0.75" stroke-width="0.45"/>
<line x1="454.99" y1="184.7" x2="454.99" y2="186.5" stroke="#707070" stroke-width="0.45"/>
<line x1="454.99" y1="188.4" x2="454.99" y2="194.2" stroke="#707070" stroke-width="0.45"/>
<line x1="454.2" y1="184.7" x2="455.77" y2="184.7" stroke="#555" stroke-width="0.55"/>
<line x1="454.2" y1="194.2" x2="455.77" y2="194.2" stroke="#555" stroke-width="0.55"/>
<rect x="453.52" y="186.5" width="2.93" height="1.9" fill="#ef7d1c" stroke="#4a4a4a" stroke-width="0.3"/>
<line x1="453.52" y1="187.45" x2="456.45" y2="187.45" stroke="#b8402c" stroke-opacity="0.75" stroke-width="0.45"/>
<line x1="458.12" y1="184.7" x2="458.12" y2="186.8" stroke="#707070" stroke-width="0.45"/>
<line x1="458.12" y1="188.2" x2="458.12" y2="189.8" stroke="#707070" stroke-width="0.45"/>
<line x1="457.33" y1="184.7" x2="458.9" y2="184.7" stroke="#555" stroke-width="0.55"/>
<line x1="457.33" y1="189.8" x2="458.9" y2="189.8" stroke="#555" stroke-width="0.55"/>
<rect x="456.65" y="186.8" width="2.93" height="1.4" fill="#2b9b35" stroke="#4a4a4a" stroke-width="0.3"/>
<line x1="456.65" y1="187.5" x2="459.58" y2="187.5" stroke="#b8402c" stroke-opacity="0.75" stroke-width="0.45"/>
<line x1="461.25" y1="184.4" x2="461.25" y2="186.3" stroke="#707070" stroke-width="0.45"/>
<line x1="461.25" y1="189.5" x2="461.25" y2="190.3" stroke="#707070" stroke-width="0.45"/>
<line x1="460.46" y1="184.4" x2="462.03" y2="184.4" stroke="#555" stroke-width="0.55"/>
<line x1="460.46" y1="190.3" x2="462.03" y2="190.3" stroke="#555" stroke-width="0.55"/>
<rect x="459.78" y="186.3" width="2.93" height="3.2" fill="#cf2f34" stroke="#4a4a4a" stroke-width="0.3"/>
<line x1="459.78" y1="187.9" x2="462.71" y2="187.9" stroke="#b8402c" stroke-opacity="0.75" stroke-width="0.45"/>
<line x1="467.5" y1="196" x2="467.5" y2="197.7" stroke="#707070" stroke-width="0.45"/>
<line x1="467.5" y1="202.9" x2="467.5" y2="204.2" stroke="#707070" stroke-width="0.45"/>
<line x1="466.72" y1="196" x2="468.29" y2="196" stroke="#555" stroke-width="0.55"/>
<line x1="466.72" y1="204.2" x2="468.29" y2="204.2" stroke="#555" stroke-width="0.55"/>
<rect x="466.04" y="197.7" width="2.93" height="5.2" fill="#2771ad" stroke="#4a4a4a" stroke-width="0.3"/>
<line x1="466.04" y1="200.3" x2="468.97" y2="200.3" stroke="#b8402c" stroke-opacity="0.75" stroke-width="0.45"/>
<line x1="470.63" y1="195.6" x2="470.63" y2="197.9" stroke="#707070" stroke-width="0.45"/>
<line x1="470.63" y1="199.5" x2="470.63" y2="204.2" stroke="#707070" stroke-width="0.45"/>
<line x1="469.85" y1="195.6" x2="471.42" y2="195.6" stroke="#555" stroke-width="0.55"/>
<line x1="469.85" y1="204.2" x2="471.42" y2="204.2" stroke="#555" stroke-width="0.55"/>
<rect x="469.17" y="197.9" width="2.93" height="1.6" fill="#ef7d1c" stroke="#4a4a4a" stroke-width="0.3"/>
<line x1="469.17" y1="198.7" x2="472.1" y2="198.7" stroke="#b8402c" stroke-opacity="0.75" stroke-width="0.45"/>
<line x1="473.76" y1="195.8" x2="473.76" y2="198.1" stroke="#707070" stroke-width="0.45"/>
<line x1="473.76" y1="199.5" x2="473.76" y2="201" stroke="#707070" stroke-width="0.45"/>
<line x1="472.98" y1="195.8" x2="474.55" y2="195.8" stroke="#555" stroke-width="0.55"/>
<line x1="472.98" y1="201" x2="474.55" y2="201" stroke="#555" stroke-width="0.55"/>
<rect x="472.3" y="198.1" width="2.93" height="1.4" fill="#2b9b35" stroke="#4a4a4a" stroke-width="0.3"/>
<line x1="472.3" y1="198.8" x2="475.23" y2="198.8" stroke="#b8402c" stroke-opacity="0.75" stroke-width="0.45"/>
<line x1="476.89" y1="195.6" x2="476.89" y2="197.4" stroke="#707070" stroke-width="0.45"/>
<line x1="476.89" y1="200.2" x2="476.89" y2="201.6" stroke="#707070" stroke-width="0.45"/>
<line x1="476.11" y1="195.6" x2="477.68" y2="195.6" stroke="#555" stroke-width="0.55"/>
<line x1="476.11" y1="201.6" x2="477.68" y2="201.6" stroke="#555" stroke-width="0.55"/>
<rect x="475.43" y="197.4" width="2.93" height="2.8" fill="#cf2f34" stroke="#4a4a4a" stroke-width="0.3"/>
<line x1="475.43" y1="198.8" x2="478.36" y2="198.8" stroke="#b8402c" stroke-opacity="0.75" stroke-width="0.45"/>
<line x1="483.16" y1="204" x2="483.16" y2="205.9" stroke="#707070" stroke-width="0.45"/>
<line x1="483.16" y1="208.5" x2="483.16" y2="210.6" stroke="#707070" stroke-width="0.45"/>
<line x1="482.37" y1="204" x2="483.94" y2="204" stroke="#555" stroke-width="0.55"/>
<line x1="482.37" y1="210.6" x2="483.94" y2="210.6" stroke="#555" stroke-width="0.55"/>
<rect x="481.69" y="205.9" width="2.93" height="2.6" fill="#2771ad" stroke="#4a4a4a" stroke-width="0.3"/>
<line x1="481.69" y1="207.2" x2="484.62" y2="207.2" stroke="#b8402c" stroke-opacity="0.75" stroke-width="0.45"/>
<line x1="486.29" y1="203.5" x2="486.29" y2="205.2" stroke="#707070" stroke-width="0.45"/>
<line x1="486.29" y1="208" x2="486.29" y2="212.2" stroke="#707070" stroke-width="0.45"/>
<line x1="485.5" y1="203.5" x2="487.07" y2="203.5" stroke="#555" stroke-width="0.55"/>
<line x1="485.5" y1="212.2" x2="487.07" y2="212.2" stroke="#555" stroke-width="0.55"/>
<rect x="484.82" y="205.2" width="2.93" height="2.8" fill="#ef7d1c" stroke="#4a4a4a" stroke-width="0.3"/>
<line x1="484.82" y1="206.6" x2="487.75" y2="206.6" stroke="#b8402c" stroke-opacity="0.75" stroke-width="0.45"/>
<line x1="489.42" y1="203.5" x2="489.42" y2="205.4" stroke="#707070" stroke-width="0.45"/>
<line x1="489.42" y1="207" x2="489.42" y2="208.5" stroke="#707070" stroke-width="0.45"/>
<line x1="488.63" y1="203.5" x2="490.2" y2="203.5" stroke="#555" stroke-width="0.55"/>
<line x1="488.63" y1="208.5" x2="490.2" y2="208.5" stroke="#555" stroke-width="0.55"/>
<rect x="487.95" y="205.4" width="2.93" height="1.6" fill="#2b9b35" stroke="#4a4a4a" stroke-width="0.3"/>
<line x1="487.95" y1="206.2" x2="490.88" y2="206.2" stroke="#b8402c" stroke-opacity="0.75" stroke-width="0.45"/>
<line x1="492.55" y1="203.3" x2="492.55" y2="204.8" stroke="#707070" stroke-width="0.45"/>
<line x1="492.55" y1="207.5" x2="492.55" y2="209" stroke="#707070" stroke-width="0.45"/>
<line x1="491.76" y1="203.3" x2="493.33" y2="203.3" stroke="#555" stroke-width="0.55"/>
<line x1="491.76" y1="209" x2="493.33" y2="209" stroke="#555" stroke-width="0.55"/>
<rect x="491.08" y="204.8" width="2.93" height="2.7" fill="#cf2f34" stroke="#4a4a4a" stroke-width="0.3"/>
<line x1="491.08" y1="206.15" x2="494.01" y2="206.15" stroke="#b8402c" stroke-opacity="0.75" stroke-width="0.45"/>
<line x1="498.81" y1="212.2" x2="498.81" y2="213.8" stroke="#707070" stroke-width="0.45"/>
<line x1="498.81" y1="218.8" x2="498.81" y2="221.2" stroke="#707070" stroke-width="0.45"/>
<line x1="498.02" y1="212.2" x2="499.59" y2="212.2" stroke="#555" stroke-width="0.55"/>
<line x1="498.02" y1="221.2" x2="499.59" y2="221.2" stroke="#555" stroke-width="0.55"/>
<rect x="497.34" y="213.8" width="2.93" height="5" fill="#2771ad" stroke="#4a4a4a" stroke-width="0.3"/>
<line x1="497.34" y1="216.3" x2="500.27" y2="216.3" stroke="#b8402c" stroke-opacity="0.75" stroke-width="0.45"/>
<line x1="501.94" y1="212.2" x2="501.94" y2="213.8" stroke="#707070" stroke-width="0.45"/>
<line x1="501.94" y1="216.9" x2="501.94" y2="220.3" stroke="#707070" stroke-width="0.45"/>
<line x1="501.15" y1="212.2" x2="502.72" y2="212.2" stroke="#555" stroke-width="0.55"/>
<line x1="501.15" y1="220.3" x2="502.72" y2="220.3" stroke="#555" stroke-width="0.55"/>
<rect x="500.47" y="213.8" width="2.93" height="3.1" fill="#ef7d1c" stroke="#4a4a4a" stroke-width="0.3"/>
<line x1="500.47" y1="215.35" x2="503.4" y2="215.35" stroke="#b8402c" stroke-opacity="0.75" stroke-width="0.45"/>
<line x1="505.07" y1="212.2" x2="505.07" y2="213.3" stroke="#707070" stroke-width="0.45"/>
<line x1="505.07" y1="215.4" x2="505.07" y2="217" stroke="#707070" stroke-width="0.45"/>
<line x1="504.28" y1="212.2" x2="505.85" y2="212.2" stroke="#555" stroke-width="0.55"/>
<line x1="504.28" y1="217" x2="505.85" y2="217" stroke="#555" stroke-width="0.55"/>
<rect x="503.6" y="213.3" width="2.93" height="2.1" fill="#2b9b35" stroke="#4a4a4a" stroke-width="0.3"/>
<line x1="503.6" y1="214.35" x2="506.53" y2="214.35" stroke="#b8402c" stroke-opacity="0.75" stroke-width="0.45"/>
<line x1="508.2" y1="211.5" x2="508.2" y2="212.9" stroke="#707070" stroke-width="0.45"/>
<line x1="508.2" y1="215.7" x2="508.2" y2="217.5" stroke="#707070" stroke-width="0.45"/>
<line x1="507.41" y1="211.5" x2="508.98" y2="211.5" stroke="#555" stroke-width="0.55"/>
<line x1="507.41" y1="217.5" x2="508.98" y2="217.5" stroke="#555" stroke-width="0.55"/>
<rect x="506.73" y="212.9" width="2.93" height="2.8" fill="#cf2f34" stroke="#4a4a4a" stroke-width="0.3"/>
<line x1="506.73" y1="214.3" x2="509.66" y2="214.3" stroke="#b8402c" stroke-opacity="0.75" stroke-width="0.45"/>
<line x1="514.45" y1="218.8" x2="514.45" y2="221.6" stroke="#707070" stroke-width="0.45"/>
<line x1="514.45" y1="231.3" x2="514.45" y2="233.9" stroke="#707070" stroke-width="0.45"/>
<line x1="513.67" y1="218.8" x2="515.24" y2="218.8" stroke="#555" stroke-width="0.55"/>
<line x1="513.67" y1="233.9" x2="515.24" y2="233.9" stroke="#555" stroke-width="0.55"/>
<rect x="512.99" y="221.6" width="2.93" height="9.7" fill="#2771ad" stroke="#4a4a4a" stroke-width="0.3"/>
<line x1="512.99" y1="226.45" x2="515.92" y2="226.45" stroke="#b8402c" stroke-opacity="0.75" stroke-width="0.45"/>
<line x1="517.59" y1="217" x2="517.59" y2="219.3" stroke="#707070" stroke-width="0.45"/>
<line x1="517.59" y1="225.3" x2="517.59" y2="232.8" stroke="#707070" stroke-width="0.45"/>
<line x1="516.8" y1="217" x2="518.37" y2="217" stroke="#555" stroke-width="0.55"/>
<line x1="516.8" y1="232.8" x2="518.37" y2="232.8" stroke="#555" stroke-width="0.55"/>
<rect x="516.12" y="219.3" width="2.93" height="6" fill="#ef7d1c" stroke="#4a4a4a" stroke-width="0.3"/>
<line x1="516.12" y1="222.3" x2="519.05" y2="222.3" stroke="#b8402c" stroke-opacity="0.75" stroke-width="0.45"/>
<line x1="520.71" y1="218.5" x2="520.71" y2="221.3" stroke="#707070" stroke-width="0.45"/>
<line x1="520.71" y1="224.6" x2="520.71" y2="227.6" stroke="#707070" stroke-width="0.45"/>
<line x1="519.93" y1="218.5" x2="521.5" y2="218.5" stroke="#555" stroke-width="0.55"/>
<line x1="519.93" y1="227.6" x2="521.5" y2="227.6" stroke="#555" stroke-width="0.55"/>
<rect x="519.25" y="221.3" width="2.93" height="3.3" fill="#2b9b35" stroke="#4a4a4a" stroke-width="0.3"/>
<line x1="519.25" y1="222.95" x2="522.18" y2="222.95" stroke="#b8402c" stroke-opacity="0.75" stroke-width="0.45"/>
<line x1="523.85" y1="213.7" x2="523.85" y2="217" stroke="#707070" stroke-width="0.45"/>
<line x1="523.85" y1="223.8" x2="523.85" y2="232.8" stroke="#707070" stroke-width="0.45"/>
<line x1="523.06" y1="213.7" x2="524.63" y2="213.7" stroke="#555" stroke-width="0.55"/>
<line x1="523.06" y1="232.8" x2="524.63" y2="232.8" stroke="#555" stroke-width="0.55"/>
<rect x="522.38" y="217" width="2.93" height="6.8" fill="#cf2f34" stroke="#4a4a4a" stroke-width="0.3"/>
<line x1="522.38" y1="220.4" x2="525.31" y2="220.4" stroke="#b8402c" stroke-opacity="0.75" stroke-width="0.45"/>
<line x1="530.11" y1="227.5" x2="530.11" y2="229.1" stroke="#707070" stroke-width="0.45"/>
<line x1="530.11" y1="236.6" x2="530.11" y2="244.9" stroke="#707070" stroke-width="0.45"/>
<line x1="529.32" y1="227.5" x2="530.89" y2="227.5" stroke="#555" stroke-width="0.55"/>
<line x1="529.32" y1="244.9" x2="530.89" y2="244.9" stroke="#555" stroke-width="0.55"/>
<rect x="528.64" y="229.1" width="2.93" height="7.5" fill="#2771ad" stroke="#4a4a4a" stroke-width="0.3"/>
<line x1="528.64" y1="232.85" x2="531.57" y2="232.85" stroke="#b8402c" stroke-opacity="0.75" stroke-width="0.45"/>
<line x1="533.23" y1="226.8" x2="533.23" y2="229.1" stroke="#707070" stroke-width="0.45"/>
<line x1="533.23" y1="232.1" x2="533.23" y2="240.4" stroke="#707070" stroke-width="0.45"/>
<line x1="532.45" y1="226.8" x2="534.02" y2="226.8" stroke="#555" stroke-width="0.55"/>
<line x1="532.45" y1="240.4" x2="534.02" y2="240.4" stroke="#555" stroke-width="0.55"/>
<rect x="531.77" y="229.1" width="2.93" height="3" fill="#ef7d1c" stroke="#4a4a4a" stroke-width="0.3"/>
<line x1="531.77" y1="230.6" x2="534.7" y2="230.6" stroke="#b8402c" stroke-opacity="0.75" stroke-width="0.45"/>
<line x1="536.37" y1="226.8" x2="536.37" y2="229.1" stroke="#707070" stroke-width="0.45"/>
<line x1="536.37" y1="231.8" x2="536.37" y2="234" stroke="#707070" stroke-width="0.45"/>
<line x1="535.58" y1="226.8" x2="537.15" y2="226.8" stroke="#555" stroke-width="0.55"/>
<line x1="535.58" y1="234" x2="537.15" y2="234" stroke="#555" stroke-width="0.55"/>
<rect x="534.9" y="229.1" width="2.93" height="2.7" fill="#2b9b35" stroke="#4a4a4a" stroke-width="0.3"/>
<line x1="534.9" y1="230.45" x2="537.83" y2="230.45" stroke="#b8402c" stroke-opacity="0.75" stroke-width="0.45"/>
<line x1="539.49" y1="223.8" x2="539.49" y2="225.8" stroke="#707070" stroke-width="0.45"/>
<line x1="539.49" y1="232.8" x2="539.49" y2="238.1" stroke="#707070" stroke-width="0.45"/>
<line x1="538.71" y1="223.8" x2="540.28" y2="223.8" stroke="#555" stroke-width="0.55"/>
<line x1="538.71" y1="238.1" x2="540.28" y2="238.1" stroke="#555" stroke-width="0.55"/>
<rect x="538.03" y="225.8" width="2.93" height="7" fill="#cf2f34" stroke="#4a4a4a" stroke-width="0.3"/>
<line x1="538.03" y1="229.3" x2="540.96" y2="229.3" stroke="#b8402c" stroke-opacity="0.75" stroke-width="0.45"/>
<polyline points="409.6,163.7 425.25,174.4 440.9,178.8 456.55,189.3 472.2,200 487.85,207.5 503.5,216.4 519.15,224.6 534.8,232.4" fill="none" stroke="#f02a2a" stroke-width="0.7" stroke-opacity="0.9"/>
<circle cx="409.6" cy="163.7" r="0.9" fill="#f02a2a"/>
<circle cx="425.25" cy="174.4" r="0.9" fill="#f02a2a"/>
<circle cx="440.9" cy="178.8" r="0.9" fill="#f02a2a"/>
<circle cx="456.55" cy="189.3" r="0.9" fill="#f02a2a"/>
<circle cx="472.2" cy="200" r="0.9" fill="#f02a2a"/>
<circle cx="487.85" cy="207.5" r="0.9" fill="#f02a2a"/>
<circle cx="503.5" cy="216.4" r="0.9" fill="#f02a2a"/>
<circle cx="519.15" cy="224.6" r="0.9" fill="#f02a2a"/>
<circle cx="534.8" cy="232.4" r="0.9" fill="#f02a2a"/>
<text class="t" x="475.8" y="151.8" font-size="3.09" text-anchor="middle" dominant-baseline="middle" textLength="36.7" lengthAdjust="spacingAndGlyphs">100 years Return Period</text>
<line x1="395.1" y1="170.3" x2="396.3" y2="170.3" stroke="#777" stroke-width="0.4"/>
<text class="t" x="394.9" y="170.35" font-size="2.9" text-anchor="end" dominant-baseline="middle" style="stroke-width:0.16;fill:#111;stroke:#111">10<tspan font-size="1.9" dy="-0.55">2</tspan></text>
<line x1="395.1" y1="214.2" x2="396.3" y2="214.2" stroke="#777" stroke-width="0.4"/>
<text class="t" x="394.9" y="214.25" font-size="2.9" text-anchor="end" dominant-baseline="middle" style="stroke-width:0.16;fill:#111;stroke:#111">10<tspan font-size="1.9" dy="-0.55">1</tspan></text>
<line x1="395.5" y1="244.88" x2="396.3" y2="244.88" stroke="#999" stroke-width="0.3"/>
<line x1="395.5" y1="237.15" x2="396.3" y2="237.15" stroke="#999" stroke-width="0.3"/>
<line x1="395.5" y1="231.67" x2="396.3" y2="231.67" stroke="#999" stroke-width="0.3"/>
<line x1="395.5" y1="227.42" x2="396.3" y2="227.42" stroke="#999" stroke-width="0.3"/>
<line x1="395.5" y1="223.94" x2="396.3" y2="223.94" stroke="#999" stroke-width="0.3"/>
<line x1="395.5" y1="221" x2="396.3" y2="221" stroke="#999" stroke-width="0.3"/>
<line x1="395.5" y1="218.45" x2="396.3" y2="218.45" stroke="#999" stroke-width="0.3"/>
<line x1="395.5" y1="216.21" x2="396.3" y2="216.21" stroke="#999" stroke-width="0.3"/>
<line x1="395.5" y1="200.98" x2="396.3" y2="200.98" stroke="#999" stroke-width="0.3"/>
<line x1="395.5" y1="193.25" x2="396.3" y2="193.25" stroke="#999" stroke-width="0.3"/>
<line x1="395.5" y1="187.77" x2="396.3" y2="187.77" stroke="#999" stroke-width="0.3"/>
<line x1="395.5" y1="183.52" x2="396.3" y2="183.52" stroke="#999" stroke-width="0.3"/>
<line x1="395.5" y1="180.04" x2="396.3" y2="180.04" stroke="#999" stroke-width="0.3"/>
<line x1="395.5" y1="177.1" x2="396.3" y2="177.1" stroke="#999" stroke-width="0.3"/>
<line x1="395.5" y1="174.55" x2="396.3" y2="174.55" stroke="#999" stroke-width="0.3"/>
<line x1="395.5" y1="172.31" x2="396.3" y2="172.31" stroke="#999" stroke-width="0.3"/>
<line x1="395.5" y1="157.08" x2="396.3" y2="157.08" stroke="#999" stroke-width="0.3"/>
<text class="t" font-size="2.74" text-anchor="middle" dominant-baseline="middle" style="stroke-width:0.1;fill:#1a1a1a;stroke:#1a1a1a" transform="translate(387,199) rotate(-90)">Intensity, I (mm/hr)</text>
<text class="t" x="472.3" y="261.2" font-size="2.94" text-anchor="middle" dominant-baseline="middle" textLength="25.6" lengthAdjust="spacingAndGlyphs">Duration,D (min)</text>
<text class="t" font-size="2.78" text-anchor="end" dominant-baseline="middle" style="stroke-width:0.2" transform="translate(409.85,251.7) rotate(-90)">15</text>
<text class="t" font-size="2.78" text-anchor="end" dominant-baseline="middle" style="stroke-width:0.2" transform="translate(425.5,251.7) rotate(-90)">30</text>
<text class="t" font-size="2.78" text-anchor="end" dominant-baseline="middle" style="stroke-width:0.2" transform="translate(441.15,251.7) rotate(-90)">60</text>
<text class="t" font-size="2.78" text-anchor="end" dominant-baseline="middle" style="stroke-width:0.2" transform="translate(456.8,251.7) rotate(-90)">90</text>
<text class="t" font-size="2.78" text-anchor="end" dominant-baseline="middle" style="stroke-width:0.2" transform="translate(472.45,251.7) rotate(-90)">120</text>
<text class="t" font-size="2.78" text-anchor="end" dominant-baseline="middle" style="stroke-width:0.2" transform="translate(488.1,251.7) rotate(-90)">180</text>
<text class="t" font-size="2.78" text-anchor="end" dominant-baseline="middle" style="stroke-width:0.2" transform="translate(503.75,251.7) rotate(-90)">360</text>
<text class="t" font-size="2.78" text-anchor="end" dominant-baseline="middle" style="stroke-width:0.2" transform="translate(519.4,251.7) rotate(-90)">720</text>
<text class="t" font-size="2.78" text-anchor="end" dominant-baseline="middle" style="stroke-width:0.2" transform="translate(535.05,251.7) rotate(-90)">1440</text>
<rect x="528.1" y="151.4" width="5.6" height="1.8" fill="#1f5e98" stroke="#333" stroke-opacity="0.5" stroke-width="0.25"/>
<text class="t" x="535.5" y="152.9" font-size="2.35" dominant-baseline="middle" style="stroke-width:0.12;fill:#111;stroke:#111">SSP 2.6</text>
<rect x="528.1" y="155.2" width="5.6" height="1.8" fill="#cf711b" stroke="#333" stroke-opacity="0.5" stroke-width="0.25"/>
<text class="t" x="535.5" y="156.7" font-size="2.35" dominant-baseline="middle" style="stroke-width:0.12;fill:#111;stroke:#111">SSP 4.5</text>
<rect x="528.1" y="159" width="5.6" height="1.8" fill="#207d2b" stroke="#333" stroke-opacity="0.5" stroke-width="0.25"/>
<text class="t" x="535.5" y="160.5" font-size="2.35" dominant-baseline="middle" style="stroke-width:0.12;fill:#111;stroke:#111">SSP 7</text>
<rect x="528.1" y="162.8" width="5.6" height="1.8" fill="#a92a30" stroke="#333" stroke-opacity="0.5" stroke-width="0.25"/>
<text class="t" x="535.5" y="164.3" font-size="2.35" dominant-baseline="middle" style="stroke-width:0.12;fill:#111;stroke:#111">SSP 8.5</text>
<line x1="528" y1="167.5" x2="533.6" y2="167.5" stroke="#f02a2a" stroke-width="0.6"/>
<circle cx="530.8" cy="167.5" r="0.9" fill="#f02a2a"/>
<text class="t" x="535.5" y="168.1" font-size="2.35" dominant-baseline="middle" style="stroke-width:0.12;fill:#111;stroke:#111">OBS</text>
</g>
</svg></body></html>
